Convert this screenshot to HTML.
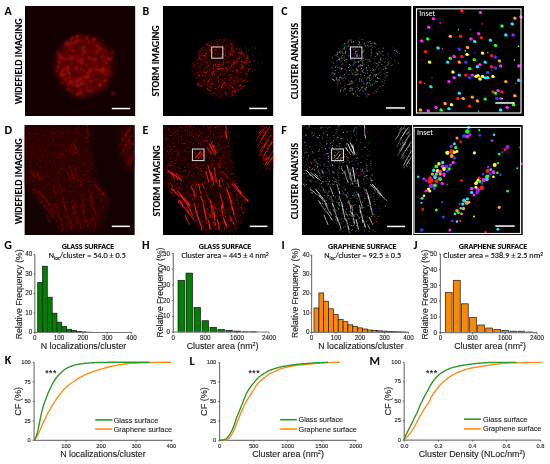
<!DOCTYPE html><html><head><meta charset="utf-8"><style>
html,body{margin:0;padding:0;background:#fff;}
svg{display:block;}
.pl{font-family:Carlito, Calibri, 'Liberation Sans', sans-serif;font-weight:bold;font-size:12px;fill:#000;}
.vl{font-family:Carlito, Calibri, 'Liberation Sans', sans-serif;font-weight:bold;font-size:9.3px;fill:#000;stroke:#000;stroke-width:0.1px;}
.ins{font-family:Carlito, Calibri, 'Liberation Sans', sans-serif;font-size:8px;fill:#f8f8f8;}
.tk{font-family:'Liberation Sans', Arial, sans-serif;font-size:6.3px;fill:#222;stroke:#222;stroke-width:0.12px;}
.tk2{font-family:'Liberation Sans', Arial, sans-serif;font-size:5.75px;fill:#222;stroke:#222;stroke-width:0.12px;}
.tt{font-family:Carlito, Calibri, 'Liberation Sans', sans-serif;font-weight:bold;font-size:8px;fill:#000;stroke:#000;stroke-width:0.1px;}
.st{font-family:Carlito, Calibri, 'Liberation Sans', sans-serif;font-size:8.2px;fill:#111;stroke:#111;stroke-width:0.15px;}
.sub{font-size:5px;}
.sup{font-size:5.2px;}
.yt{font-family:'Liberation Sans', Arial, sans-serif;font-size:8.6px;fill:#222;stroke:#222;stroke-width:0.12px;}
.yt2{font-family:'Liberation Sans', Arial, sans-serif;font-size:9.1px;fill:#222;stroke:#222;stroke-width:0.12px;}
.xt{font-family:'Liberation Sans', Arial, sans-serif;font-size:8.85px;fill:#1a1a1a;stroke:#1a1a1a;stroke-width:0.12px;}
.lg{font-family:'Liberation Sans', Arial, sans-serif;font-size:7.3px;fill:#222;stroke:#222;stroke-width:0.1px;}
.ast{font-family:'Liberation Sans', Arial, sans-serif;font-weight:bold;font-size:8.5px;fill:#333;letter-spacing:0.6px;}
</style></head><body><svg width="550" height="464" viewBox="0 0 550 464"><defs>
<filter id="blur2" x="-20%" y="-20%" width="140%" height="140%"><feGaussianBlur stdDeviation="3"/></filter>
<clipPath id="clip110"><rect width="110.4" height="110"/></clipPath>
<filter id="blur1" x="-10%" y="-10%" width="120%" height="120%"><feGaussianBlur stdDeviation="0.7"/></filter>
<filter id="blur15" x="-10%" y="-10%" width="120%" height="120%"><feGaussianBlur stdDeviation="1"/></filter>
</defs><rect width="550" height="464" fill="#fff"/><text x="4.6" y="14.6" class="pl">A</text><text transform="translate(21.9,61.4) rotate(-90)" class="vl" text-anchor="middle" textLength="85.8" lengthAdjust="spacingAndGlyphs">WIDEFIELD IMAGING</text><g transform="translate(25,6)" clip-path="url(#clip110)"><rect width="110.4" height="110" fill="#140000"/><g filter="url(#blur2)"><ellipse cx="59.5" cy="60" rx="28.5" ry="29.5" fill="#4a0505"/></g><g filter="url(#blur15)"><path d="M36.3 60.8a1.6 1.6 0 1 0 3.2 0a1.6 1.6 0 1 0 -3.2 0zM69.9 68.1a0.9 0.9 0 1 0 1.8 0a0.9 0.9 0 1 0 -1.8 0zM56.6 55.8a0.9 0.9 0 1 0 1.8 0a0.9 0.9 0 1 0 -1.8 0zM63.5 32.6a0.9 0.9 0 1 0 1.8 0a0.9 0.9 0 1 0 -1.8 0zM37.7 72.2a1.2 1.2 0 1 0 2.4 0a1.2 1.2 0 1 0 -2.4 0zM29.9 48.3a1.2 1.2 0 1 0 2.4 0a1.2 1.2 0 1 0 -2.4 0zM82.2 52a0.9 0.9 0 1 0 1.8 0a0.9 0.9 0 1 0 -1.8 0zM30.4 65.8a0.9 0.9 0 1 0 1.8 0a0.9 0.9 0 1 0 -1.8 0zM57 70.7a1.6 1.6 0 1 0 3.2 0a1.6 1.6 0 1 0 -3.2 0zM67.1 44.6a0.9 0.9 0 1 0 1.8 0a0.9 0.9 0 1 0 -1.8 0zM83.8 65.1a1.6 1.6 0 1 0 3.2 0a1.6 1.6 0 1 0 -3.2 0zM70.3 59a0.9 0.9 0 1 0 1.8 0a0.9 0.9 0 1 0 -1.8 0zM38 36.9a1.2 1.2 0 1 0 2.4 0a1.2 1.2 0 1 0 -2.4 0zM56.8 89.8a1.2 1.2 0 1 0 2.4 0a1.2 1.2 0 1 0 -2.4 0zM45.5 83.7a1.6 1.6 0 1 0 3.2 0a1.6 1.6 0 1 0 -3.2 0zM42.9 67.5a1.6 1.6 0 1 0 3.2 0a1.6 1.6 0 1 0 -3.2 0zM73.8 37.5a1.2 1.2 0 1 0 2.4 0a1.2 1.2 0 1 0 -2.4 0zM56.6 70.6a0.9 0.9 0 1 0 1.8 0a0.9 0.9 0 1 0 -1.8 0zM51.1 31.1a1.2 1.2 0 1 0 2.4 0a1.2 1.2 0 1 0 -2.4 0zM42.4 75.3a0.9 0.9 0 1 0 1.8 0a0.9 0.9 0 1 0 -1.8 0zM48.2 30.8a1.2 1.2 0 1 0 2.4 0a1.2 1.2 0 1 0 -2.4 0zM47.7 54.5a1.2 1.2 0 1 0 2.4 0a1.2 1.2 0 1 0 -2.4 0zM71.3 55.8a1.2 1.2 0 1 0 2.4 0a1.2 1.2 0 1 0 -2.4 0zM64.6 73.2a0.9 0.9 0 1 0 1.8 0a0.9 0.9 0 1 0 -1.8 0zM54.2 64.1a1.6 1.6 0 1 0 3.2 0a1.6 1.6 0 1 0 -3.2 0zM60.8 65.1a0.9 0.9 0 1 0 1.8 0a0.9 0.9 0 1 0 -1.8 0zM52.9 33a0.9 0.9 0 1 0 1.8 0a0.9 0.9 0 1 0 -1.8 0zM51.4 81.1a1.6 1.6 0 1 0 3.2 0a1.6 1.6 0 1 0 -3.2 0zM32.4 60.7a1.2 1.2 0 1 0 2.4 0a1.2 1.2 0 1 0 -2.4 0zM81.2 68.1a1.6 1.6 0 1 0 3.2 0a1.6 1.6 0 1 0 -3.2 0zM38.7 40.1a1.6 1.6 0 1 0 3.2 0a1.6 1.6 0 1 0 -3.2 0zM51 55.4a1.2 1.2 0 1 0 2.4 0a1.2 1.2 0 1 0 -2.4 0zM62.1 74.3a0.9 0.9 0 1 0 1.8 0a0.9 0.9 0 1 0 -1.8 0zM52.3 73a0.9 0.9 0 1 0 1.8 0a0.9 0.9 0 1 0 -1.8 0zM80.3 58.7a0.9 0.9 0 1 0 1.8 0a0.9 0.9 0 1 0 -1.8 0zM60.1 64.8a0.9 0.9 0 1 0 1.8 0a0.9 0.9 0 1 0 -1.8 0zM56.1 78.5a1.2 1.2 0 1 0 2.4 0a1.2 1.2 0 1 0 -2.4 0zM54.2 67.1a0.9 0.9 0 1 0 1.8 0a0.9 0.9 0 1 0 -1.8 0zM37.8 53.6a1.2 1.2 0 1 0 2.4 0a1.2 1.2 0 1 0 -2.4 0zM66.4 31.6a0.9 0.9 0 1 0 1.8 0a0.9 0.9 0 1 0 -1.8 0zM46.1 30.9a1.6 1.6 0 1 0 3.2 0a1.6 1.6 0 1 0 -3.2 0zM80.4 43.1a0.9 0.9 0 1 0 1.8 0a0.9 0.9 0 1 0 -1.8 0zM32.7 48.1a1.6 1.6 0 1 0 3.2 0a1.6 1.6 0 1 0 -3.2 0zM52.5 75.6a0.9 0.9 0 1 0 1.8 0a0.9 0.9 0 1 0 -1.8 0zM68.8 68.7a0.9 0.9 0 1 0 1.8 0a0.9 0.9 0 1 0 -1.8 0zM60.1 59.8a0.9 0.9 0 1 0 1.8 0a0.9 0.9 0 1 0 -1.8 0zM42.7 48.9a1.6 1.6 0 1 0 3.2 0a1.6 1.6 0 1 0 -3.2 0zM68.8 81.7a0.9 0.9 0 1 0 1.8 0a0.9 0.9 0 1 0 -1.8 0zM50.8 90.7a1.2 1.2 0 1 0 2.4 0a1.2 1.2 0 1 0 -2.4 0zM62.6 44.8a1.6 1.6 0 1 0 3.2 0a1.6 1.6 0 1 0 -3.2 0zM53.3 33.3a0.9 0.9 0 1 0 1.8 0a0.9 0.9 0 1 0 -1.8 0zM62.9 66.4a1.6 1.6 0 1 0 3.2 0a1.6 1.6 0 1 0 -3.2 0zM59.3 70.7a0.9 0.9 0 1 0 1.8 0a0.9 0.9 0 1 0 -1.8 0zM53.9 68.6a0.9 0.9 0 1 0 1.8 0a0.9 0.9 0 1 0 -1.8 0zM39.7 44.5a0.9 0.9 0 1 0 1.8 0a0.9 0.9 0 1 0 -1.8 0zM57.7 49.8a1.2 1.2 0 1 0 2.4 0a1.2 1.2 0 1 0 -2.4 0zM80.1 50.8a1.6 1.6 0 1 0 3.2 0a1.6 1.6 0 1 0 -3.2 0zM82.3 66.8a1.2 1.2 0 1 0 2.4 0a1.2 1.2 0 1 0 -2.4 0zM54 50.8a0.9 0.9 0 1 0 1.8 0a0.9 0.9 0 1 0 -1.8 0zM54.3 66.6a1.6 1.6 0 1 0 3.2 0a1.6 1.6 0 1 0 -3.2 0zM80 46.3a1.2 1.2 0 1 0 2.4 0a1.2 1.2 0 1 0 -2.4 0zM75.2 61.1a0.9 0.9 0 1 0 1.8 0a0.9 0.9 0 1 0 -1.8 0zM71.5 65.9a0.9 0.9 0 1 0 1.8 0a0.9 0.9 0 1 0 -1.8 0zM64.1 46.4a1.6 1.6 0 1 0 3.2 0a1.6 1.6 0 1 0 -3.2 0zM30 69.4a0.9 0.9 0 1 0 1.8 0a0.9 0.9 0 1 0 -1.8 0zM53.3 74.9a1.2 1.2 0 1 0 2.4 0a1.2 1.2 0 1 0 -2.4 0zM51.1 62a1.2 1.2 0 1 0 2.4 0a1.2 1.2 0 1 0 -2.4 0zM80.1 46.9a0.9 0.9 0 1 0 1.8 0a0.9 0.9 0 1 0 -1.8 0zM37 40.2a0.9 0.9 0 1 0 1.8 0a0.9 0.9 0 1 0 -1.8 0zM48 63.3a0.9 0.9 0 1 0 1.8 0a0.9 0.9 0 1 0 -1.8 0zM70.1 41.6a0.9 0.9 0 1 0 1.8 0a0.9 0.9 0 1 0 -1.8 0zM66.5 36a0.9 0.9 0 1 0 1.8 0a0.9 0.9 0 1 0 -1.8 0zM57 57.8a1.6 1.6 0 1 0 3.2 0a1.6 1.6 0 1 0 -3.2 0zM58.4 91.3a1.2 1.2 0 1 0 2.4 0a1.2 1.2 0 1 0 -2.4 0zM33.2 71.7a1.6 1.6 0 1 0 3.2 0a1.6 1.6 0 1 0 -3.2 0zM76.9 63.9a0.9 0.9 0 1 0 1.8 0a0.9 0.9 0 1 0 -1.8 0zM63.2 75.7a1.2 1.2 0 1 0 2.4 0a1.2 1.2 0 1 0 -2.4 0zM38.1 48.3a1.2 1.2 0 1 0 2.4 0a1.2 1.2 0 1 0 -2.4 0zM61.8 49.7a1.6 1.6 0 1 0 3.2 0a1.6 1.6 0 1 0 -3.2 0zM60 65.2a0.9 0.9 0 1 0 1.8 0a0.9 0.9 0 1 0 -1.8 0zM40.5 65.4a1.6 1.6 0 1 0 3.2 0a1.6 1.6 0 1 0 -3.2 0zM37.1 63.3a0.9 0.9 0 1 0 1.8 0a0.9 0.9 0 1 0 -1.8 0zM67.2 69.8a0.9 0.9 0 1 0 1.8 0a0.9 0.9 0 1 0 -1.8 0zM52.5 48.5a0.9 0.9 0 1 0 1.8 0a0.9 0.9 0 1 0 -1.8 0zM74.3 80.1a1.2 1.2 0 1 0 2.4 0a1.2 1.2 0 1 0 -2.4 0zM56.3 53.8a1.6 1.6 0 1 0 3.2 0a1.6 1.6 0 1 0 -3.2 0zM52 55.4a1.6 1.6 0 1 0 3.2 0a1.6 1.6 0 1 0 -3.2 0zM65.6 77.6a1.2 1.2 0 1 0 2.4 0a1.2 1.2 0 1 0 -2.4 0zM79.8 40.5a1.6 1.6 0 1 0 3.2 0a1.6 1.6 0 1 0 -3.2 0zM45 47.7a0.9 0.9 0 1 0 1.8 0a0.9 0.9 0 1 0 -1.8 0zM51.2 50a1.6 1.6 0 1 0 3.2 0a1.6 1.6 0 1 0 -3.2 0zM86.7 46.5a1.2 1.2 0 1 0 2.4 0a1.2 1.2 0 1 0 -2.4 0zM40.3 71.5a1.2 1.2 0 1 0 2.4 0a1.2 1.2 0 1 0 -2.4 0zM50.2 71.3a0.9 0.9 0 1 0 1.8 0a0.9 0.9 0 1 0 -1.8 0zM65.1 41a1.2 1.2 0 1 0 2.4 0a1.2 1.2 0 1 0 -2.4 0zM64.9 62.6a1.2 1.2 0 1 0 2.4 0a1.2 1.2 0 1 0 -2.4 0zM46.6 58.8a0.9 0.9 0 1 0 1.8 0a0.9 0.9 0 1 0 -1.8 0zM59.6 60.4a1.6 1.6 0 1 0 3.2 0a1.6 1.6 0 1 0 -3.2 0zM71.3 61.4a1.6 1.6 0 1 0 3.2 0a1.6 1.6 0 1 0 -3.2 0zM66.3 43.3a0.9 0.9 0 1 0 1.8 0a0.9 0.9 0 1 0 -1.8 0zM58.5 55.4a1.2 1.2 0 1 0 2.4 0a1.2 1.2 0 1 0 -2.4 0zM40.5 35.2a1.2 1.2 0 1 0 2.4 0a1.2 1.2 0 1 0 -2.4 0zM58.3 70.5a1.6 1.6 0 1 0 3.2 0a1.6 1.6 0 1 0 -3.2 0zM58.2 71.1a1.6 1.6 0 1 0 3.2 0a1.6 1.6 0 1 0 -3.2 0zM52.8 50.5a0.9 0.9 0 1 0 1.8 0a0.9 0.9 0 1 0 -1.8 0zM65.5 34.4a1.6 1.6 0 1 0 3.2 0a1.6 1.6 0 1 0 -3.2 0zM39.2 49.3a0.9 0.9 0 1 0 1.8 0a0.9 0.9 0 1 0 -1.8 0zM77 58.1a1.2 1.2 0 1 0 2.4 0a1.2 1.2 0 1 0 -2.4 0zM50.2 30.1a1.6 1.6 0 1 0 3.2 0a1.6 1.6 0 1 0 -3.2 0zM73.9 43.8a1.2 1.2 0 1 0 2.4 0a1.2 1.2 0 1 0 -2.4 0zM41 83.8a0.9 0.9 0 1 0 1.8 0a0.9 0.9 0 1 0 -1.8 0zM61.5 34.5a1.6 1.6 0 1 0 3.2 0a1.6 1.6 0 1 0 -3.2 0zM62.2 47a1.2 1.2 0 1 0 2.4 0a1.2 1.2 0 1 0 -2.4 0zM39.6 45.4a1.2 1.2 0 1 0 2.4 0a1.2 1.2 0 1 0 -2.4 0zM66.9 34.8a0.9 0.9 0 1 0 1.8 0a0.9 0.9 0 1 0 -1.8 0zM45 71.9a0.9 0.9 0 1 0 1.8 0a0.9 0.9 0 1 0 -1.8 0zM63.2 49.7a0.9 0.9 0 1 0 1.8 0a0.9 0.9 0 1 0 -1.8 0zM58.3 59.3a1.2 1.2 0 1 0 2.4 0a1.2 1.2 0 1 0 -2.4 0zM42.4 51.4a1.6 1.6 0 1 0 3.2 0a1.6 1.6 0 1 0 -3.2 0zM44.8 75.3a1.2 1.2 0 1 0 2.4 0a1.2 1.2 0 1 0 -2.4 0zM77.4 68.9a1.6 1.6 0 1 0 3.2 0a1.6 1.6 0 1 0 -3.2 0zM62.1 67.9a0.9 0.9 0 1 0 1.8 0a0.9 0.9 0 1 0 -1.8 0zM80.1 72.8a1.2 1.2 0 1 0 2.4 0a1.2 1.2 0 1 0 -2.4 0zM40.1 72.6a0.9 0.9 0 1 0 1.8 0a0.9 0.9 0 1 0 -1.8 0zM79.9 43.5a0.9 0.9 0 1 0 1.8 0a0.9 0.9 0 1 0 -1.8 0zM85.4 46.9a1.6 1.6 0 1 0 3.2 0a1.6 1.6 0 1 0 -3.2 0zM35 68.5a1.2 1.2 0 1 0 2.4 0a1.2 1.2 0 1 0 -2.4 0zM80.1 45.6a1.2 1.2 0 1 0 2.4 0a1.2 1.2 0 1 0 -2.4 0zM46.1 37.4a1.6 1.6 0 1 0 3.2 0a1.6 1.6 0 1 0 -3.2 0zM49.8 72.8a0.9 0.9 0 1 0 1.8 0a0.9 0.9 0 1 0 -1.8 0zM81.8 64.7a1.2 1.2 0 1 0 2.4 0a1.2 1.2 0 1 0 -2.4 0zM68.3 33.8a1.6 1.6 0 1 0 3.2 0a1.6 1.6 0 1 0 -3.2 0zM32.2 51.4a1.6 1.6 0 1 0 3.2 0a1.6 1.6 0 1 0 -3.2 0zM44.5 70.6a0.9 0.9 0 1 0 1.8 0a0.9 0.9 0 1 0 -1.8 0zM54.1 85.9a1.6 1.6 0 1 0 3.2 0a1.6 1.6 0 1 0 -3.2 0zM43.6 85.7a1.2 1.2 0 1 0 2.4 0a1.2 1.2 0 1 0 -2.4 0zM85.3 43.9a1.6 1.6 0 1 0 3.2 0a1.6 1.6 0 1 0 -3.2 0zM61.9 71a1.6 1.6 0 1 0 3.2 0a1.6 1.6 0 1 0 -3.2 0zM76.1 46.7a1.6 1.6 0 1 0 3.2 0a1.6 1.6 0 1 0 -3.2 0zM56.7 87.1a0.9 0.9 0 1 0 1.8 0a0.9 0.9 0 1 0 -1.8 0zM82 78.7a0.9 0.9 0 1 0 1.8 0a0.9 0.9 0 1 0 -1.8 0zM46.3 31.6a1.2 1.2 0 1 0 2.4 0a1.2 1.2 0 1 0 -2.4 0zM38.5 49.3a0.9 0.9 0 1 0 1.8 0a0.9 0.9 0 1 0 -1.8 0z" fill="#d01414" fill-opacity="0.2"/><path d="M55.5 64.2a1.2 1.2 0 1 0 2.4 0a1.2 1.2 0 1 0 -2.4 0zM55.7 84.9a0.9 0.9 0 1 0 1.8 0a0.9 0.9 0 1 0 -1.8 0zM66.8 38a1.2 1.2 0 1 0 2.4 0a1.2 1.2 0 1 0 -2.4 0zM80.8 73.5a0.9 0.9 0 1 0 1.8 0a0.9 0.9 0 1 0 -1.8 0zM67.7 83.2a0.9 0.9 0 1 0 1.8 0a0.9 0.9 0 1 0 -1.8 0zM69.2 53.5a1.6 1.6 0 1 0 3.2 0a1.6 1.6 0 1 0 -3.2 0zM73.6 47.1a0.9 0.9 0 1 0 1.8 0a0.9 0.9 0 1 0 -1.8 0zM83.4 52.1a0.9 0.9 0 1 0 1.8 0a0.9 0.9 0 1 0 -1.8 0zM66.2 65.4a0.9 0.9 0 1 0 1.8 0a0.9 0.9 0 1 0 -1.8 0zM40.9 38.3a1.6 1.6 0 1 0 3.2 0a1.6 1.6 0 1 0 -3.2 0zM67.4 63.8a1.6 1.6 0 1 0 3.2 0a1.6 1.6 0 1 0 -3.2 0zM40.5 74.3a1.2 1.2 0 1 0 2.4 0a1.2 1.2 0 1 0 -2.4 0zM69.4 73.4a1.6 1.6 0 1 0 3.2 0a1.6 1.6 0 1 0 -3.2 0zM49.1 46.8a0.9 0.9 0 1 0 1.8 0a0.9 0.9 0 1 0 -1.8 0zM55.8 50.7a0.9 0.9 0 1 0 1.8 0a0.9 0.9 0 1 0 -1.8 0zM73.1 80.5a1.2 1.2 0 1 0 2.4 0a1.2 1.2 0 1 0 -2.4 0zM48.7 73a0.9 0.9 0 1 0 1.8 0a0.9 0.9 0 1 0 -1.8 0zM70.5 51.5a0.9 0.9 0 1 0 1.8 0a0.9 0.9 0 1 0 -1.8 0zM68.5 81.3a0.9 0.9 0 1 0 1.8 0a0.9 0.9 0 1 0 -1.8 0zM85 51.9a1.6 1.6 0 1 0 3.2 0a1.6 1.6 0 1 0 -3.2 0zM33.5 49.6a0.9 0.9 0 1 0 1.8 0a0.9 0.9 0 1 0 -1.8 0zM55.8 30.2a0.9 0.9 0 1 0 1.8 0a0.9 0.9 0 1 0 -1.8 0zM68.9 64.5a1.6 1.6 0 1 0 3.2 0a1.6 1.6 0 1 0 -3.2 0zM33.6 56.8a0.9 0.9 0 1 0 1.8 0a0.9 0.9 0 1 0 -1.8 0zM77.9 43.6a0.9 0.9 0 1 0 1.8 0a0.9 0.9 0 1 0 -1.8 0zM73.4 77.9a1.6 1.6 0 1 0 3.2 0a1.6 1.6 0 1 0 -3.2 0zM72.8 40.7a1.2 1.2 0 1 0 2.4 0a1.2 1.2 0 1 0 -2.4 0zM61.9 70.7a1.6 1.6 0 1 0 3.2 0a1.6 1.6 0 1 0 -3.2 0zM61.4 80.4a1.2 1.2 0 1 0 2.4 0a1.2 1.2 0 1 0 -2.4 0zM82.9 64.2a1.2 1.2 0 1 0 2.4 0a1.2 1.2 0 1 0 -2.4 0zM84.7 67.7a1.2 1.2 0 1 0 2.4 0a1.2 1.2 0 1 0 -2.4 0zM42.9 58.1a0.9 0.9 0 1 0 1.8 0a0.9 0.9 0 1 0 -1.8 0zM47.6 88.1a1.2 1.2 0 1 0 2.4 0a1.2 1.2 0 1 0 -2.4 0zM39.7 73.1a1.2 1.2 0 1 0 2.4 0a1.2 1.2 0 1 0 -2.4 0zM74.5 42.1a1.2 1.2 0 1 0 2.4 0a1.2 1.2 0 1 0 -2.4 0zM37.7 69.2a1.6 1.6 0 1 0 3.2 0a1.6 1.6 0 1 0 -3.2 0zM66.9 85a0.9 0.9 0 1 0 1.8 0a0.9 0.9 0 1 0 -1.8 0zM47.7 37.7a1.6 1.6 0 1 0 3.2 0a1.6 1.6 0 1 0 -3.2 0zM31.9 60.4a1.2 1.2 0 1 0 2.4 0a1.2 1.2 0 1 0 -2.4 0zM59.3 73a0.9 0.9 0 1 0 1.8 0a0.9 0.9 0 1 0 -1.8 0zM43.2 72.1a1.6 1.6 0 1 0 3.2 0a1.6 1.6 0 1 0 -3.2 0zM75.9 53.4a0.9 0.9 0 1 0 1.8 0a0.9 0.9 0 1 0 -1.8 0zM37.2 65.9a1.2 1.2 0 1 0 2.4 0a1.2 1.2 0 1 0 -2.4 0zM75.9 79.5a1.2 1.2 0 1 0 2.4 0a1.2 1.2 0 1 0 -2.4 0zM72.7 78.7a0.9 0.9 0 1 0 1.8 0a0.9 0.9 0 1 0 -1.8 0zM79.9 46.1a0.9 0.9 0 1 0 1.8 0a0.9 0.9 0 1 0 -1.8 0zM63.7 62.3a1.2 1.2 0 1 0 2.4 0a1.2 1.2 0 1 0 -2.4 0zM58.7 78.3a1.6 1.6 0 1 0 3.2 0a1.6 1.6 0 1 0 -3.2 0zM50.1 31.9a1.2 1.2 0 1 0 2.4 0a1.2 1.2 0 1 0 -2.4 0zM60.7 66.8a1.2 1.2 0 1 0 2.4 0a1.2 1.2 0 1 0 -2.4 0zM51.2 65.7a1.6 1.6 0 1 0 3.2 0a1.6 1.6 0 1 0 -3.2 0zM40.5 61.6a1.6 1.6 0 1 0 3.2 0a1.6 1.6 0 1 0 -3.2 0zM48.8 35.8a1.2 1.2 0 1 0 2.4 0a1.2 1.2 0 1 0 -2.4 0zM65.5 69.8a1.6 1.6 0 1 0 3.2 0a1.6 1.6 0 1 0 -3.2 0zM44.1 34a1.2 1.2 0 1 0 2.4 0a1.2 1.2 0 1 0 -2.4 0zM54.9 77.3a1.2 1.2 0 1 0 2.4 0a1.2 1.2 0 1 0 -2.4 0zM62.5 77.2a0.9 0.9 0 1 0 1.8 0a0.9 0.9 0 1 0 -1.8 0zM55.7 47.7a1.6 1.6 0 1 0 3.2 0a1.6 1.6 0 1 0 -3.2 0zM29.6 64.5a1.2 1.2 0 1 0 2.4 0a1.2 1.2 0 1 0 -2.4 0zM47.1 86.7a0.9 0.9 0 1 0 1.8 0a0.9 0.9 0 1 0 -1.8 0zM48.8 75.8a1.2 1.2 0 1 0 2.4 0a1.2 1.2 0 1 0 -2.4 0zM55.9 84.8a0.9 0.9 0 1 0 1.8 0a0.9 0.9 0 1 0 -1.8 0zM35.2 45.7a0.9 0.9 0 1 0 1.8 0a0.9 0.9 0 1 0 -1.8 0zM69.7 81.3a0.9 0.9 0 1 0 1.8 0a0.9 0.9 0 1 0 -1.8 0zM51.4 48.6a1.2 1.2 0 1 0 2.4 0a1.2 1.2 0 1 0 -2.4 0zM70.5 59.6a1.6 1.6 0 1 0 3.2 0a1.6 1.6 0 1 0 -3.2 0zM50.3 31.2a1.2 1.2 0 1 0 2.4 0a1.2 1.2 0 1 0 -2.4 0zM53.6 54.4a0.9 0.9 0 1 0 1.8 0a0.9 0.9 0 1 0 -1.8 0zM40.6 36.4a1.6 1.6 0 1 0 3.2 0a1.6 1.6 0 1 0 -3.2 0zM50.4 36.7a0.9 0.9 0 1 0 1.8 0a0.9 0.9 0 1 0 -1.8 0zM65.4 58a1.6 1.6 0 1 0 3.2 0a1.6 1.6 0 1 0 -3.2 0zM62.3 84.7a1.2 1.2 0 1 0 2.4 0a1.2 1.2 0 1 0 -2.4 0zM57.9 40.5a0.9 0.9 0 1 0 1.8 0a0.9 0.9 0 1 0 -1.8 0zM55.3 42.3a1.2 1.2 0 1 0 2.4 0a1.2 1.2 0 1 0 -2.4 0zM67.5 61.1a0.9 0.9 0 1 0 1.8 0a0.9 0.9 0 1 0 -1.8 0zM38 63a1.6 1.6 0 1 0 3.2 0a1.6 1.6 0 1 0 -3.2 0zM45.5 53.4a1.6 1.6 0 1 0 3.2 0a1.6 1.6 0 1 0 -3.2 0zM44.8 57.7a1.6 1.6 0 1 0 3.2 0a1.6 1.6 0 1 0 -3.2 0zM57.4 45.5a0.9 0.9 0 1 0 1.8 0a0.9 0.9 0 1 0 -1.8 0zM41.4 39a1.6 1.6 0 1 0 3.2 0a1.6 1.6 0 1 0 -3.2 0zM55.4 51.8a0.9 0.9 0 1 0 1.8 0a0.9 0.9 0 1 0 -1.8 0zM71.5 74.6a0.9 0.9 0 1 0 1.8 0a0.9 0.9 0 1 0 -1.8 0zM56.5 74.3a0.9 0.9 0 1 0 1.8 0a0.9 0.9 0 1 0 -1.8 0zM40 36a0.9 0.9 0 1 0 1.8 0a0.9 0.9 0 1 0 -1.8 0zM59.9 70.3a0.9 0.9 0 1 0 1.8 0a0.9 0.9 0 1 0 -1.8 0zM74.7 67.9a1.2 1.2 0 1 0 2.4 0a1.2 1.2 0 1 0 -2.4 0zM70.3 67.6a0.9 0.9 0 1 0 1.8 0a0.9 0.9 0 1 0 -1.8 0zM74.2 83.5a0.9 0.9 0 1 0 1.8 0a0.9 0.9 0 1 0 -1.8 0zM70.3 79.4a0.9 0.9 0 1 0 1.8 0a0.9 0.9 0 1 0 -1.8 0zM55.8 76.1a0.9 0.9 0 1 0 1.8 0a0.9 0.9 0 1 0 -1.8 0zM63.1 64.2a1.2 1.2 0 1 0 2.4 0a1.2 1.2 0 1 0 -2.4 0zM35.6 77.2a1.2 1.2 0 1 0 2.4 0a1.2 1.2 0 1 0 -2.4 0zM66.2 33.6a0.9 0.9 0 1 0 1.8 0a0.9 0.9 0 1 0 -1.8 0zM41 65.2a0.9 0.9 0 1 0 1.8 0a0.9 0.9 0 1 0 -1.8 0zM42.3 64.8a1.2 1.2 0 1 0 2.4 0a1.2 1.2 0 1 0 -2.4 0zM52.3 44.7a1.2 1.2 0 1 0 2.4 0a1.2 1.2 0 1 0 -2.4 0zM46.9 61.4a1.2 1.2 0 1 0 2.4 0a1.2 1.2 0 1 0 -2.4 0zM49.2 63.2a1.6 1.6 0 1 0 3.2 0a1.6 1.6 0 1 0 -3.2 0zM54.3 56.5a1.6 1.6 0 1 0 3.2 0a1.6 1.6 0 1 0 -3.2 0zM40 46.4a1.2 1.2 0 1 0 2.4 0a1.2 1.2 0 1 0 -2.4 0zM45.9 85.1a1.2 1.2 0 1 0 2.4 0a1.2 1.2 0 1 0 -2.4 0zM68.4 38.4a0.9 0.9 0 1 0 1.8 0a0.9 0.9 0 1 0 -1.8 0zM69.3 46.4a1.2 1.2 0 1 0 2.4 0a1.2 1.2 0 1 0 -2.4 0zM70.8 57.4a0.9 0.9 0 1 0 1.8 0a0.9 0.9 0 1 0 -1.8 0zM54.2 62a1.6 1.6 0 1 0 3.2 0a1.6 1.6 0 1 0 -3.2 0zM35.7 67.6a0.9 0.9 0 1 0 1.8 0a0.9 0.9 0 1 0 -1.8 0zM79.2 80.4a0.9 0.9 0 1 0 1.8 0a0.9 0.9 0 1 0 -1.8 0zM74.7 85a0.9 0.9 0 1 0 1.8 0a0.9 0.9 0 1 0 -1.8 0zM63.2 63a1.6 1.6 0 1 0 3.2 0a1.6 1.6 0 1 0 -3.2 0zM75.1 79.6a1.6 1.6 0 1 0 3.2 0a1.6 1.6 0 1 0 -3.2 0zM62.4 41.9a1.2 1.2 0 1 0 2.4 0a1.2 1.2 0 1 0 -2.4 0zM39 51.5a0.9 0.9 0 1 0 1.8 0a0.9 0.9 0 1 0 -1.8 0zM79.3 81.3a1.2 1.2 0 1 0 2.4 0a1.2 1.2 0 1 0 -2.4 0zM38.1 40a1.2 1.2 0 1 0 2.4 0a1.2 1.2 0 1 0 -2.4 0zM66.9 61.3a1.6 1.6 0 1 0 3.2 0a1.6 1.6 0 1 0 -3.2 0zM41.8 52.5a1.6 1.6 0 1 0 3.2 0a1.6 1.6 0 1 0 -3.2 0zM50.7 30.8a1.2 1.2 0 1 0 2.4 0a1.2 1.2 0 1 0 -2.4 0zM46.2 78.9a1.6 1.6 0 1 0 3.2 0a1.6 1.6 0 1 0 -3.2 0zM70.7 35.3a0.9 0.9 0 1 0 1.8 0a0.9 0.9 0 1 0 -1.8 0zM77.2 49.6a1.6 1.6 0 1 0 3.2 0a1.6 1.6 0 1 0 -3.2 0zM48 54.6a0.9 0.9 0 1 0 1.8 0a0.9 0.9 0 1 0 -1.8 0zM56.9 43a1.6 1.6 0 1 0 3.2 0a1.6 1.6 0 1 0 -3.2 0zM42.4 71.8a0.9 0.9 0 1 0 1.8 0a0.9 0.9 0 1 0 -1.8 0zM68.8 51.9a1.2 1.2 0 1 0 2.4 0a1.2 1.2 0 1 0 -2.4 0zM50.8 88.7a0.9 0.9 0 1 0 1.8 0a0.9 0.9 0 1 0 -1.8 0zM60.2 89.9a1.2 1.2 0 1 0 2.4 0a1.2 1.2 0 1 0 -2.4 0zM85.8 46.7a1.2 1.2 0 1 0 2.4 0a1.2 1.2 0 1 0 -2.4 0zM46.8 78.1a1.6 1.6 0 1 0 3.2 0a1.6 1.6 0 1 0 -3.2 0zM32.5 48.1a0.9 0.9 0 1 0 1.8 0a0.9 0.9 0 1 0 -1.8 0zM43.3 52.4a1.6 1.6 0 1 0 3.2 0a1.6 1.6 0 1 0 -3.2 0zM58 33.4a1.2 1.2 0 1 0 2.4 0a1.2 1.2 0 1 0 -2.4 0zM33.9 68.8a1.2 1.2 0 1 0 2.4 0a1.2 1.2 0 1 0 -2.4 0zM37.5 63.6a1.6 1.6 0 1 0 3.2 0a1.6 1.6 0 1 0 -3.2 0zM41.5 38.2a1.2 1.2 0 1 0 2.4 0a1.2 1.2 0 1 0 -2.4 0zM54.4 83.4a1.6 1.6 0 1 0 3.2 0a1.6 1.6 0 1 0 -3.2 0zM71.3 44a0.9 0.9 0 1 0 1.8 0a0.9 0.9 0 1 0 -1.8 0zM60.3 81.7a1.6 1.6 0 1 0 3.2 0a1.6 1.6 0 1 0 -3.2 0zM39.7 52.2a1.2 1.2 0 1 0 2.4 0a1.2 1.2 0 1 0 -2.4 0zM59.2 44.4a1.2 1.2 0 1 0 2.4 0a1.2 1.2 0 1 0 -2.4 0zM67.7 56.5a1.2 1.2 0 1 0 2.4 0a1.2 1.2 0 1 0 -2.4 0z" fill="#d01414" fill-opacity="0.35"/><path d="M65.5 52.7a1.2 1.2 0 1 0 2.4 0a1.2 1.2 0 1 0 -2.4 0zM60.1 69.8a1.2 1.2 0 1 0 2.4 0a1.2 1.2 0 1 0 -2.4 0zM51.2 30.1a1.6 1.6 0 1 0 3.2 0a1.6 1.6 0 1 0 -3.2 0zM36.2 64.2a1.2 1.2 0 1 0 2.4 0a1.2 1.2 0 1 0 -2.4 0zM77.7 54.3a1.2 1.2 0 1 0 2.4 0a1.2 1.2 0 1 0 -2.4 0zM32.3 54.5a0.9 0.9 0 1 0 1.8 0a0.9 0.9 0 1 0 -1.8 0zM41.9 79.1a1.2 1.2 0 1 0 2.4 0a1.2 1.2 0 1 0 -2.4 0zM67 33.9a1.6 1.6 0 1 0 3.2 0a1.6 1.6 0 1 0 -3.2 0zM57.7 65.2a1.2 1.2 0 1 0 2.4 0a1.2 1.2 0 1 0 -2.4 0zM66.3 54.5a0.9 0.9 0 1 0 1.8 0a0.9 0.9 0 1 0 -1.8 0zM31.4 60.9a1.2 1.2 0 1 0 2.4 0a1.2 1.2 0 1 0 -2.4 0zM53.3 88.3a1.2 1.2 0 1 0 2.4 0a1.2 1.2 0 1 0 -2.4 0zM43.9 37.3a1.6 1.6 0 1 0 3.2 0a1.6 1.6 0 1 0 -3.2 0zM52.9 42.4a0.9 0.9 0 1 0 1.8 0a0.9 0.9 0 1 0 -1.8 0zM35.7 50.8a1.6 1.6 0 1 0 3.2 0a1.6 1.6 0 1 0 -3.2 0zM33.5 56.5a1.2 1.2 0 1 0 2.4 0a1.2 1.2 0 1 0 -2.4 0zM57.6 76.1a1.2 1.2 0 1 0 2.4 0a1.2 1.2 0 1 0 -2.4 0zM85.1 54.2a0.9 0.9 0 1 0 1.8 0a0.9 0.9 0 1 0 -1.8 0zM50.6 76.5a1.6 1.6 0 1 0 3.2 0a1.6 1.6 0 1 0 -3.2 0zM55.4 57.4a1.6 1.6 0 1 0 3.2 0a1.6 1.6 0 1 0 -3.2 0zM57.1 41.1a1.6 1.6 0 1 0 3.2 0a1.6 1.6 0 1 0 -3.2 0zM49.2 35a1.6 1.6 0 1 0 3.2 0a1.6 1.6 0 1 0 -3.2 0zM70.3 55.9a0.9 0.9 0 1 0 1.8 0a0.9 0.9 0 1 0 -1.8 0zM47 71.6a0.9 0.9 0 1 0 1.8 0a0.9 0.9 0 1 0 -1.8 0zM43.2 36.8a1.2 1.2 0 1 0 2.4 0a1.2 1.2 0 1 0 -2.4 0zM50.2 61.4a1.6 1.6 0 1 0 3.2 0a1.6 1.6 0 1 0 -3.2 0zM73.4 64.9a1.2 1.2 0 1 0 2.4 0a1.2 1.2 0 1 0 -2.4 0zM61.3 69.8a1.2 1.2 0 1 0 2.4 0a1.2 1.2 0 1 0 -2.4 0zM38.1 58.3a0.9 0.9 0 1 0 1.8 0a0.9 0.9 0 1 0 -1.8 0zM77.9 62.8a1.6 1.6 0 1 0 3.2 0a1.6 1.6 0 1 0 -3.2 0zM32.5 56.7a1.6 1.6 0 1 0 3.2 0a1.6 1.6 0 1 0 -3.2 0zM47.6 80.2a0.9 0.9 0 1 0 1.8 0a0.9 0.9 0 1 0 -1.8 0zM62.7 36.5a1.6 1.6 0 1 0 3.2 0a1.6 1.6 0 1 0 -3.2 0zM55.9 89.5a1.2 1.2 0 1 0 2.4 0a1.2 1.2 0 1 0 -2.4 0zM60.5 32.6a1.2 1.2 0 1 0 2.4 0a1.2 1.2 0 1 0 -2.4 0zM74 74.1a1.2 1.2 0 1 0 2.4 0a1.2 1.2 0 1 0 -2.4 0zM40.6 75.9a1.2 1.2 0 1 0 2.4 0a1.2 1.2 0 1 0 -2.4 0zM30.5 64.9a1.2 1.2 0 1 0 2.4 0a1.2 1.2 0 1 0 -2.4 0zM51.2 54.9a1.2 1.2 0 1 0 2.4 0a1.2 1.2 0 1 0 -2.4 0zM44.7 40.1a1.2 1.2 0 1 0 2.4 0a1.2 1.2 0 1 0 -2.4 0zM72.5 78.3a1.6 1.6 0 1 0 3.2 0a1.6 1.6 0 1 0 -3.2 0zM75.5 43a1.2 1.2 0 1 0 2.4 0a1.2 1.2 0 1 0 -2.4 0zM62.6 71.8a0.9 0.9 0 1 0 1.8 0a0.9 0.9 0 1 0 -1.8 0zM56.8 36.8a1.2 1.2 0 1 0 2.4 0a1.2 1.2 0 1 0 -2.4 0zM61.7 66.8a1.2 1.2 0 1 0 2.4 0a1.2 1.2 0 1 0 -2.4 0zM60.9 58.8a1.2 1.2 0 1 0 2.4 0a1.2 1.2 0 1 0 -2.4 0zM77.5 66a1.6 1.6 0 1 0 3.2 0a1.6 1.6 0 1 0 -3.2 0zM50.7 87.8a1.6 1.6 0 1 0 3.2 0a1.6 1.6 0 1 0 -3.2 0zM54.8 71.8a1.2 1.2 0 1 0 2.4 0a1.2 1.2 0 1 0 -2.4 0zM52.8 79.5a1.6 1.6 0 1 0 3.2 0a1.6 1.6 0 1 0 -3.2 0zM78.7 68.7a1.2 1.2 0 1 0 2.4 0a1.2 1.2 0 1 0 -2.4 0zM42.6 67.7a1.6 1.6 0 1 0 3.2 0a1.6 1.6 0 1 0 -3.2 0zM43.6 41.8a0.9 0.9 0 1 0 1.8 0a0.9 0.9 0 1 0 -1.8 0zM48.2 77.1a0.9 0.9 0 1 0 1.8 0a0.9 0.9 0 1 0 -1.8 0zM79.6 56.3a1.6 1.6 0 1 0 3.2 0a1.6 1.6 0 1 0 -3.2 0zM81.2 57.4a0.9 0.9 0 1 0 1.8 0a0.9 0.9 0 1 0 -1.8 0zM44.7 75.7a1.6 1.6 0 1 0 3.2 0a1.6 1.6 0 1 0 -3.2 0zM49.1 50.6a1.2 1.2 0 1 0 2.4 0a1.2 1.2 0 1 0 -2.4 0zM75.5 50.8a1.2 1.2 0 1 0 2.4 0a1.2 1.2 0 1 0 -2.4 0zM61.2 83.5a1.6 1.6 0 1 0 3.2 0a1.6 1.6 0 1 0 -3.2 0zM77.4 61.5a1.2 1.2 0 1 0 2.4 0a1.2 1.2 0 1 0 -2.4 0zM60.8 74.7a0.9 0.9 0 1 0 1.8 0a0.9 0.9 0 1 0 -1.8 0zM45 33a1.6 1.6 0 1 0 3.2 0a1.6 1.6 0 1 0 -3.2 0zM39.5 37.9a1.2 1.2 0 1 0 2.4 0a1.2 1.2 0 1 0 -2.4 0zM52 88.7a1.2 1.2 0 1 0 2.4 0a1.2 1.2 0 1 0 -2.4 0zM79.7 79.2a0.9 0.9 0 1 0 1.8 0a0.9 0.9 0 1 0 -1.8 0zM64.9 85a1.2 1.2 0 1 0 2.4 0a1.2 1.2 0 1 0 -2.4 0zM37.3 72.8a1.2 1.2 0 1 0 2.4 0a1.2 1.2 0 1 0 -2.4 0zM82.2 70.8a0.9 0.9 0 1 0 1.8 0a0.9 0.9 0 1 0 -1.8 0zM38.3 68.1a1.2 1.2 0 1 0 2.4 0a1.2 1.2 0 1 0 -2.4 0zM31.5 46.7a1.2 1.2 0 1 0 2.4 0a1.2 1.2 0 1 0 -2.4 0zM54.2 79a1.2 1.2 0 1 0 2.4 0a1.2 1.2 0 1 0 -2.4 0zM81.3 52a1.2 1.2 0 1 0 2.4 0a1.2 1.2 0 1 0 -2.4 0zM42.1 38.2a1.2 1.2 0 1 0 2.4 0a1.2 1.2 0 1 0 -2.4 0zM69.4 32.4a1.2 1.2 0 1 0 2.4 0a1.2 1.2 0 1 0 -2.4 0zM81.9 67.8a0.9 0.9 0 1 0 1.8 0a0.9 0.9 0 1 0 -1.8 0zM41.6 62.7a1.2 1.2 0 1 0 2.4 0a1.2 1.2 0 1 0 -2.4 0zM47.2 31.4a1.2 1.2 0 1 0 2.4 0a1.2 1.2 0 1 0 -2.4 0zM55.2 53.2a1.6 1.6 0 1 0 3.2 0a1.6 1.6 0 1 0 -3.2 0zM35.2 53.8a0.9 0.9 0 1 0 1.8 0a0.9 0.9 0 1 0 -1.8 0zM33.4 52a1.6 1.6 0 1 0 3.2 0a1.6 1.6 0 1 0 -3.2 0zM41.2 84.1a0.9 0.9 0 1 0 1.8 0a0.9 0.9 0 1 0 -1.8 0zM59.3 52.8a0.9 0.9 0 1 0 1.8 0a0.9 0.9 0 1 0 -1.8 0zM57.4 32.4a0.9 0.9 0 1 0 1.8 0a0.9 0.9 0 1 0 -1.8 0zM62.2 71a0.9 0.9 0 1 0 1.8 0a0.9 0.9 0 1 0 -1.8 0zM53.6 33.6a0.9 0.9 0 1 0 1.8 0a0.9 0.9 0 1 0 -1.8 0zM32.5 62.6a1.2 1.2 0 1 0 2.4 0a1.2 1.2 0 1 0 -2.4 0zM72.3 64.2a1.6 1.6 0 1 0 3.2 0a1.6 1.6 0 1 0 -3.2 0zM53.2 86.5a1.2 1.2 0 1 0 2.4 0a1.2 1.2 0 1 0 -2.4 0zM55.3 30.5a0.9 0.9 0 1 0 1.8 0a0.9 0.9 0 1 0 -1.8 0zM71.8 43.8a1.6 1.6 0 1 0 3.2 0a1.6 1.6 0 1 0 -3.2 0zM44.1 77.9a0.9 0.9 0 1 0 1.8 0a0.9 0.9 0 1 0 -1.8 0zM36.7 76.4a0.9 0.9 0 1 0 1.8 0a0.9 0.9 0 1 0 -1.8 0zM56.1 77.5a1.2 1.2 0 1 0 2.4 0a1.2 1.2 0 1 0 -2.4 0zM70.6 63.3a1.2 1.2 0 1 0 2.4 0a1.2 1.2 0 1 0 -2.4 0zM41.6 63.1a1.6 1.6 0 1 0 3.2 0a1.6 1.6 0 1 0 -3.2 0zM65.2 75a1.6 1.6 0 1 0 3.2 0a1.6 1.6 0 1 0 -3.2 0zM55.2 86.6a1.2 1.2 0 1 0 2.4 0a1.2 1.2 0 1 0 -2.4 0zM53.2 73.7a1.6 1.6 0 1 0 3.2 0a1.6 1.6 0 1 0 -3.2 0zM36.1 42.8a0.9 0.9 0 1 0 1.8 0a0.9 0.9 0 1 0 -1.8 0zM56 77.1a0.9 0.9 0 1 0 1.8 0a0.9 0.9 0 1 0 -1.8 0zM60.2 31.4a1.6 1.6 0 1 0 3.2 0a1.6 1.6 0 1 0 -3.2 0zM45 54.7a0.9 0.9 0 1 0 1.8 0a0.9 0.9 0 1 0 -1.8 0zM67 45.7a0.9 0.9 0 1 0 1.8 0a0.9 0.9 0 1 0 -1.8 0zM35.3 66a0.9 0.9 0 1 0 1.8 0a0.9 0.9 0 1 0 -1.8 0zM75 64.7a1.6 1.6 0 1 0 3.2 0a1.6 1.6 0 1 0 -3.2 0zM70.2 46.2a1.6 1.6 0 1 0 3.2 0a1.6 1.6 0 1 0 -3.2 0zM34.7 66.7a0.9 0.9 0 1 0 1.8 0a0.9 0.9 0 1 0 -1.8 0zM38.4 53.7a1.2 1.2 0 1 0 2.4 0a1.2 1.2 0 1 0 -2.4 0zM82.2 62.4a1.2 1.2 0 1 0 2.4 0a1.2 1.2 0 1 0 -2.4 0zM52.2 52.1a1.2 1.2 0 1 0 2.4 0a1.2 1.2 0 1 0 -2.4 0zM76.4 58.8a0.9 0.9 0 1 0 1.8 0a0.9 0.9 0 1 0 -1.8 0zM40.5 69.3a0.9 0.9 0 1 0 1.8 0a0.9 0.9 0 1 0 -1.8 0zM44 74.2a0.9 0.9 0 1 0 1.8 0a0.9 0.9 0 1 0 -1.8 0zM34.9 53.2a1.2 1.2 0 1 0 2.4 0a1.2 1.2 0 1 0 -2.4 0zM46.4 51.1a1.2 1.2 0 1 0 2.4 0a1.2 1.2 0 1 0 -2.4 0zM43.1 83.1a1.2 1.2 0 1 0 2.4 0a1.2 1.2 0 1 0 -2.4 0zM45.7 50.2a0.9 0.9 0 1 0 1.8 0a0.9 0.9 0 1 0 -1.8 0zM38.7 52.7a0.9 0.9 0 1 0 1.8 0a0.9 0.9 0 1 0 -1.8 0zM43.4 77.4a1.6 1.6 0 1 0 3.2 0a1.6 1.6 0 1 0 -3.2 0zM58.7 70.2a1.2 1.2 0 1 0 2.4 0a1.2 1.2 0 1 0 -2.4 0zM60 72.5a0.9 0.9 0 1 0 1.8 0a0.9 0.9 0 1 0 -1.8 0zM41.2 60.5a1.6 1.6 0 1 0 3.2 0a1.6 1.6 0 1 0 -3.2 0zM51.3 75.1a1.2 1.2 0 1 0 2.4 0a1.2 1.2 0 1 0 -2.4 0zM57.1 73.6a0.9 0.9 0 1 0 1.8 0a0.9 0.9 0 1 0 -1.8 0zM42.6 44a1.2 1.2 0 1 0 2.4 0a1.2 1.2 0 1 0 -2.4 0zM67.6 52.8a1.6 1.6 0 1 0 3.2 0a1.6 1.6 0 1 0 -3.2 0zM52 34.9a1.6 1.6 0 1 0 3.2 0a1.6 1.6 0 1 0 -3.2 0zM50.7 73.6a1.6 1.6 0 1 0 3.2 0a1.6 1.6 0 1 0 -3.2 0zM86.6 46.7a0.9 0.9 0 1 0 1.8 0a0.9 0.9 0 1 0 -1.8 0zM63.3 64a0.9 0.9 0 1 0 1.8 0a0.9 0.9 0 1 0 -1.8 0zM58 46.6a1.6 1.6 0 1 0 3.2 0a1.6 1.6 0 1 0 -3.2 0zM82.2 53.6a1.6 1.6 0 1 0 3.2 0a1.6 1.6 0 1 0 -3.2 0zM39.1 37.6a0.9 0.9 0 1 0 1.8 0a0.9 0.9 0 1 0 -1.8 0zM75.4 63.2a1.6 1.6 0 1 0 3.2 0a1.6 1.6 0 1 0 -3.2 0zM33.8 49.5a1.2 1.2 0 1 0 2.4 0a1.2 1.2 0 1 0 -2.4 0zM65 65.5a1.2 1.2 0 1 0 2.4 0a1.2 1.2 0 1 0 -2.4 0z" fill="#d01414" fill-opacity="0.55"/><circle cx="37" cy="69" r="1.4" fill="#e01818" fill-opacity="0.7"/><circle cx="52" cy="80" r="1.4" fill="#e01818" fill-opacity="0.7"/><circle cx="80" cy="75" r="1.4" fill="#e01818" fill-opacity="0.7"/><circle cx="88" cy="88" r="1.4" fill="#e01818" fill-opacity="0.7"/><circle cx="64" cy="52" r="1.4" fill="#e01818" fill-opacity="0.7"/><circle cx="48" cy="45" r="1.4" fill="#e01818" fill-opacity="0.7"/><circle cx="72" cy="40" r="1.4" fill="#e01818" fill-opacity="0.7"/></g></g><rect x="111.8" y="107.8" width="18.4" height="1.5" fill="#fff"/><text x="142.5" y="14.7" class="pl">B</text><text transform="translate(159,61) rotate(-90)" class="vl" text-anchor="middle" textLength="71.2" lengthAdjust="spacingAndGlyphs">STORM IMAGING</text><g transform="translate(163,6)" clip-path="url(#clip110)"><rect width="110.4" height="110" fill="#000"/><g filter="url(#blur2)"><ellipse cx="58" cy="62" rx="27" ry="28" fill="#1a0000"/></g><path d="M57.2 44.7h0.8v0.8h-0.8zM63.9 70.9h0.8v0.8h-0.8zM70.6 35.1h0.8v0.8h-0.8zM63.5 79.2h0.8v0.8h-0.8zM76 52h0.8v0.8h-0.8zM56 58.7h0.8v0.8h-0.8zM58.9 83.4h0.8v0.8h-0.8zM58.1 48.3h0.8v0.8h-0.8zM47.5 87.9h0.8v0.8h-0.8zM74.8 85.8h0.8v0.8h-0.8zM40.3 63.9h0.8v0.8h-0.8zM67.3 78.2h0.8v0.8h-0.8zM76.7 75.5h0.8v0.8h-0.8zM49.2 73.9h0.8v0.8h-0.8zM89.8 54.9h0.8v0.8h-0.8zM35.4 48.3h0.8v0.8h-0.8zM68.6 45.8h0.8v0.8h-0.8zM85.4 44.7h0.8v0.8h-0.8zM69.3 84.5h0.8v0.8h-0.8zM45.3 48.7h0.8v0.8h-0.8zM47.5 84.6h0.8v0.8h-0.8zM71.9 63.6h0.8v0.8h-0.8zM54 47.9h0.8v0.8h-0.8zM64.4 64.8h0.8v0.8h-0.8zM43.3 73h0.8v0.8h-0.8zM64.7 45.3h0.8v0.8h-0.8zM58.2 50.9h0.8v0.8h-0.8zM61.6 72.4h0.8v0.8h-0.8zM53.6 62.2h0.8v0.8h-0.8zM40.8 43.8h0.8v0.8h-0.8zM47.8 49.9h0.8v0.8h-0.8zM73.1 59.5h0.8v0.8h-0.8zM38 57.6h0.8v0.8h-0.8zM31.1 65.7h0.8v0.8h-0.8zM40.7 54.9h0.8v0.8h-0.8zM43.3 85.2h0.8v0.8h-0.8zM73.9 85.8h0.8v0.8h-0.8zM66.7 60.4h0.8v0.8h-0.8zM78.1 46.4h0.8v0.8h-0.8zM88.1 55.6h0.8v0.8h-0.8zM70.1 43.5h0.8v0.8h-0.8zM53.6 54h0.8v0.8h-0.8zM78.8 60.7h0.8v0.8h-0.8zM44.2 79.6h0.8v0.8h-0.8zM76.2 66.8h0.8v0.8h-0.8zM67.2 85.8h0.8v0.8h-0.8zM79.3 49.5h0.8v0.8h-0.8zM34.1 49.4h0.8v0.8h-0.8zM32.1 72.6h0.8v0.8h-0.8zM73.2 80.2h0.8v0.8h-0.8zM57.9 33.1h0.8v0.8h-0.8zM56.3 79.4h0.8v0.8h-0.8zM68.7 55h0.8v0.8h-0.8zM76.5 64.6h0.8v0.8h-0.8zM46.9 84h0.8v0.8h-0.8zM41.6 52h0.8v0.8h-0.8zM36.4 78.3h0.8v0.8h-0.8zM83.9 53.9h0.8v0.8h-0.8zM56.2 55.6h0.8v0.8h-0.8zM57.3 47.9h0.8v0.8h-0.8zM30.2 61.6h0.8v0.8h-0.8zM68.9 35.9h0.8v0.8h-0.8zM48.2 63.2h0.8v0.8h-0.8zM41.8 61h0.8v0.8h-0.8zM48.3 67.4h0.8v0.8h-0.8zM42.2 38.3h0.8v0.8h-0.8zM46.6 64.5h0.8v0.8h-0.8zM71.6 44.7h0.8v0.8h-0.8zM34.5 46.1h0.8v0.8h-0.8zM39.1 64.5h0.8v0.8h-0.8zM72.3 82.9h0.8v0.8h-0.8zM62.6 36.2h0.8v0.8h-0.8zM57.3 85.7h0.8v0.8h-0.8zM69.4 35.7h0.8v0.8h-0.8zM68.3 76.1h0.8v0.8h-0.8zM74 85.6h0.8v0.8h-0.8zM80.9 65.4h0.8v0.8h-0.8zM63.2 63.3h0.8v0.8h-0.8zM73.6 55.8h0.8v0.8h-0.8zM74.1 71.5h0.8v0.8h-0.8zM81.9 65.3h0.8v0.8h-0.8zM54.1 49.5h0.8v0.8h-0.8zM53.6 49h0.8v0.8h-0.8zM55.6 57.7h0.8v0.8h-0.8zM32.2 51.2h0.8v0.8h-0.8zM69.5 54h0.8v0.8h-0.8zM69.7 68h0.8v0.8h-0.8zM30.4 59.1h0.8v0.8h-0.8zM63.3 42.6h0.8v0.8h-0.8zM74.9 72.6h0.8v0.8h-0.8zM51.7 50.7h0.8v0.8h-0.8zM42.9 79.2h0.8v0.8h-0.8zM57.3 60.4h0.8v0.8h-0.8zM40.7 46.1h0.8v0.8h-0.8zM51.5 59.1h0.8v0.8h-0.8zM69.3 72.2h0.8v0.8h-0.8zM31 63h0.8v0.8h-0.8zM48.3 87.7h0.8v0.8h-0.8zM56.2 47.2h0.8v0.8h-0.8zM36.9 64.9h0.8v0.8h-0.8zM67.3 65.3h0.8v0.8h-0.8zM85.4 45.4h0.8v0.8h-0.8zM42.2 43.3h0.8v0.8h-0.8zM71.6 80.3h0.8v0.8h-0.8zM56.9 68.6h0.8v0.8h-0.8zM55.2 69.8h0.8v0.8h-0.8zM59.9 48.6h0.8v0.8h-0.8zM35.6 47.5h0.8v0.8h-0.8zM79.9 63.2h0.8v0.8h-0.8zM63.4 86.6h0.8v0.8h-0.8zM74.6 51.5h0.8v0.8h-0.8zM76.6 54.4h0.8v0.8h-0.8zM70.5 74.1h0.8v0.8h-0.8zM78.4 43.4h0.8v0.8h-0.8zM35.4 64.4h0.8v0.8h-0.8zM62.1 82.8h0.8v0.8h-0.8zM84.3 67.5h0.8v0.8h-0.8zM75.1 76h0.8v0.8h-0.8zM59.4 77.6h0.8v0.8h-0.8zM38.3 54.1h0.8v0.8h-0.8zM83.9 68.4h0.8v0.8h-0.8zM42.6 62.3h0.8v0.8h-0.8zM36 50.1h0.8v0.8h-0.8zM59.4 41.8h0.8v0.8h-0.8zM48.6 46.4h0.8v0.8h-0.8zM85.3 64.4h0.8v0.8h-0.8zM72.5 53.7h0.8v0.8h-0.8zM58.9 79.4h0.8v0.8h-0.8zM54.5 88.3h0.8v0.8h-0.8zM47.2 59.9h0.8v0.8h-0.8zM57.4 70h0.8v0.8h-0.8zM83.4 71h0.8v0.8h-0.8zM64.3 72.1h0.8v0.8h-0.8zM46.5 35.3h0.8v0.8h-0.8zM80.8 59.8h0.8v0.8h-0.8zM73.6 75.2h0.8v0.8h-0.8zM76.4 55.9h0.8v0.8h-0.8zM45.5 56.2h0.8v0.8h-0.8zM82.9 52.6h0.8v0.8h-0.8zM36.8 54.5h0.8v0.8h-0.8zM33.2 75.4h0.8v0.8h-0.8zM65.4 79h0.8v0.8h-0.8zM43.5 71.5h0.8v0.8h-0.8zM62.4 88.1h0.8v0.8h-0.8zM66.9 76.1h0.8v0.8h-0.8zM65.7 90.8h0.8v0.8h-0.8zM78.9 62.6h0.8v0.8h-0.8zM39.4 54.1h0.8v0.8h-0.8zM38.6 52.4h0.8v0.8h-0.8zM78.7 59.3h0.8v0.8h-0.8zM76.8 73.2h0.8v0.8h-0.8zM69.7 47.3h0.8v0.8h-0.8zM30.9 68.2h0.8v0.8h-0.8zM72.7 51.3h0.8v0.8h-0.8zM64.7 48.8h0.8v0.8h-0.8zM36.9 44.8h0.8v0.8h-0.8zM76.3 45.8h0.8v0.8h-0.8zM59.2 61.1h0.8v0.8h-0.8zM48.4 40.6h0.8v0.8h-0.8zM53.7 64.3h0.8v0.8h-0.8zM63.9 68.7h0.8v0.8h-0.8zM40.7 67.7h0.8v0.8h-0.8zM89.2 48.8h0.8v0.8h-0.8zM82.7 52.4h0.8v0.8h-0.8zM68 87.6h0.8v0.8h-0.8z" fill="#e41414" fill-opacity="0.4"/><path d="M64.1 50h0.8v0.8h-0.8zM43.5 39.2h0.8v0.8h-0.8zM41.5 61.3h0.8v0.8h-0.8zM51.3 36.7h0.8v0.8h-0.8zM59.9 52.1h0.8v0.8h-0.8zM46.3 76.5h0.8v0.8h-0.8zM52.9 74.9h0.8v0.8h-0.8zM73.5 42.5h0.8v0.8h-0.8zM68.1 44h0.8v0.8h-0.8zM51.5 47.3h0.8v0.8h-0.8zM51.9 34.2h0.8v0.8h-0.8zM72.8 54.6h0.8v0.8h-0.8zM54.9 48.4h0.8v0.8h-0.8zM41.4 73.6h0.8v0.8h-0.8zM42.1 67.7h0.8v0.8h-0.8zM37.7 61.4h0.8v0.8h-0.8zM85.1 59.2h0.8v0.8h-0.8zM66.8 81.7h0.8v0.8h-0.8zM91.7 40.7h0.8v0.8h-0.8zM44.8 37.3h0.8v0.8h-0.8zM67.7 89.9h0.8v0.8h-0.8zM34.7 76.7h0.8v0.8h-0.8zM70 58.1h0.8v0.8h-0.8zM82.6 66.4h0.8v0.8h-0.8zM48.4 83.9h0.8v0.8h-0.8zM45 74.1h0.8v0.8h-0.8zM46.4 55.9h0.8v0.8h-0.8zM66.6 84.2h0.8v0.8h-0.8zM58.3 85.8h0.8v0.8h-0.8zM41.2 79h0.8v0.8h-0.8zM63.6 63.9h0.8v0.8h-0.8zM66.4 55.1h0.8v0.8h-0.8zM89.4 42.9h0.8v0.8h-0.8zM83.7 69.6h0.8v0.8h-0.8zM62.7 38.7h0.8v0.8h-0.8zM54.1 60.3h0.8v0.8h-0.8zM88.3 58.6h0.8v0.8h-0.8zM66.9 63.6h0.8v0.8h-0.8zM94.4 56.4h0.8v0.8h-0.8zM65.6 53.6h0.8v0.8h-0.8zM70.6 57.1h0.8v0.8h-0.8zM61.1 71.9h0.8v0.8h-0.8zM31.6 56.1h0.8v0.8h-0.8zM43.1 55.6h0.8v0.8h-0.8zM57.8 81.3h0.8v0.8h-0.8zM77.4 78.6h0.8v0.8h-0.8zM63.3 88.9h0.8v0.8h-0.8zM47.7 72.5h0.8v0.8h-0.8zM64.8 82.2h0.8v0.8h-0.8zM39.1 74.8h0.8v0.8h-0.8zM69.3 39.7h0.8v0.8h-0.8zM58.6 91.8h0.8v0.8h-0.8zM33.6 55h0.8v0.8h-0.8zM48.8 34.4h0.8v0.8h-0.8zM97.7 55.6h0.8v0.8h-0.8zM54.1 72.5h0.8v0.8h-0.8zM31.6 59.3h0.8v0.8h-0.8zM48.6 87h0.8v0.8h-0.8zM38.7 68.6h0.8v0.8h-0.8zM58.3 81.5h0.8v0.8h-0.8zM69.9 88.4h0.8v0.8h-0.8zM55.4 83.9h0.8v0.8h-0.8zM62.6 56.1h0.8v0.8h-0.8zM65.9 41.6h0.8v0.8h-0.8zM70 74h0.8v0.8h-0.8zM56.9 37.4h0.8v0.8h-0.8zM59.2 80h0.8v0.8h-0.8zM65 78h0.8v0.8h-0.8zM90.2 48.5h0.8v0.8h-0.8zM38.3 53.6h0.8v0.8h-0.8zM38.5 57.7h0.8v0.8h-0.8zM39.5 69.1h0.8v0.8h-0.8zM56.9 60.5h0.8v0.8h-0.8zM60 47.7h0.8v0.8h-0.8zM82 45.5h0.8v0.8h-0.8zM67.2 45.2h0.8v0.8h-0.8zM83.8 51.9h0.8v0.8h-0.8zM97.8 47.6h0.8v0.8h-0.8zM79 74.2h0.8v0.8h-0.8zM81.2 54.8h0.8v0.8h-0.8zM68.7 85.6h0.8v0.8h-0.8zM56.2 60.1h0.8v0.8h-0.8zM84.1 74.9h0.8v0.8h-0.8zM80.6 56.1h0.8v0.8h-0.8zM79.2 60.5h0.8v0.8h-0.8zM90.6 54.3h0.8v0.8h-0.8zM69.2 85.6h0.8v0.8h-0.8zM75.7 44.5h0.8v0.8h-0.8zM56.5 32.9h0.8v0.8h-0.8zM74.1 74.2h0.8v0.8h-0.8zM30.8 60.7h0.8v0.8h-0.8zM77.4 65.8h0.8v0.8h-0.8zM43.8 75h0.8v0.8h-0.8zM98.9 57.2h0.8v0.8h-0.8zM70.1 38h0.8v0.8h-0.8zM60 46.9h0.8v0.8h-0.8zM56.2 34.6h0.8v0.8h-0.8zM58.8 92h0.8v0.8h-0.8zM82 72.4h0.8v0.8h-0.8zM43.5 75.7h0.8v0.8h-0.8zM46.2 63h0.8v0.8h-0.8zM58.2 63.8h0.8v0.8h-0.8zM70.3 74.6h0.8v0.8h-0.8zM58.8 74.2h0.8v0.8h-0.8zM57.9 51.3h0.8v0.8h-0.8zM41.4 75.3h0.8v0.8h-0.8zM58.1 34.4h0.8v0.8h-0.8zM62.1 46.5h0.8v0.8h-0.8zM64.9 49.4h0.8v0.8h-0.8zM57.8 49.6h0.8v0.8h-0.8zM62.1 78.9h0.8v0.8h-0.8zM75.7 52h0.8v0.8h-0.8zM68.4 41.7h0.8v0.8h-0.8zM46.1 38.7h0.8v0.8h-0.8zM35.3 66.3h0.8v0.8h-0.8zM57.8 82.8h0.8v0.8h-0.8zM53.5 40.6h0.8v0.8h-0.8zM52.1 47.3h0.8v0.8h-0.8zM41.8 49.2h0.8v0.8h-0.8zM68 88.2h0.8v0.8h-0.8zM76.9 51.3h0.8v0.8h-0.8zM78.1 42.5h0.8v0.8h-0.8zM67.3 76.5h0.8v0.8h-0.8zM38.9 51.4h0.8v0.8h-0.8zM74 46h0.8v0.8h-0.8zM67.4 72.9h0.8v0.8h-0.8zM59.7 58.7h0.8v0.8h-0.8zM62.4 84.9h0.8v0.8h-0.8zM66.9 34.2h0.8v0.8h-0.8zM83.7 56h0.8v0.8h-0.8zM34.4 78.5h0.8v0.8h-0.8zM69.4 65h0.8v0.8h-0.8zM51.7 46.3h0.8v0.8h-0.8zM76.2 46.3h0.8v0.8h-0.8zM78.1 55.1h0.8v0.8h-0.8zM76.6 46.9h0.8v0.8h-0.8zM34.9 68.6h0.8v0.8h-0.8zM56.8 68.3h0.8v0.8h-0.8zM52.6 54.6h0.8v0.8h-0.8zM56.4 64.6h0.8v0.8h-0.8zM68.8 49.6h0.8v0.8h-0.8zM74.8 64.1h0.8v0.8h-0.8zM70.8 35.4h0.8v0.8h-0.8zM53.1 55.4h0.8v0.8h-0.8zM54.2 88.9h0.8v0.8h-0.8zM86 43.6h0.8v0.8h-0.8zM46 65.6h0.8v0.8h-0.8zM59.7 40.8h0.8v0.8h-0.8zM36.5 75.4h0.8v0.8h-0.8zM54.8 81.4h0.8v0.8h-0.8zM53.5 62h0.8v0.8h-0.8zM44.3 62.5h0.8v0.8h-0.8zM75.4 55.1h0.8v0.8h-0.8zM85.3 56h0.8v0.8h-0.8zM37 49.4h0.8v0.8h-0.8zM34 56.8h0.8v0.8h-0.8zM69.4 49.1h0.8v0.8h-0.8zM75.3 47h0.8v0.8h-0.8zM73.1 66h0.8v0.8h-0.8zM47.4 57.6h0.8v0.8h-0.8zM89 41.1h0.8v0.8h-0.8zM81.1 48.5h0.8v0.8h-0.8zM69.9 85.1h0.8v0.8h-0.8z" fill="#e41414" fill-opacity="0.65"/><path d="M71.1 84.3h0.8v0.8h-0.8zM58.3 50.3h0.8v0.8h-0.8zM58.3 81.4h0.8v0.8h-0.8zM85.9 54.3h0.8v0.8h-0.8zM62.2 87h0.8v0.8h-0.8zM51.5 44h0.8v0.8h-0.8zM71.7 88h0.8v0.8h-0.8zM47.7 81.4h0.8v0.8h-0.8zM73.5 71.5h0.8v0.8h-0.8zM37.6 78.7h0.8v0.8h-0.8zM56.7 90.3h0.8v0.8h-0.8zM61.6 67.3h0.8v0.8h-0.8zM77.2 82.6h0.8v0.8h-0.8zM29.4 60.3h0.8v0.8h-0.8zM64.1 52.1h0.8v0.8h-0.8zM65.9 74.2h0.8v0.8h-0.8zM52.4 50.5h0.8v0.8h-0.8zM40.8 63.2h0.8v0.8h-0.8zM57.7 76.6h0.8v0.8h-0.8zM62.7 62.1h0.8v0.8h-0.8zM71.8 65.5h0.8v0.8h-0.8zM70.9 46.1h0.8v0.8h-0.8zM76.3 42.8h0.8v0.8h-0.8zM46.9 43.8h0.8v0.8h-0.8zM76.9 78.9h0.8v0.8h-0.8zM57.1 47.7h0.8v0.8h-0.8zM61.7 53h0.8v0.8h-0.8zM51.2 67.5h0.8v0.8h-0.8zM92.1 42.2h0.8v0.8h-0.8zM71.3 83.1h0.8v0.8h-0.8zM66.9 44.6h0.8v0.8h-0.8zM38.6 79.1h0.8v0.8h-0.8zM39.9 41.1h0.8v0.8h-0.8zM87 55.1h0.8v0.8h-0.8zM70 41.7h0.8v0.8h-0.8zM64 56.5h0.8v0.8h-0.8zM70.2 55.9h0.8v0.8h-0.8zM72 86.3h0.8v0.8h-0.8zM52.5 59h0.8v0.8h-0.8zM42.2 47.5h0.8v0.8h-0.8zM51.3 68.5h0.8v0.8h-0.8zM79.9 48.7h0.8v0.8h-0.8zM59.9 80.7h0.8v0.8h-0.8zM54.8 62.8h0.8v0.8h-0.8zM50.3 87.3h0.8v0.8h-0.8zM52.9 46.7h0.8v0.8h-0.8zM72.9 55h0.8v0.8h-0.8zM36.7 70.5h0.8v0.8h-0.8zM52.7 65.3h0.8v0.8h-0.8zM38.7 47.1h0.8v0.8h-0.8zM71.3 56.1h0.8v0.8h-0.8zM38.3 48.9h0.8v0.8h-0.8zM70.9 77h0.8v0.8h-0.8zM55.2 70.9h0.8v0.8h-0.8zM52.8 87.7h0.8v0.8h-0.8zM60.6 33.3h0.8v0.8h-0.8zM52.5 43.1h0.8v0.8h-0.8zM63.8 60h0.8v0.8h-0.8zM33.8 66.2h0.8v0.8h-0.8zM55.2 74.6h0.8v0.8h-0.8zM52.8 58.2h0.8v0.8h-0.8zM75.8 52.2h0.8v0.8h-0.8zM73 43.3h0.8v0.8h-0.8zM55 79.9h0.8v0.8h-0.8zM34.5 57.2h0.8v0.8h-0.8zM52.4 77.8h0.8v0.8h-0.8zM37.5 79.6h0.8v0.8h-0.8zM53.3 33.4h0.8v0.8h-0.8zM58 89.3h0.8v0.8h-0.8zM54.6 90.8h0.8v0.8h-0.8zM35.7 48.6h0.8v0.8h-0.8zM89 65.2h0.8v0.8h-0.8zM66.3 61.1h0.8v0.8h-0.8zM40.6 77.5h0.8v0.8h-0.8zM30.6 57.9h0.8v0.8h-0.8zM70.7 60h0.8v0.8h-0.8zM70.2 61.4h0.8v0.8h-0.8zM42.6 52.1h0.8v0.8h-0.8zM43.1 44.8h0.8v0.8h-0.8zM65.1 55.7h0.8v0.8h-0.8zM66.6 47.6h0.8v0.8h-0.8zM44 56.4h0.8v0.8h-0.8zM67.6 47.5h0.8v0.8h-0.8zM42.2 69.8h0.8v0.8h-0.8zM69.5 77.4h0.8v0.8h-0.8zM43.1 47.3h0.8v0.8h-0.8zM57.3 73.1h0.8v0.8h-0.8zM29.5 57h0.8v0.8h-0.8zM46.7 80.6h0.8v0.8h-0.8zM95.5 60.4h0.8v0.8h-0.8zM78.7 81.8h0.8v0.8h-0.8zM83.9 62.5h0.8v0.8h-0.8zM44.1 82.1h0.8v0.8h-0.8zM63.6 88.2h0.8v0.8h-0.8zM83 51.7h0.8v0.8h-0.8zM40 48.9h0.8v0.8h-0.8zM46.9 45h0.8v0.8h-0.8zM61.9 61.3h0.8v0.8h-0.8zM75.5 66.7h0.8v0.8h-0.8zM48 36.8h0.8v0.8h-0.8zM91.7 63.6h0.8v0.8h-0.8zM67 48.3h0.8v0.8h-0.8zM62 39.5h0.8v0.8h-0.8zM40.2 77.5h0.8v0.8h-0.8zM68.7 85.1h0.8v0.8h-0.8zM82.8 74.2h0.8v0.8h-0.8zM56.3 42.7h0.8v0.8h-0.8zM69.7 65.3h0.8v0.8h-0.8zM69.9 81.8h0.8v0.8h-0.8zM40.9 74.4h0.8v0.8h-0.8zM81.3 50.8h0.8v0.8h-0.8zM57.4 54.7h0.8v0.8h-0.8zM77.7 46.9h0.8v0.8h-0.8zM67.2 49.2h0.8v0.8h-0.8zM35.7 68.9h0.8v0.8h-0.8zM47.3 79.9h0.8v0.8h-0.8zM74.1 64.2h0.8v0.8h-0.8zM44.5 78.2h0.8v0.8h-0.8zM68.4 42.6h0.8v0.8h-0.8zM68.2 37h0.8v0.8h-0.8zM48.7 45.6h0.8v0.8h-0.8zM49.8 62.9h0.8v0.8h-0.8zM68.5 41.3h0.8v0.8h-0.8zM53.8 38.4h0.8v0.8h-0.8zM37.5 51.8h0.8v0.8h-0.8zM62 48.3h0.8v0.8h-0.8zM65.2 45.5h0.8v0.8h-0.8zM82 40.5h0.8v0.8h-0.8zM80.8 46.4h0.8v0.8h-0.8zM33.9 71.2h0.8v0.8h-0.8zM48.9 61.7h0.8v0.8h-0.8zM68.7 55.8h0.8v0.8h-0.8zM65.4 69.4h0.8v0.8h-0.8zM57.4 57.5h0.8v0.8h-0.8zM48.6 68h0.8v0.8h-0.8zM65.6 78.4h0.8v0.8h-0.8zM54.6 75.6h0.8v0.8h-0.8zM50.6 62.2h0.8v0.8h-0.8zM71.3 55.5h0.8v0.8h-0.8zM57 68.9h0.8v0.8h-0.8zM50.3 39.6h0.8v0.8h-0.8zM59.2 78.9h0.8v0.8h-0.8zM38.9 79.7h0.8v0.8h-0.8zM70.4 54.5h0.8v0.8h-0.8zM52.5 44.2h0.8v0.8h-0.8zM59.8 35.6h0.8v0.8h-0.8zM83.4 52.1h0.8v0.8h-0.8zM40.4 49.8h0.8v0.8h-0.8zM80.4 61.2h0.8v0.8h-0.8zM60.7 84.9h0.8v0.8h-0.8zM42.2 55.8h0.8v0.8h-0.8zM54.4 38.7h0.8v0.8h-0.8z" fill="#e41414" fill-opacity="0.95"/><path d="M47 69.9L47.8 71.2M29.6 64.2L28.9 65.8M55.9 86.6L57.3 87.8M67.4 79.4L69.4 81.4M83.7 54.2L81.6 54.8M62.2 33.3L61.4 35.3M62 62.3L63.4 62.4M84.3 51.4L85.8 52.8M74.1 56.6L75.1 58.7M55.1 61.7L56.1 62.6M62.5 41.9L61.1 42.3M55.8 38.3L55.1 39.9M77.4 62.3L78.8 62.8M36.3 76.2L34.7 78.9M61.7 85.7L63.9 87.7M44.2 53.5L42.8 54.2M85.7 63.3L87 63.8M37 59.4L36.9 61.6M72.5 73.8L71.2 76.1M74.6 83.3L75.8 85.1M47.2 39.8L49 40.1M52.9 35L55.1 36.3M81.2 60.9L79.6 62.8M36.9 79.5L36.4 80.7M90.7 53.7L90.1 55M78.8 54.8L78.7 57.2M49.5 77.4L46.9 78M76 74.3L74.5 74.5M35.9 46.8L37 47.6M66.5 38.7L67.8 39.1M75.1 71.8L73 73.6" stroke="#f01818" stroke-opacity="0.5" stroke-width="0.7" fill="none" stroke-linecap="round"/><path d="M78.5 46.4L79 48.5M38.3 42.1L39.1 44.5M60.2 42.6L61.9 44.4M55.1 58.6L56.9 58.6M85.6 62.9L87.7 63M72.9 54.5L73.8 56.3M78.1 72.1L78.9 73.1M76.7 52.7L73.8 53M42.8 50L43.9 51M68.1 68.5L66.1 69.5M85.3 56L86.7 56.4M76.4 46.3L77.5 46.9M50.7 57.8L50.4 60.8M84.5 49.4L84.8 52M35.7 44.4L37.3 45.7M61.5 76.3L62.1 79.1M36 52.9L34.1 53.7M49.8 66.1L51 67.1M46.8 39.9L47.8 41.4M78 79.5L76.2 79.5M60.6 55.1L60.6 57.3M81.5 56.5L83.9 57.1M44.2 37.9L45.8 39.2M67.9 37.6L69.4 38.9M55.2 71.2L54 71.6M43 48.7L41.2 50.1M48.2 67.2L49.4 69.5M60.9 58L58.8 60.2M61.9 49.6L63.1 50M43.3 66.2L40.5 66.2M84 67.9L82.4 68.2M78.9 55.5L80.5 56.7M42.6 38L44.9 39.2" stroke="#f01818" stroke-opacity="0.8" stroke-width="0.7" fill="none" stroke-linecap="round"/><path d="M36.1 51.1L37 53M80.3 47.3L79.1 48.6M52.4 64.2L49.9 66.1M45.8 42.8L47.9 44.9M46.3 59.6L44.2 61M46.9 73.1L45.6 75.9M50.8 65.8L49.1 67.1M68.8 80.3L70 82M44.7 83.8L47.2 84.3M64.7 63.3L63.9 64.2M36.9 68.9L35.2 70.2M53.1 57.7L52.1 59.5M59.5 62.4L60.7 64.2M59 62.3L56.2 62.7M69.3 58.3L68 60.8M54.3 63.3L56.7 63.4M61.4 76.4L59.7 79M78.1 79.1L77 80.1M71.3 56.6L71.7 57.8M49 77.5L49.1 78.8M34.5 78.8L36.1 78.9M78.2 44.8L78.2 46.2M58.8 39.6L60.1 40M68.8 70.7L67.4 73.2M69.2 88.6L69.4 89.8M73.9 63.5L74.1 65.8M81.9 73.8L79.8 75.3M58.1 79.7L58.7 81.6M82 79.9L79.4 80.3M52.2 82.3L53.9 83.7M74.1 84.5L71.5 85.9M44.4 65.3L43.2 67.4M79.8 60.8L77.7 63M69 43.9L70.8 45.4M78.2 58.4L80.2 59.8M85.8 64.8L84.8 65.8" stroke="#f01818" stroke-opacity="1" stroke-width="0.7" fill="none" stroke-linecap="round"/></g><rect x="211.7" y="47" width="11.1" height="11.2" fill="none" stroke="#ddd" stroke-width="1"/><rect x="249.2" y="107.7" width="17.9" height="1.5" fill="#fff"/><text x="281.3" y="14.7" class="pl">C</text><text transform="translate(297.7,61) rotate(-90)" class="vl" text-anchor="middle" textLength="76.5" lengthAdjust="spacingAndGlyphs">CLUSTER ANALYSIS</text><g transform="translate(301.1,6)" clip-path="url(#clip110)"><rect width="110.4" height="110" fill="#000"/><path d="M75.7 72.2h0.8v0.8h-0.8zM61.6 40.8h0.8v0.8h-0.8zM55.2 73.5h0.8v0.8h-0.8zM62.1 71.5h0.8v0.8h-0.8zM37.2 66.1h0.8v0.8h-0.8zM59.5 38.2h0.8v0.8h-0.8zM43.2 47h0.8v0.8h-0.8zM57 50.8h0.8v0.8h-0.8zM62 75.4h0.8v0.8h-0.8zM53.5 91.5h0.8v0.8h-0.8zM62.9 38.6h0.8v0.8h-0.8zM34.8 60.2h0.8v0.8h-0.8zM50.4 50.4h0.8v0.8h-0.8zM77.6 42.2h0.8v0.8h-0.8z" fill="#20e0ff" fill-opacity="0.4"/><path d="M52.8 56.9h0.8v0.8h-0.8zM34.2 60.5h0.8v0.8h-0.8zM57.3 67.8h0.8v0.8h-0.8zM60 73h0.8v0.8h-0.8zM67.1 59.2h0.8v0.8h-0.8zM51.5 58.6h0.8v0.8h-0.8zM81.5 79.1h0.8v0.8h-0.8zM71.1 41h0.8v0.8h-0.8zM73.3 76.8h0.8v0.8h-0.8zM71.7 86.4h0.8v0.8h-0.8zM42.3 74.4h0.8v0.8h-0.8zM52.1 43.4h0.8v0.8h-0.8zM69.2 78.4h0.8v0.8h-0.8zM30 60.7h0.8v0.8h-0.8zM71 64.2h0.8v0.8h-0.8zM70.2 65.9h0.8v0.8h-0.8zM64.9 78.3h0.8v0.8h-0.8zM38.9 46.7h0.8v0.8h-0.8z" fill="#20e0ff" fill-opacity="0.7"/><path d="M39 41.8h0.8v0.8h-0.8zM49.1 64.3h0.8v0.8h-0.8zM68.7 74.1h0.8v0.8h-0.8zM51.2 51h0.8v0.8h-0.8zM47.7 62.1h0.8v0.8h-0.8zM34.6 72.9h0.8v0.8h-0.8zM61.2 71.6h0.8v0.8h-0.8zM49.2 44.5h0.8v0.8h-0.8zM64.4 51.9h0.8v0.8h-0.8zM38.9 66.8h0.8v0.8h-0.8zM61.7 54.1h0.8v0.8h-0.8zM75 47.8h0.8v0.8h-0.8zM44.4 41.7h0.8v0.8h-0.8zM53.5 34.5h0.8v0.8h-0.8zM51 66.4h0.8v0.8h-0.8zM74.5 46.8h0.8v0.8h-0.8zM42 42.2h0.8v0.8h-0.8z" fill="#20ff20" fill-opacity="0.4"/><path d="M56.7 54.9h0.8v0.8h-0.8zM59.8 81.8h0.8v0.8h-0.8zM39.7 53.7h0.8v0.8h-0.8zM54.1 56.1h0.8v0.8h-0.8zM67.1 36.3h0.8v0.8h-0.8zM54.6 68.4h0.8v0.8h-0.8zM45.7 78.1h0.8v0.8h-0.8zM51.3 63.4h0.8v0.8h-0.8zM41.1 40.2h0.8v0.8h-0.8zM30.1 55.4h0.8v0.8h-0.8zM57.8 54.4h0.8v0.8h-0.8z" fill="#20ff20" fill-opacity="0.7"/><path d="M68.1 86.9h0.8v0.8h-0.8zM63.8 49h0.8v0.8h-0.8zM82 51.8h0.8v0.8h-0.8zM53.6 53.6h0.8v0.8h-0.8zM50 75.6h0.8v0.8h-0.8zM46.3 63.6h0.8v0.8h-0.8zM63.7 82.4h0.8v0.8h-0.8zM64 81h0.8v0.8h-0.8zM34.3 51.6h0.8v0.8h-0.8zM76.9 47.3h0.8v0.8h-0.8zM48.4 72.1h0.8v0.8h-0.8zM59.9 68.9h0.8v0.8h-0.8zM73 52.4h0.8v0.8h-0.8zM42.9 38.1h0.8v0.8h-0.8zM83.8 73h0.8v0.8h-0.8zM53.6 56h0.8v0.8h-0.8zM67.2 62.7h0.8v0.8h-0.8zM69.9 40h0.8v0.8h-0.8zM54.7 78.1h0.8v0.8h-0.8z" fill="#3040ff" fill-opacity="0.4"/><path d="M59.5 32.9h0.8v0.8h-0.8zM36.3 45.5h0.8v0.8h-0.8zM62.6 49.9h0.8v0.8h-0.8zM63 37h0.8v0.8h-0.8zM82.2 66.8h0.8v0.8h-0.8zM53.2 49.7h0.8v0.8h-0.8zM35.4 54.1h0.8v0.8h-0.8zM36.2 71h0.8v0.8h-0.8zM56.3 66.8h0.8v0.8h-0.8zM33.7 58.6h0.8v0.8h-0.8zM63.7 87.5h0.8v0.8h-0.8zM79 72.7h0.8v0.8h-0.8zM56.6 60.8h0.8v0.8h-0.8z" fill="#3040ff" fill-opacity="0.7"/><path d="M71.3 52h0.8v0.8h-0.8zM61.1 83.3h0.8v0.8h-0.8zM55.6 44h0.8v0.8h-0.8zM55 44.9h0.8v0.8h-0.8zM60.8 75.3h0.8v0.8h-0.8zM43.7 70.1h0.8v0.8h-0.8zM34.6 47.7h0.8v0.8h-0.8zM42.7 83.5h0.8v0.8h-0.8zM67.2 85.6h0.8v0.8h-0.8zM36.3 78.5h0.8v0.8h-0.8zM48.5 43.7h0.8v0.8h-0.8zM39.5 58.8h0.8v0.8h-0.8z" fill="#a020ff" fill-opacity="0.4"/><path d="M64.9 74.3h0.8v0.8h-0.8zM30.6 63.6h0.8v0.8h-0.8zM69.9 70.5h0.8v0.8h-0.8zM32.8 62.8h0.8v0.8h-0.8zM64.2 66.8h0.8v0.8h-0.8zM70 52h0.8v0.8h-0.8zM39.8 83.4h0.8v0.8h-0.8zM82.9 62.6h0.8v0.8h-0.8zM30.9 69.9h0.8v0.8h-0.8zM52.7 49.5h0.8v0.8h-0.8zM40.8 43.3h0.8v0.8h-0.8zM74.4 61.9h0.8v0.8h-0.8zM76.3 59.8h0.8v0.8h-0.8zM43.9 87.7h0.8v0.8h-0.8zM56 77.4h0.8v0.8h-0.8z" fill="#a020ff" fill-opacity="0.7"/><path d="M75.7 83.1h0.8v0.8h-0.8zM57.1 66.8h0.8v0.8h-0.8zM38.4 61.2h0.8v0.8h-0.8zM58 72h0.8v0.8h-0.8zM79.3 80.2h0.8v0.8h-0.8zM75.8 59.9h0.8v0.8h-0.8zM47 74.4h0.8v0.8h-0.8zM30.9 52.6h0.8v0.8h-0.8zM47.9 84.9h0.8v0.8h-0.8z" fill="#ff2020" fill-opacity="0.4"/><path d="M69.5 42.7h0.8v0.8h-0.8zM43.6 44.8h0.8v0.8h-0.8zM50.9 41.7h0.8v0.8h-0.8zM57.9 45.8h0.8v0.8h-0.8zM89.8 52.1h0.8v0.8h-0.8zM86 66.1h0.8v0.8h-0.8zM39.2 52.2h0.8v0.8h-0.8zM46.5 34.6h0.8v0.8h-0.8zM51.9 87h0.8v0.8h-0.8zM52.1 56h0.8v0.8h-0.8zM55.2 80.9h0.8v0.8h-0.8zM77.3 47.3h0.8v0.8h-0.8zM67.4 88.5h0.8v0.8h-0.8z" fill="#ff2020" fill-opacity="0.7"/><path d="M50 73.9h0.8v0.8h-0.8zM79.5 47.8h0.8v0.8h-0.8zM55.6 79.4h0.8v0.8h-0.8zM73.2 80.8h0.8v0.8h-0.8zM68.8 35.7h0.8v0.8h-0.8zM67.9 63.3h0.8v0.8h-0.8zM33.7 60.8h0.8v0.8h-0.8zM64.9 83.7h0.8v0.8h-0.8zM76.4 62.9h0.8v0.8h-0.8zM56.6 79.6h0.8v0.8h-0.8zM58.8 60h0.8v0.8h-0.8zM49.7 52h0.8v0.8h-0.8zM42.5 62h0.8v0.8h-0.8zM52.8 43.5h0.8v0.8h-0.8zM66.1 90.1h0.8v0.8h-0.8zM31.7 64.2h0.8v0.8h-0.8zM32.2 68.9h0.8v0.8h-0.8zM84.9 69.8h0.8v0.8h-0.8zM63.8 49.5h0.8v0.8h-0.8z" fill="#ff20ff" fill-opacity="0.4"/><path d="M78.3 61.2h0.8v0.8h-0.8zM49.5 84.7h0.8v0.8h-0.8zM36.3 73.9h0.8v0.8h-0.8zM48.2 78.4h0.8v0.8h-0.8zM82.3 52.8h0.8v0.8h-0.8zM50.7 47.8h0.8v0.8h-0.8zM54.2 56.2h0.8v0.8h-0.8zM44.9 64.6h0.8v0.8h-0.8zM47.4 39.8h0.8v0.8h-0.8zM56.3 64.6h0.8v0.8h-0.8zM71.6 74.5h0.8v0.8h-0.8zM86.6 48.1h0.8v0.8h-0.8zM80.2 44.9h0.8v0.8h-0.8zM40.9 45.5h0.8v0.8h-0.8zM57.1 37.9h0.8v0.8h-0.8zM63.4 70.7h0.8v0.8h-0.8z" fill="#ff20ff" fill-opacity="0.7"/><path d="M35.9 51.5h0.8v0.8h-0.8zM57.9 32.1h0.8v0.8h-0.8zM86.5 46.4h0.8v0.8h-0.8zM34.6 76.3h0.8v0.8h-0.8zM73.8 76h0.8v0.8h-0.8zM84.8 69.5h0.8v0.8h-0.8zM82.9 65.5h0.8v0.8h-0.8zM45.6 55.9h0.8v0.8h-0.8zM50.1 44.8h0.8v0.8h-0.8zM36.3 46.7h0.8v0.8h-0.8zM59.8 70h0.8v0.8h-0.8zM47.8 68.3h0.8v0.8h-0.8zM80 81.5h0.8v0.8h-0.8zM59.1 86.7h0.8v0.8h-0.8zM66.2 89h0.8v0.8h-0.8zM54.8 88.2h0.8v0.8h-0.8z" fill="#ffa020" fill-opacity="0.4"/><path d="M76 57.5h0.8v0.8h-0.8zM31.8 67.5h0.8v0.8h-0.8zM40.6 81.2h0.8v0.8h-0.8zM84.1 54.8h0.8v0.8h-0.8zM38.1 71.6h0.8v0.8h-0.8zM60.1 74.6h0.8v0.8h-0.8zM43.4 82.3h0.8v0.8h-0.8zM85.6 66.1h0.8v0.8h-0.8zM37.6 44.7h0.8v0.8h-0.8zM63 69.1h0.8v0.8h-0.8zM71.2 62.3h0.8v0.8h-0.8z" fill="#ffa020" fill-opacity="0.7"/><path d="M56.2 48h0.8v0.8h-0.8zM54.8 66.5h0.8v0.8h-0.8zM77 67.6h0.8v0.8h-0.8zM83 55.9h0.8v0.8h-0.8zM52.9 55.4h0.8v0.8h-0.8zM58.5 40.9h0.8v0.8h-0.8zM40.7 43.7h0.8v0.8h-0.8zM40.6 72.8h0.8v0.8h-0.8zM83.4 71h0.8v0.8h-0.8zM84 61.7h0.8v0.8h-0.8z" fill="#ffff30" fill-opacity="0.4"/><path d="M69.6 36.9h0.8v0.8h-0.8zM69.3 54.9h0.8v0.8h-0.8zM54.6 39.9h0.8v0.8h-0.8zM61.8 45.3h0.8v0.8h-0.8zM97 56.8h0.8v0.8h-0.8zM54.2 85.3h0.8v0.8h-0.8zM47.4 78.2h0.8v0.8h-0.8zM75.3 60.7h0.8v0.8h-0.8zM77.5 62.5h0.8v0.8h-0.8zM58.3 72h0.8v0.8h-0.8zM34 61h0.8v0.8h-0.8zM81.6 49h0.8v0.8h-0.8zM65.9 66.7h0.8v0.8h-0.8zM75 85h0.8v0.8h-0.8zM47.2 61.1h0.8v0.8h-0.8zM48 58.1h0.8v0.8h-0.8z" fill="#ffff30" fill-opacity="0.7"/><path d="M68.7 34.7h0.8v0.8h-0.8zM67.2 38.8h0.8v0.8h-0.8zM67.6 61.1h0.8v0.8h-0.8zM65.3 56.1h0.8v0.8h-0.8zM64 66.9h0.8v0.8h-0.8zM55.8 64.2h0.8v0.8h-0.8zM45 87.6h0.8v0.8h-0.8zM69.4 64.3h0.8v0.8h-0.8zM30.4 68.5h0.8v0.8h-0.8zM73.4 56.6h0.8v0.8h-0.8zM47.3 46.6h0.8v0.8h-0.8zM43.8 55.8h0.8v0.8h-0.8zM91.6 41.5h0.8v0.8h-0.8zM42.9 43h0.8v0.8h-0.8zM78.9 53.6h0.8v0.8h-0.8zM47.8 78h0.8v0.8h-0.8zM76.2 42.8h0.8v0.8h-0.8zM73.8 63h0.8v0.8h-0.8zM68.1 75.8h0.8v0.8h-0.8zM43.7 63.2h0.8v0.8h-0.8zM55.6 90.2h0.8v0.8h-0.8zM51.7 82.2h0.8v0.8h-0.8zM39.2 44.6h0.8v0.8h-0.8zM77.7 45.4h0.8v0.8h-0.8zM52.4 47.5h0.8v0.8h-0.8zM85.7 68.9h0.8v0.8h-0.8zM43.6 83.3h0.8v0.8h-0.8zM39.8 58h0.8v0.8h-0.8zM52.3 54h0.8v0.8h-0.8zM57.7 37.6h0.8v0.8h-0.8zM49.9 65.5h0.8v0.8h-0.8zM44.1 72.1h0.8v0.8h-0.8zM74 56.4h0.8v0.8h-0.8zM65.6 78.8h0.8v0.8h-0.8zM53.6 73.7h0.8v0.8h-0.8zM36.7 42.3h0.8v0.8h-0.8zM84.1 61.6h0.8v0.8h-0.8zM73.6 41.2h0.8v0.8h-0.8zM69.3 79h0.8v0.8h-0.8zM97.9 47h0.8v0.8h-0.8zM68.7 74.2h0.8v0.8h-0.8zM32.5 65.4h0.8v0.8h-0.8zM86 52.9h0.8v0.8h-0.8zM52.8 76.2h0.8v0.8h-0.8zM71.8 56.5h0.8v0.8h-0.8zM66.4 54.4h0.8v0.8h-0.8zM57.1 60.6h0.8v0.8h-0.8zM66 35.4h0.8v0.8h-0.8zM64.7 37.3h0.8v0.8h-0.8zM95 45h0.8v0.8h-0.8zM52.3 88.2h0.8v0.8h-0.8zM38 71.1h0.8v0.8h-0.8zM55.1 55.6h0.8v0.8h-0.8zM76 82.7h0.8v0.8h-0.8zM51.1 68.1h0.8v0.8h-0.8zM63.9 87.5h0.8v0.8h-0.8zM74.7 75.1h0.8v0.8h-0.8zM64.6 90.7h0.8v0.8h-0.8zM92.8 54.8h0.8v0.8h-0.8zM39.6 55.1h0.8v0.8h-0.8zM59.3 54.2h0.8v0.8h-0.8zM55.9 40h0.8v0.8h-0.8zM80.8 45.1h0.8v0.8h-0.8zM38.9 77.3h0.8v0.8h-0.8zM61 80.6h0.8v0.8h-0.8zM55.9 83.6h0.8v0.8h-0.8zM49.3 81h0.8v0.8h-0.8zM58.9 58.5h0.8v0.8h-0.8zM42.7 49.8h0.8v0.8h-0.8zM52.1 58.7h0.8v0.8h-0.8zM83.4 67.4h0.8v0.8h-0.8zM56.4 38.3h0.8v0.8h-0.8zM52.3 37.7h0.8v0.8h-0.8zM84.4 69.8h0.8v0.8h-0.8zM59.9 62.2h0.8v0.8h-0.8zM85 66.2h0.8v0.8h-0.8zM67 80.4h0.8v0.8h-0.8zM55.7 80.9h0.8v0.8h-0.8zM53.3 65.7h0.8v0.8h-0.8zM52.4 63.7h0.8v0.8h-0.8zM85.4 58.7h0.8v0.8h-0.8zM57.6 90h0.8v0.8h-0.8zM39.3 83.2h0.8v0.8h-0.8zM60.9 58.4h0.8v0.8h-0.8zM46.9 35.8h0.8v0.8h-0.8zM38.2 54.5h0.8v0.8h-0.8zM78.8 80.2h0.8v0.8h-0.8zM37.1 46.4h0.8v0.8h-0.8zM81.6 44.7h0.8v0.8h-0.8zM80.6 54.2h0.8v0.8h-0.8zM72.1 69.7h0.8v0.8h-0.8zM95.5 48.5h0.8v0.8h-0.8zM71.4 78.2h0.8v0.8h-0.8zM81.6 72.9h0.8v0.8h-0.8zM30.6 66.3h0.8v0.8h-0.8zM96.1 46.1h0.8v0.8h-0.8zM84.4 67.6h0.8v0.8h-0.8zM42.3 38h0.8v0.8h-0.8zM78.3 71.7h0.8v0.8h-0.8zM53.7 42h0.8v0.8h-0.8zM83.4 74.1h0.8v0.8h-0.8zM43.6 58.6h0.8v0.8h-0.8zM56.1 67.8h0.8v0.8h-0.8zM68 70.6h0.8v0.8h-0.8zM40.6 51.9h0.8v0.8h-0.8zM36.1 76.7h0.8v0.8h-0.8zM84.3 71.5h0.8v0.8h-0.8zM43.6 38.4h0.8v0.8h-0.8zM84.3 51.8h0.8v0.8h-0.8zM79.8 62.4h0.8v0.8h-0.8zM54.1 65.8h0.8v0.8h-0.8zM38.1 46.1h0.8v0.8h-0.8zM42.2 50.9h0.8v0.8h-0.8zM72.6 87.2h0.8v0.8h-0.8zM70.4 72.6h0.8v0.8h-0.8zM43.1 51.7h0.8v0.8h-0.8z" fill="#ffffff" fill-opacity="0.4"/><path d="M53.3 43.5h0.8v0.8h-0.8zM65 80.7h0.8v0.8h-0.8zM30.8 61.5h0.8v0.8h-0.8zM80.7 75h0.8v0.8h-0.8zM69.7 39.5h0.8v0.8h-0.8zM48.5 84.3h0.8v0.8h-0.8zM48.3 75.8h0.8v0.8h-0.8zM39.9 61.9h0.8v0.8h-0.8zM64.7 62.6h0.8v0.8h-0.8zM61.3 32.9h0.8v0.8h-0.8zM69.1 68.6h0.8v0.8h-0.8zM76.7 58.8h0.8v0.8h-0.8zM51.5 87.4h0.8v0.8h-0.8zM58.4 39.5h0.8v0.8h-0.8zM56.8 34.9h0.8v0.8h-0.8zM81.8 41.8h0.8v0.8h-0.8zM65.2 81.4h0.8v0.8h-0.8zM33.1 73.9h0.8v0.8h-0.8zM49.3 46.9h0.8v0.8h-0.8zM82.7 76.5h0.8v0.8h-0.8zM43.3 79.5h0.8v0.8h-0.8zM84.6 62.1h0.8v0.8h-0.8zM51.7 87.2h0.8v0.8h-0.8zM59.4 68h0.8v0.8h-0.8zM48.1 42.6h0.8v0.8h-0.8zM73.2 37.1h0.8v0.8h-0.8zM66.1 76.6h0.8v0.8h-0.8zM72.9 68.5h0.8v0.8h-0.8zM39 84.6h0.8v0.8h-0.8zM66 39.2h0.8v0.8h-0.8zM78.8 52.9h0.8v0.8h-0.8zM55.3 64.5h0.8v0.8h-0.8zM54.8 62.7h0.8v0.8h-0.8zM57.4 59h0.8v0.8h-0.8zM71.1 78.6h0.8v0.8h-0.8zM43.3 37.2h0.8v0.8h-0.8zM36.1 46.5h0.8v0.8h-0.8zM79.4 52.3h0.8v0.8h-0.8zM49.3 53.3h0.8v0.8h-0.8zM64.1 39.5h0.8v0.8h-0.8zM76 70.9h0.8v0.8h-0.8zM63.8 82.6h0.8v0.8h-0.8zM36.3 61.2h0.8v0.8h-0.8zM33.5 67h0.8v0.8h-0.8zM71.3 36.8h0.8v0.8h-0.8zM59.9 62.2h0.8v0.8h-0.8zM80.4 57.9h0.8v0.8h-0.8zM64.4 53.3h0.8v0.8h-0.8zM67.2 70.9h0.8v0.8h-0.8zM45.3 53.3h0.8v0.8h-0.8zM56.9 43.7h0.8v0.8h-0.8zM69.5 49.3h0.8v0.8h-0.8zM74.7 68.2h0.8v0.8h-0.8zM56.6 54.9h0.8v0.8h-0.8zM60.8 45.9h0.8v0.8h-0.8zM42.2 83.8h0.8v0.8h-0.8zM92.9 44.2h0.8v0.8h-0.8zM48.8 58.9h0.8v0.8h-0.8zM31.7 56.6h0.8v0.8h-0.8zM54.6 68.2h0.8v0.8h-0.8zM39.8 63.3h0.8v0.8h-0.8zM48.2 64h0.8v0.8h-0.8zM57.8 49.4h0.8v0.8h-0.8zM83.6 59.7h0.8v0.8h-0.8zM70.3 46.6h0.8v0.8h-0.8zM31 51.3h0.8v0.8h-0.8zM43.4 37.3h0.8v0.8h-0.8zM35.6 54.5h0.8v0.8h-0.8zM42.8 68.1h0.8v0.8h-0.8zM75.2 56.9h0.8v0.8h-0.8zM34.1 64.2h0.8v0.8h-0.8zM41.3 48.9h0.8v0.8h-0.8zM55.8 88.9h0.8v0.8h-0.8zM58.3 75.3h0.8v0.8h-0.8zM81.9 63.2h0.8v0.8h-0.8zM32 72.9h0.8v0.8h-0.8zM50.1 35.6h0.8v0.8h-0.8zM62.5 43.5h0.8v0.8h-0.8zM74.3 74.5h0.8v0.8h-0.8zM56.8 81.9h0.8v0.8h-0.8zM60.4 80.7h0.8v0.8h-0.8zM60.5 81.4h0.8v0.8h-0.8zM37.4 53.1h0.8v0.8h-0.8zM47 49.5h0.8v0.8h-0.8zM43.6 82h0.8v0.8h-0.8zM67.6 69.3h0.8v0.8h-0.8zM75.9 75.4h0.8v0.8h-0.8zM44.6 53.3h0.8v0.8h-0.8zM73.5 84.8h0.8v0.8h-0.8zM68.5 76.9h0.8v0.8h-0.8zM77.2 72.1h0.8v0.8h-0.8zM50.4 52.8h0.8v0.8h-0.8zM35.7 48.1h0.8v0.8h-0.8zM37.4 73.2h0.8v0.8h-0.8zM68.2 72h0.8v0.8h-0.8zM56.9 56.3h0.8v0.8h-0.8zM41.3 57.6h0.8v0.8h-0.8zM60.2 53.2h0.8v0.8h-0.8zM58.1 73.5h0.8v0.8h-0.8zM64.8 61.1h0.8v0.8h-0.8zM65.8 64h0.8v0.8h-0.8zM68.5 35.1h0.8v0.8h-0.8zM74.2 49.9h0.8v0.8h-0.8zM30.6 66.7h0.8v0.8h-0.8zM62.5 77.5h0.8v0.8h-0.8z" fill="#ffffff" fill-opacity="0.7"/><path d="M38.1 45.1L38.9 46.5M42.9 69.5L43.1 71.6M50.5 82.9L49.4 84.4M61.3 54L58.7 55.1M77.4 45.2L79.5 46.9M50.3 77L48.9 77.4M61.7 45L60.6 46.8M38.8 61.3L38.1 63.4M48.5 49.7L49.8 52.2M49.2 60L47.3 61.2M61.9 57.8L63.3 58.3M80 65.5L77.8 66.8M70.3 43L70.1 46.2M56.5 68.4L54.5 69.2M67.7 52.9L66.4 53.7M47.7 38.2L47.6 40.5M39.2 70L39.7 72M51.2 67.2L53.6 68.7M47.6 40L44.9 40.3M69.6 39.7L67 41.3M91.7 58.1L89.8 60M67.3 76.9L65.1 77.1M47.3 35.6L45.6 37.8M60.1 59.8L57.6 60.3" stroke="#d0d0d0" stroke-opacity="0.5" stroke-width="0.55" fill="none" stroke-linecap="round"/><path d="M88 57L86.6 59.3M52.1 77L49.2 78.3M87.9 55.4L86.3 57.1M47.3 34.1L50.5 34.1M51.4 82.6L51.2 85M56.6 47.7L56.4 50.5M54.6 46.1L54 47.8M39.7 62L41.7 62.7M66.9 71.1L65.6 73.1M61.4 84.7L62.8 85.5M68.9 53.3L67.9 55.4M40.4 46L42.8 47.8M39.8 71.6L42.2 72.7M66.6 88.2L68.3 89M62.7 63.7L61.1 64.5M33.8 49.1L36.8 50.4M63.2 36.8L62.9 38.2M38.7 74.3L36.7 76.1M61.5 75L62.3 76M76.8 56.1L79.6 56.7M73.8 36.7L75 38.7M40.1 50.3L40.7 52.2M61.8 54.6L61.7 57.3" stroke="#d0d0d0" stroke-opacity="0.7" stroke-width="0.55" fill="none" stroke-linecap="round"/><path d="M60.8 65.2L62.9 66.6M44.4 45.3L44.5 47.5M32.7 67.8L33.8 69M63.5 82.9L64.7 84.1M54.9 62.6L56.9 64.1M94.4 44L95.8 45.2M76 46.8L76.6 48.9M59.2 58.9L61.7 59.7M42.9 54.1L44.1 54.7M75.3 68.1L74.2 70.6M38 51.9L38.5 53.6M54.9 48.1L55.7 50.6M52.6 35.3L52.4 36.5M30.6 73L32.9 74.3M59.2 83.4L58.3 85.2M72.5 63.4L72.7 64.8M43.7 40.8L43 42.8M35.1 71.5L35.9 74.3M50.2 82.1L48.8 82.5M56 45.2L54.3 45.6M49.9 75.1L51.5 75.9M58.6 35.9L58.3 37.2M62.8 52.3L61.6 52.3" stroke="#d0d0d0" stroke-opacity="1" stroke-width="0.55" fill="none" stroke-linecap="round"/></g><rect x="350.5" y="47" width="11.4" height="11.2" fill="none" stroke="#ddd" stroke-width="1"/><rect x="386" y="107.2" width="19.1" height="1.5" fill="#fff"/><g transform="translate(413,6)"><rect width="111" height="110" fill="#000"/><circle cx="48.7" cy="4.9" r="1.6" fill="#ff1a1a"/><circle cx="49.6" cy="5.4" r="1.1" fill="#ff1a1a"/><circle cx="67.3" cy="6.4" r="1.6" fill="#ff20ff"/><circle cx="68.2" cy="6.9" r="1.1" fill="#ff20ff"/><circle cx="20.3" cy="12.6" r="1.6" fill="#ff20ff"/><circle cx="21.2" cy="13.1" r="1.1" fill="#ff20ff"/><circle cx="101.7" cy="12.1" r="1.6" fill="#ffa020"/><circle cx="102.6" cy="12.6" r="1.1" fill="#ffa020"/><circle cx="107.7" cy="10.8" r="1.6" fill="#ff20ff"/><circle cx="108.6" cy="11.3" r="1.1" fill="#ff20ff"/><circle cx="99.1" cy="17.8" r="1.6" fill="#20e0ff"/><circle cx="100" cy="18.3" r="1.1" fill="#20e0ff"/><circle cx="88.8" cy="19.9" r="1.6" fill="#20ff20"/><circle cx="89.7" cy="20.4" r="1.1" fill="#20ff20"/><circle cx="15.6" cy="21.2" r="1.6" fill="#ff20ff"/><circle cx="16.5" cy="21.7" r="1.1" fill="#ff20ff"/><circle cx="92.7" cy="28.9" r="1.6" fill="#20e0ff"/><circle cx="93.6" cy="29.4" r="1.1" fill="#20e0ff"/><circle cx="99.9" cy="28.9" r="1.6" fill="#a020ff"/><circle cx="100.8" cy="29.4" r="1.1" fill="#a020ff"/><circle cx="37.1" cy="30.2" r="1.6" fill="#ffa020"/><circle cx="38" cy="30.7" r="1.1" fill="#ffa020"/><circle cx="47.4" cy="30.2" r="1.6" fill="#ff1a1a"/><circle cx="48.3" cy="30.7" r="1.1" fill="#ff1a1a"/><circle cx="65.5" cy="27.6" r="1.6" fill="#ff20ff"/><circle cx="66.4" cy="28.1" r="1.1" fill="#ff20ff"/><circle cx="68.1" cy="31.5" r="1.6" fill="#ff1a1a"/><circle cx="69" cy="32" r="1.1" fill="#ff1a1a"/><circle cx="8.6" cy="34.9" r="1.6" fill="#ff20ff"/><circle cx="9.5" cy="35.4" r="1.1" fill="#ff20ff"/><circle cx="14.6" cy="32.8" r="1.6" fill="#20ff20"/><circle cx="15.5" cy="33.3" r="1.1" fill="#20ff20"/><circle cx="57.8" cy="32.8" r="1.6" fill="#ff20ff"/><circle cx="58.7" cy="33.3" r="1.1" fill="#ff20ff"/><circle cx="61.6" cy="35.4" r="1.6" fill="#20e0ff"/><circle cx="62.5" cy="35.9" r="1.1" fill="#20e0ff"/><circle cx="77.2" cy="34.1" r="1.6" fill="#20e0ff"/><circle cx="78.1" cy="34.6" r="1.1" fill="#20e0ff"/><circle cx="82.3" cy="39.3" r="1.6" fill="#20ff20"/><circle cx="83.2" cy="39.8" r="1.1" fill="#20ff20"/><circle cx="24.9" cy="41.8" r="1.6" fill="#20e0ff"/><circle cx="25.8" cy="42.3" r="1.1" fill="#20e0ff"/><circle cx="54.4" cy="41.3" r="1.6" fill="#ffa020"/><circle cx="55.3" cy="41.8" r="1.1" fill="#ffa020"/><circle cx="46.1" cy="43.1" r="1.6" fill="#3040ff"/><circle cx="47" cy="43.6" r="1.1" fill="#3040ff"/><circle cx="12.5" cy="45.7" r="1.6" fill="#ff1a1a"/><circle cx="13.4" cy="46.2" r="1.1" fill="#ff1a1a"/><circle cx="69.4" cy="47" r="1.6" fill="#ffff30"/><circle cx="70.3" cy="47.5" r="1.1" fill="#ffff30"/><circle cx="53.9" cy="48.3" r="1.6" fill="#ffff30"/><circle cx="54.8" cy="48.8" r="1.1" fill="#ffff30"/><circle cx="41" cy="50.4" r="1.6" fill="#ff20ff"/><circle cx="41.9" cy="50.9" r="1.1" fill="#ff20ff"/><circle cx="37.1" cy="52.2" r="1.6" fill="#20ff20"/><circle cx="38" cy="52.7" r="1.1" fill="#20ff20"/><circle cx="48.7" cy="50.4" r="1.6" fill="#ff1a1a"/><circle cx="49.6" cy="50.9" r="1.1" fill="#ff1a1a"/><circle cx="78.5" cy="49.6" r="1.6" fill="#ff1a1a"/><circle cx="79.4" cy="50.1" r="1.1" fill="#ff1a1a"/><circle cx="82.3" cy="50.9" r="1.6" fill="#3040ff"/><circle cx="83.2" cy="51.4" r="1.1" fill="#3040ff"/><circle cx="34.5" cy="56.1" r="1.6" fill="#20e0ff"/><circle cx="35.4" cy="56.6" r="1.1" fill="#20e0ff"/><circle cx="46.1" cy="56.1" r="1.6" fill="#ffa020"/><circle cx="47" cy="56.6" r="1.1" fill="#ffa020"/><circle cx="52.6" cy="56.1" r="1.6" fill="#3040ff"/><circle cx="53.5" cy="56.6" r="1.1" fill="#3040ff"/><circle cx="61.1" cy="53.5" r="1.6" fill="#20ff20"/><circle cx="62" cy="54" r="1.1" fill="#20ff20"/><circle cx="72" cy="56.1" r="1.6" fill="#20e0ff"/><circle cx="72.9" cy="56.6" r="1.1" fill="#20e0ff"/><circle cx="66.8" cy="58.6" r="1.6" fill="#ff20ff"/><circle cx="67.7" cy="59.1" r="1.1" fill="#ff20ff"/><circle cx="86.2" cy="54.8" r="1.6" fill="#ffa020"/><circle cx="87.1" cy="55.3" r="1.1" fill="#ffa020"/><circle cx="16.4" cy="56.1" r="1.6" fill="#ffff30"/><circle cx="17.3" cy="56.6" r="1.1" fill="#ffff30"/><circle cx="78.5" cy="60.7" r="1.6" fill="#ff1a1a"/><circle cx="79.4" cy="61.2" r="1.1" fill="#ff1a1a"/><circle cx="82.3" cy="61.8" r="1.6" fill="#3040ff"/><circle cx="83.2" cy="62.3" r="1.1" fill="#3040ff"/><circle cx="87.5" cy="59.9" r="1.6" fill="#ff20ff"/><circle cx="88.4" cy="60.4" r="1.1" fill="#ff20ff"/><circle cx="39.7" cy="65.9" r="1.6" fill="#ffff30"/><circle cx="40.6" cy="66.4" r="1.1" fill="#ffff30"/><circle cx="56.5" cy="62.5" r="1.6" fill="#20ff20"/><circle cx="57.4" cy="63" r="1.1" fill="#20ff20"/><circle cx="64.2" cy="60.7" r="1.6" fill="#20e0ff"/><circle cx="65.1" cy="61.2" r="1.1" fill="#20e0ff"/><circle cx="105.6" cy="59.9" r="1.6" fill="#ff20ff"/><circle cx="106.5" cy="60.4" r="1.1" fill="#ff20ff"/><circle cx="46.1" cy="69" r="1.6" fill="#20e0ff"/><circle cx="47" cy="69.5" r="1.1" fill="#20e0ff"/><circle cx="41" cy="71.6" r="1.6" fill="#ff20ff"/><circle cx="41.9" cy="72.1" r="1.1" fill="#ff20ff"/><circle cx="52.6" cy="69" r="1.6" fill="#ff1a1a"/><circle cx="53.5" cy="69.5" r="1.1" fill="#ff1a1a"/><circle cx="59.1" cy="69" r="1.6" fill="#ff20ff"/><circle cx="60" cy="69.5" r="1.1" fill="#ff20ff"/><circle cx="62.9" cy="70.3" r="1.6" fill="#ffff30"/><circle cx="63.8" cy="70.8" r="1.1" fill="#ffff30"/><circle cx="66.8" cy="72.9" r="1.6" fill="#ffff30"/><circle cx="67.7" cy="73.4" r="1.1" fill="#ffff30"/><circle cx="72" cy="71.6" r="1.6" fill="#20e0ff"/><circle cx="72.9" cy="72.1" r="1.1" fill="#20e0ff"/><circle cx="79.8" cy="70.3" r="1.6" fill="#ffff30"/><circle cx="80.7" cy="70.8" r="1.1" fill="#ffff30"/><circle cx="35.8" cy="75.5" r="1.6" fill="#ff20ff"/><circle cx="36.7" cy="76" r="1.1" fill="#ff20ff"/><circle cx="7.3" cy="76.2" r="1.6" fill="#ff1a1a"/><circle cx="8.2" cy="76.7" r="1.1" fill="#ff1a1a"/><circle cx="92.7" cy="75.5" r="1.6" fill="#ffa020"/><circle cx="93.6" cy="76" r="1.1" fill="#ffa020"/><circle cx="105.6" cy="74.2" r="1.6" fill="#20e0ff"/><circle cx="106.5" cy="74.7" r="1.1" fill="#20e0ff"/><circle cx="17.7" cy="80.6" r="1.6" fill="#20e0ff"/><circle cx="18.6" cy="81.1" r="1.1" fill="#20e0ff"/><circle cx="79.8" cy="85.8" r="1.6" fill="#ff1a1a"/><circle cx="80.7" cy="86.3" r="1.1" fill="#ff1a1a"/><circle cx="84.9" cy="84.5" r="1.6" fill="#ff20ff"/><circle cx="85.8" cy="85" r="1.1" fill="#ff20ff"/><circle cx="88.8" cy="85.8" r="1.6" fill="#ff1a1a"/><circle cx="89.7" cy="86.3" r="1.1" fill="#ff1a1a"/><circle cx="82.3" cy="87.1" r="1.6" fill="#20ff20"/><circle cx="83.2" cy="87.6" r="1.1" fill="#20ff20"/><circle cx="46.1" cy="87.1" r="1.6" fill="#20e0ff"/><circle cx="47" cy="87.6" r="1.1" fill="#20e0ff"/><circle cx="101.7" cy="89.7" r="1.6" fill="#ffa020"/><circle cx="102.6" cy="90.2" r="1.1" fill="#ffa020"/><circle cx="44.8" cy="92.3" r="1.6" fill="#ff1a1a"/><circle cx="45.7" cy="92.8" r="1.1" fill="#ff1a1a"/><circle cx="50" cy="92.3" r="1.6" fill="#ffa020"/><circle cx="50.9" cy="92.8" r="1.1" fill="#ffa020"/><circle cx="59.1" cy="91" r="1.6" fill="#ffa020"/><circle cx="60" cy="91.5" r="1.1" fill="#ffa020"/><circle cx="72" cy="93" r="1.6" fill="#20ff20"/><circle cx="72.9" cy="93.5" r="1.1" fill="#20ff20"/><circle cx="64.2" cy="94.9" r="1.6" fill="#ffa020"/><circle cx="65.1" cy="95.4" r="1.1" fill="#ffa020"/><circle cx="83.6" cy="92.3" r="1.6" fill="#3040ff"/><circle cx="84.5" cy="92.8" r="1.1" fill="#3040ff"/><circle cx="87.5" cy="92.3" r="1.6" fill="#a020ff"/><circle cx="88.4" cy="92.8" r="1.1" fill="#a020ff"/><circle cx="100.4" cy="98.7" r="1.6" fill="#20ff20"/><circle cx="101.3" cy="99.2" r="1.1" fill="#20ff20"/><circle cx="31.9" cy="97.4" r="1.6" fill="#ffa020"/><circle cx="32.8" cy="97.9" r="1.1" fill="#ffa020"/><circle cx="38.4" cy="98.7" r="1.6" fill="#ffff30"/><circle cx="39.3" cy="99.2" r="1.1" fill="#ffff30"/><circle cx="56.5" cy="100" r="1.6" fill="#ff1a1a"/><circle cx="57.4" cy="100.5" r="1.1" fill="#ff1a1a"/><circle cx="22.9" cy="101.3" r="1.6" fill="#ff20ff"/><circle cx="23.8" cy="101.8" r="1.1" fill="#ff20ff"/><circle cx="35.8" cy="102.6" r="1.6" fill="#20e0ff"/><circle cx="36.7" cy="103.1" r="1.1" fill="#20e0ff"/><circle cx="7.3" cy="103.9" r="1.6" fill="#ffa020"/><circle cx="8.2" cy="104.4" r="1.1" fill="#ffa020"/><circle cx="15.1" cy="104.7" r="1.6" fill="#ff20ff"/><circle cx="16" cy="105.2" r="1.1" fill="#ff20ff"/><circle cx="28" cy="103.9" r="1.6" fill="#20ff20"/><circle cx="28.9" cy="104.4" r="1.1" fill="#20ff20"/><circle cx="94" cy="101.3" r="1.6" fill="#ff20ff"/><circle cx="94.9" cy="101.8" r="1.1" fill="#ff20ff"/><circle cx="87.5" cy="103.9" r="1.6" fill="#20e0ff"/><circle cx="88.4" cy="104.4" r="1.1" fill="#20e0ff"/><circle cx="74.6" cy="71.6" r="1.6" fill="#20e0ff"/><circle cx="75.5" cy="72.1" r="1.1" fill="#20e0ff"/><circle cx="64.8" cy="69.5" r="1.6" fill="#ffff30"/><circle cx="65.7" cy="70" r="1.1" fill="#ffff30"/><circle cx="69.4" cy="70.3" r="1.6" fill="#ffff30"/><circle cx="70.3" cy="70.8" r="1.1" fill="#ffff30"/><circle cx="74.6" cy="66.4" r="1.6" fill="#3040ff"/><circle cx="75.5" cy="66.9" r="1.1" fill="#3040ff"/><circle cx="56.5" cy="71.6" r="1.6" fill="#3040ff"/><circle cx="57.4" cy="72.1" r="1.1" fill="#3040ff"/><circle cx="45.4" cy="23.8" r="0.8" fill="#20e0ff"/><circle cx="27.2" cy="16.9" r="0.8" fill="#ff20ff"/><circle cx="29.4" cy="42.8" r="0.8" fill="#ff20ff"/><circle cx="101.5" cy="53.9" r="0.8" fill="#ffa020"/><circle cx="78.8" cy="64.2" r="0.8" fill="#3040ff"/><circle cx="89.3" cy="92.6" r="0.8" fill="#ffff30"/><circle cx="19" cy="71.7" r="0.8" fill="#3040ff"/><circle cx="11.7" cy="77.5" r="0.8" fill="#ff20ff"/><circle cx="52.2" cy="44.9" r="0.8" fill="#20ff20"/><circle cx="61.6" cy="47.2" r="0.8" fill="#3040ff"/><circle cx="106.9" cy="58.6" r="0.8" fill="#a020ff"/><circle cx="57.5" cy="23.6" r="0.8" fill="#a020ff"/><circle cx="105.6" cy="40.2" r="0.8" fill="#ffff30"/><circle cx="103" cy="77.4" r="0.8" fill="#a020ff"/><circle cx="65.5" cy="105.2" r="0.8" fill="#20e0ff"/><circle cx="6.9" cy="5.4" r="0.8" fill="#a020ff"/><circle cx="74.8" cy="46.6" r="0.8" fill="#ffa020"/><circle cx="69.4" cy="17.9" r="0.8" fill="#ff2020"/><rect x="3.5" y="2.8" width="104.5" height="104.2" fill="none" stroke="#f6f6f6" stroke-width="1.15"/></g><text x="419.2" y="16.3" class="ins" textLength="15.97" lengthAdjust="spacingAndGlyphs">Inset</text><rect x="495.3" y="102.2" width="19.4" height="1.5" fill="#fff"/><text x="4.5" y="133.6" class="pl">D</text><text transform="translate(21.9,181.4) rotate(-90)" class="vl" text-anchor="middle" textLength="85.8" lengthAdjust="spacingAndGlyphs">WIDEFIELD IMAGING</text><g transform="translate(24.4,125)" clip-path="url(#clip110)"><rect width="110.4" height="110" fill="#140101"/><g filter="url(#blur2)"><path d="M0,0 L65,0 L68.8,35.6 L71.1,54.5 L85.3,75.9 L80,90 L75,106 L36,106 L30.8,94.8 L2.4,61.6 L0,60 Z" fill="#2a0303"/><path d="M94,0 L110,0 L110,46 L101,43 L95,25 Z" fill="#2a0303"/></g><g filter="url(#blur1)"><path d="M43.2 75.2h1.2v1.2h-1.2zM10.2 2.2h1.2v1.2h-1.2zM40.1 105.1h1.2v1.2h-1.2zM23.1 23.9h1.2v1.2h-1.2zM39.1 22.4h1.2v1.2h-1.2zM71.1 92h1.2v1.2h-1.2zM68.6 60h1.2v1.2h-1.2zM66.2 76.5h1.2v1.2h-1.2zM10.5 43.9h1.2v1.2h-1.2zM109.1 21.7h1.2v1.2h-1.2zM54.8 86.7h1.2v1.2h-1.2zM41.3 31.1h1.2v1.2h-1.2zM19.4 5h1.2v1.2h-1.2zM50.8 78.9h1.2v1.2h-1.2zM75.9 63.8h1.2v1.2h-1.2zM21.8 23.6h1.2v1.2h-1.2zM59.5 35.2h1.2v1.2h-1.2zM10.6 63.2h1.2v1.2h-1.2zM20.6 41.1h1.2v1.2h-1.2zM42.6 74.5h1.2v1.2h-1.2zM26.7 77.6h1.2v1.2h-1.2zM48.4 52.8h1.2v1.2h-1.2zM46 103.9h1.2v1.2h-1.2zM75.3 92.3h1.2v1.2h-1.2zM61.2 86.3h1.2v1.2h-1.2zM64.4 95.8h1.2v1.2h-1.2zM30 48.4h1.2v1.2h-1.2zM29.3 85.8h1.2v1.2h-1.2zM47.5 8.6h1.2v1.2h-1.2zM38.7 76h1.2v1.2h-1.2zM66.1 34.5h1.2v1.2h-1.2zM58.8 89.9h1.2v1.2h-1.2zM50.7 14.7h1.2v1.2h-1.2zM55 73h1.2v1.2h-1.2zM18.5 10.8h1.2v1.2h-1.2zM32.7 90.3h1.2v1.2h-1.2zM7.2 44.4h1.2v1.2h-1.2zM66.7 101.6h1.2v1.2h-1.2zM39.5 45.4h1.2v1.2h-1.2zM71.1 72.8h1.2v1.2h-1.2zM8.8 65.4h1.2v1.2h-1.2zM64.6 74.9h1.2v1.2h-1.2zM103.8 31h1.2v1.2h-1.2zM49.8 17.5h1.2v1.2h-1.2zM102.6 18.7h1.2v1.2h-1.2zM66.7 41h1.2v1.2h-1.2zM27.9 78h1.2v1.2h-1.2zM12.9 61.4h1.2v1.2h-1.2zM57.5 90.7h1.2v1.2h-1.2zM66.6 27.4h1.2v1.2h-1.2zM66.3 96h1.2v1.2h-1.2zM69.2 46.6h1.2v1.2h-1.2zM4.3 32.9h1.2v1.2h-1.2zM40.9 104.6h1.2v1.2h-1.2zM25 9.2h1.2v1.2h-1.2zM21.2 9.8h1.2v1.2h-1.2zM60.1 26.2h1.2v1.2h-1.2zM36 80.1h1.2v1.2h-1.2zM21.8 31.4h1.2v1.2h-1.2zM61.5 93.7h1.2v1.2h-1.2zM100.5 20h1.2v1.2h-1.2zM2.8 20.8h1.2v1.2h-1.2zM5.2 54.3h1.2v1.2h-1.2zM33.1 53.2h1.2v1.2h-1.2zM52.1 102h1.2v1.2h-1.2zM14.9 58.6h1.2v1.2h-1.2zM5.7 30h1.2v1.2h-1.2zM7.3 20.4h1.2v1.2h-1.2zM28.8 32.6h1.2v1.2h-1.2zM53.9 15.3h1.2v1.2h-1.2zM14.9 14.6h1.2v1.2h-1.2zM38.5 56.1h1.2v1.2h-1.2zM38.5 94.7h1.2v1.2h-1.2zM75.5 77.5h1.2v1.2h-1.2zM64.1 5.7h1.2v1.2h-1.2zM39.2 55.8h1.2v1.2h-1.2zM20 24.5h1.2v1.2h-1.2zM45.3 58.5h1.2v1.2h-1.2zM14.8 20.6h1.2v1.2h-1.2zM28 56.5h1.2v1.2h-1.2zM54.5 103.3h1.2v1.2h-1.2zM34.7 90h1.2v1.2h-1.2zM107.2 22.7h1.2v1.2h-1.2zM80.4 77.8h1.2v1.2h-1.2zM26.1 42.4h1.2v1.2h-1.2zM70 86.4h1.2v1.2h-1.2zM103.6 15.2h1.2v1.2h-1.2zM44.7 66.7h1.2v1.2h-1.2zM45 60.5h1.2v1.2h-1.2zM20.3 77.1h1.2v1.2h-1.2zM46.3 41.2h1.2v1.2h-1.2zM26.8 89.7h1.2v1.2h-1.2zM63.2 25.4h1.2v1.2h-1.2zM38 73.1h1.2v1.2h-1.2zM35.8 49.9h1.2v1.2h-1.2zM30.8 59.4h1.2v1.2h-1.2zM35.5 51.9h1.2v1.2h-1.2zM13.1 22.7h1.2v1.2h-1.2zM54.3 54.3h1.2v1.2h-1.2zM106.8 1.5h1.2v1.2h-1.2zM13 3.2h1.2v1.2h-1.2zM45.1 95.6h1.2v1.2h-1.2zM47.5 34.3h1.2v1.2h-1.2zM2.5 40.3h1.2v1.2h-1.2zM20.9 15.5h1.2v1.2h-1.2zM1.3 51.4h1.2v1.2h-1.2zM33.3 48.6h1.2v1.2h-1.2zM1.7 31.1h1.2v1.2h-1.2zM34 24.4h1.2v1.2h-1.2zM14.7 12.5h1.2v1.2h-1.2zM61.9 83.1h1.2v1.2h-1.2zM53.2 20.7h1.2v1.2h-1.2zM58.6 61.6h1.2v1.2h-1.2zM104.5 37.2h1.2v1.2h-1.2zM33.4 80.2h1.2v1.2h-1.2zM80.4 70.4h1.2v1.2h-1.2zM49 103.2h1.2v1.2h-1.2zM3.5 8.1h1.2v1.2h-1.2zM34.8 70.3h1.2v1.2h-1.2zM34.5 43.7h1.2v1.2h-1.2zM107.1 9.6h1.2v1.2h-1.2zM46.9 20.7h1.2v1.2h-1.2zM45.6 65.9h1.2v1.2h-1.2zM68.4 65h1.2v1.2h-1.2zM20.1 20.8h1.2v1.2h-1.2zM21.1 71.1h1.2v1.2h-1.2zM105.3 41.6h1.2v1.2h-1.2zM36.6 42.2h1.2v1.2h-1.2zM43.4 31.5h1.2v1.2h-1.2zM41.5 90.7h1.2v1.2h-1.2zM27.1 33.2h1.2v1.2h-1.2zM24.3 51h1.2v1.2h-1.2zM61.3 4.7h1.2v1.2h-1.2zM46.8 16.8h1.2v1.2h-1.2zM47.4 99h1.2v1.2h-1.2zM103.7 17h1.2v1.2h-1.2zM32.6 90.5h1.2v1.2h-1.2zM42.1 98.7h1.2v1.2h-1.2zM102.2 34h1.2v1.2h-1.2zM46.8 99.9h1.2v1.2h-1.2zM36.6 38.3h1.2v1.2h-1.2zM71.7 103.1h1.2v1.2h-1.2zM64.5 15.3h1.2v1.2h-1.2zM11.4 23.2h1.2v1.2h-1.2zM66.7 89.8h1.2v1.2h-1.2zM66.8 38.2h1.2v1.2h-1.2zM37 92.4h1.2v1.2h-1.2zM80.3 68.8h1.2v1.2h-1.2zM38.8 85.1h1.2v1.2h-1.2zM18.2 45.3h1.2v1.2h-1.2zM63.4 29.9h1.2v1.2h-1.2zM21 15.5h1.2v1.2h-1.2zM69.3 55.9h1.2v1.2h-1.2zM14.5 58.8h1.2v1.2h-1.2zM38.5 101.5h1.2v1.2h-1.2zM37.6 7h1.2v1.2h-1.2zM58.9 52h1.2v1.2h-1.2zM33.8 1.6h1.2v1.2h-1.2zM46.6 61.5h1.2v1.2h-1.2zM102.2 33.4h1.2v1.2h-1.2zM0.7 4.5h1.2v1.2h-1.2zM19.6 63.2h1.2v1.2h-1.2zM36.9 83.9h1.2v1.2h-1.2zM60.2 45.6h1.2v1.2h-1.2zM38.7 26.9h1.2v1.2h-1.2zM105.4 2.9h1.2v1.2h-1.2zM38.4 74.3h1.2v1.2h-1.2zM65.5 76.8h1.2v1.2h-1.2zM99 17.6h1.2v1.2h-1.2zM96.8 14.2h1.2v1.2h-1.2zM24.7 34.6h1.2v1.2h-1.2zM65.5 8h1.2v1.2h-1.2zM13.5 51.4h1.2v1.2h-1.2zM102.9 42.9h1.2v1.2h-1.2zM35.5 63.3h1.2v1.2h-1.2zM38.3 36.6h1.2v1.2h-1.2zM1.5 26.1h1.2v1.2h-1.2zM66.1 67.4h1.2v1.2h-1.2zM43.5 48.2h1.2v1.2h-1.2zM44.2 65.5h1.2v1.2h-1.2zM65.6 84.2h1.2v1.2h-1.2zM36.8 40h1.2v1.2h-1.2zM27.5 6.8h1.2v1.2h-1.2zM29.6 36.8h1.2v1.2h-1.2zM73.5 87.8h1.2v1.2h-1.2zM39.6 31.7h1.2v1.2h-1.2zM68.3 39.7h1.2v1.2h-1.2zM79.1 85.4h1.2v1.2h-1.2zM69.5 56.2h1.2v1.2h-1.2zM56.8 66.2h1.2v1.2h-1.2zM33.9 29.2h1.2v1.2h-1.2zM48.9 18.7h1.2v1.2h-1.2zM66.6 18.6h1.2v1.2h-1.2zM1.2 36.8h1.2v1.2h-1.2zM60.4 48.3h1.2v1.2h-1.2zM44.7 22.6h1.2v1.2h-1.2zM55 82.5h1.2v1.2h-1.2zM35.4 27.3h1.2v1.2h-1.2zM36.6 99.3h1.2v1.2h-1.2zM69.1 82.7h1.2v1.2h-1.2zM36.1 42h1.2v1.2h-1.2zM14.4 52.2h1.2v1.2h-1.2zM55.9 92.6h1.2v1.2h-1.2zM39.5 100.9h1.2v1.2h-1.2zM52.1 55.9h1.2v1.2h-1.2zM22.1 59h1.2v1.2h-1.2zM44.4 85.3h1.2v1.2h-1.2zM29.3 35.2h1.2v1.2h-1.2zM48.4 81.3h1.2v1.2h-1.2zM27.2 16.1h1.2v1.2h-1.2zM72.6 71.8h1.2v1.2h-1.2zM69.9 103.3h1.2v1.2h-1.2zM61.8 65.6h1.2v1.2h-1.2zM64.2 78.7h1.2v1.2h-1.2zM51.4 67.2h1.2v1.2h-1.2zM109.3 42.2h1.2v1.2h-1.2zM38.2 95.4h1.2v1.2h-1.2zM66.9 35.8h1.2v1.2h-1.2zM4.8 57.7h1.2v1.2h-1.2zM35.6 39.8h1.2v1.2h-1.2zM99.6 10h1.2v1.2h-1.2zM104.6 5h1.2v1.2h-1.2zM55.8 64.3h1.2v1.2h-1.2zM74.8 97.4h1.2v1.2h-1.2zM19.4 25.3h1.2v1.2h-1.2zM54.9 82h1.2v1.2h-1.2zM42.3 13.7h1.2v1.2h-1.2zM54.8 45.3h1.2v1.2h-1.2zM7.8 54.8h1.2v1.2h-1.2zM53.7 99.7h1.2v1.2h-1.2zM55.3 5.7h1.2v1.2h-1.2zM42.1 71.3h1.2v1.2h-1.2zM50.1 29.3h1.2v1.2h-1.2zM65 97h1.2v1.2h-1.2zM41.4 26.9h1.2v1.2h-1.2zM72 73.3h1.2v1.2h-1.2zM1.1 12.8h1.2v1.2h-1.2z" fill="#a00c0c" fill-opacity="0.2"/><path d="M1.4 12.4h1.2v1.2h-1.2zM58.9 49.3h1.2v1.2h-1.2zM21.8 36.3h1.2v1.2h-1.2zM4.6 37h1.2v1.2h-1.2zM50 88.1h1.2v1.2h-1.2zM13.1 21.4h1.2v1.2h-1.2zM36.9 78.5h1.2v1.2h-1.2zM67.4 70h1.2v1.2h-1.2zM38.4 1.2h1.2v1.2h-1.2zM22.7 21.3h1.2v1.2h-1.2zM20.2 50h1.2v1.2h-1.2zM51.4 14.7h1.2v1.2h-1.2zM26.7 85.7h1.2v1.2h-1.2zM38 76.8h1.2v1.2h-1.2zM68.7 52.7h1.2v1.2h-1.2zM32.7 52.1h1.2v1.2h-1.2zM63.7 44.4h1.2v1.2h-1.2zM59.7 103.5h1.2v1.2h-1.2zM45.2 90.6h1.2v1.2h-1.2zM6.8 27.3h1.2v1.2h-1.2zM15.5 5.2h1.2v1.2h-1.2zM45 59.2h1.2v1.2h-1.2zM48.4 15.6h1.2v1.2h-1.2zM35.4 42.8h1.2v1.2h-1.2zM49.6 44.2h1.2v1.2h-1.2zM49.9 15.1h1.2v1.2h-1.2zM37.5 105.5h1.2v1.2h-1.2zM46.3 34.5h1.2v1.2h-1.2zM59.6 53.5h1.2v1.2h-1.2zM53.1 6.8h1.2v1.2h-1.2zM60.7 65.1h1.2v1.2h-1.2zM59.9 86.6h1.2v1.2h-1.2zM28.5 8.2h1.2v1.2h-1.2zM20.7 15h1.2v1.2h-1.2zM65.1 38h1.2v1.2h-1.2zM8.1 45.5h1.2v1.2h-1.2zM56.6 17.8h1.2v1.2h-1.2zM18.2 28.9h1.2v1.2h-1.2zM51.3 78.8h1.2v1.2h-1.2zM41.3 47.7h1.2v1.2h-1.2zM4.6 50.9h1.2v1.2h-1.2zM37 88.5h1.2v1.2h-1.2zM60.4 84.4h1.2v1.2h-1.2zM3 26.4h1.2v1.2h-1.2zM106.9 30.7h1.2v1.2h-1.2zM66.2 30.2h1.2v1.2h-1.2zM76.5 68.8h1.2v1.2h-1.2zM43.9 51.2h1.2v1.2h-1.2zM37.4 104.5h1.2v1.2h-1.2zM97 13.1h1.2v1.2h-1.2zM27.9 7.6h1.2v1.2h-1.2zM33.5 48.3h1.2v1.2h-1.2zM62.2 16.9h1.2v1.2h-1.2zM14.8 41.4h1.2v1.2h-1.2zM5.4 18.2h1.2v1.2h-1.2zM24.7 51.8h1.2v1.2h-1.2zM64.4 9h1.2v1.2h-1.2zM39.2 64.5h1.2v1.2h-1.2zM34.9 77.4h1.2v1.2h-1.2zM28 15.6h1.2v1.2h-1.2zM47.9 65h1.2v1.2h-1.2zM69.1 90.4h1.2v1.2h-1.2zM62 23.3h1.2v1.2h-1.2zM33.8 44.8h1.2v1.2h-1.2zM67.4 81.6h1.2v1.2h-1.2zM27.9 20.5h1.2v1.2h-1.2zM56.2 79.4h1.2v1.2h-1.2zM48.4 80.5h1.2v1.2h-1.2zM66 22.3h1.2v1.2h-1.2zM11.6 14.2h1.2v1.2h-1.2zM27 79h1.2v1.2h-1.2zM39.2 102h1.2v1.2h-1.2zM96.2 5.8h1.2v1.2h-1.2zM42.7 100.6h1.2v1.2h-1.2zM68.4 67.6h1.2v1.2h-1.2zM41.3 29.6h1.2v1.2h-1.2zM69.9 100.6h1.2v1.2h-1.2zM5.4 51.4h1.2v1.2h-1.2zM109.4 33.3h1.2v1.2h-1.2zM38.1 6.8h1.2v1.2h-1.2zM64.7 104.4h1.2v1.2h-1.2zM10.3 59.3h1.2v1.2h-1.2zM13.2 48.6h1.2v1.2h-1.2zM3.1 21.7h1.2v1.2h-1.2zM65 75.2h1.2v1.2h-1.2zM66.5 47.4h1.2v1.2h-1.2zM78.5 80.2h1.2v1.2h-1.2zM41.8 76.8h1.2v1.2h-1.2zM23.2 42.8h1.2v1.2h-1.2zM16.6 28.2h1.2v1.2h-1.2zM108 33.9h1.2v1.2h-1.2zM17.4 20.5h1.2v1.2h-1.2zM47.2 89.3h1.2v1.2h-1.2zM38.1 64.1h1.2v1.2h-1.2zM26.5 71.8h1.2v1.2h-1.2zM28 6.9h1.2v1.2h-1.2zM11.1 67.4h1.2v1.2h-1.2zM18.1 54.9h1.2v1.2h-1.2zM45.3 25.6h1.2v1.2h-1.2zM22 56.1h1.2v1.2h-1.2zM2 52.5h1.2v1.2h-1.2zM48.1 100.5h1.2v1.2h-1.2zM75.9 74.5h1.2v1.2h-1.2zM46.6 97.4h1.2v1.2h-1.2zM31.3 81.8h1.2v1.2h-1.2zM12.8 7.6h1.2v1.2h-1.2zM8.9 45.7h1.2v1.2h-1.2zM64.5 37.1h1.2v1.2h-1.2zM29.9 19h1.2v1.2h-1.2zM38 10.8h1.2v1.2h-1.2zM104.4 6.7h1.2v1.2h-1.2zM12.4 71.8h1.2v1.2h-1.2zM16.3 15.9h1.2v1.2h-1.2zM41.7 68.7h1.2v1.2h-1.2zM63.4 15.7h1.2v1.2h-1.2zM62.8 74.8h1.2v1.2h-1.2zM45.7 98.1h1.2v1.2h-1.2zM53.9 22.4h1.2v1.2h-1.2zM50.5 60.6h1.2v1.2h-1.2zM64.3 93.8h1.2v1.2h-1.2zM10.5 44.5h1.2v1.2h-1.2zM27.4 64.4h1.2v1.2h-1.2zM44.4 54.7h1.2v1.2h-1.2zM82.2 80.2h1.2v1.2h-1.2zM49.9 8.3h1.2v1.2h-1.2zM29.2 79.1h1.2v1.2h-1.2zM59.8 50.5h1.2v1.2h-1.2zM41.3 13.9h1.2v1.2h-1.2zM96.7 14.6h1.2v1.2h-1.2zM9.9 68.9h1.2v1.2h-1.2zM54.1 61.9h1.2v1.2h-1.2zM45.6 92.2h1.2v1.2h-1.2zM74.6 69.4h1.2v1.2h-1.2zM59.5 1.7h1.2v1.2h-1.2zM14 74.8h1.2v1.2h-1.2zM26.4 17.2h1.2v1.2h-1.2zM26.7 0h1.2v1.2h-1.2zM60.7 79h1.2v1.2h-1.2zM66.9 29.9h1.2v1.2h-1.2zM33.4 62.6h1.2v1.2h-1.2zM109.9 33.2h1.2v1.2h-1.2zM28.1 59.6h1.2v1.2h-1.2zM29.8 61.2h1.2v1.2h-1.2zM28 16.5h1.2v1.2h-1.2zM4.5 35.9h1.2v1.2h-1.2zM65.4 6.4h1.2v1.2h-1.2zM38.4 13.4h1.2v1.2h-1.2zM73 61.1h1.2v1.2h-1.2zM49.2 12.5h1.2v1.2h-1.2zM57.4 54.2h1.2v1.2h-1.2zM43.4 5.7h1.2v1.2h-1.2zM100.3 23.9h1.2v1.2h-1.2zM63 5.7h1.2v1.2h-1.2zM57.1 37h1.2v1.2h-1.2zM45.9 34.6h1.2v1.2h-1.2zM66.6 98.7h1.2v1.2h-1.2zM98.5 16.7h1.2v1.2h-1.2zM13.9 73.9h1.2v1.2h-1.2zM58.1 86.4h1.2v1.2h-1.2zM19.4 41.2h1.2v1.2h-1.2zM47.6 55.9h1.2v1.2h-1.2zM55.5 80.3h1.2v1.2h-1.2zM28.3 15h1.2v1.2h-1.2zM19.8 17.9h1.2v1.2h-1.2zM58.6 93.5h1.2v1.2h-1.2zM14.2 0.6h1.2v1.2h-1.2zM46.6 104.6h1.2v1.2h-1.2zM28.6 13.6h1.2v1.2h-1.2zM39.3 18.7h1.2v1.2h-1.2zM53.7 69.5h1.2v1.2h-1.2zM39.9 54.7h1.2v1.2h-1.2zM67 28.5h1.2v1.2h-1.2zM41.1 91h1.2v1.2h-1.2zM79.4 85h1.2v1.2h-1.2zM35.4 6.4h1.2v1.2h-1.2zM62.6 0.2h1.2v1.2h-1.2zM64 73.4h1.2v1.2h-1.2zM34.8 1.8h1.2v1.2h-1.2zM55.1 71.9h1.2v1.2h-1.2zM22.9 47.7h1.2v1.2h-1.2zM97.6 7.8h1.2v1.2h-1.2zM6.9 31.1h1.2v1.2h-1.2zM81.4 81.5h1.2v1.2h-1.2zM68.4 71.6h1.2v1.2h-1.2zM8.1 67h1.2v1.2h-1.2zM34.1 96.3h1.2v1.2h-1.2zM56.7 9.6h1.2v1.2h-1.2zM105 14.3h1.2v1.2h-1.2zM55.3 78.7h1.2v1.2h-1.2zM65.9 80.5h1.2v1.2h-1.2zM16.3 25.5h1.2v1.2h-1.2zM62.4 15.4h1.2v1.2h-1.2zM4.6 48.5h1.2v1.2h-1.2zM13.8 45.9h1.2v1.2h-1.2zM12.5 32.7h1.2v1.2h-1.2zM57 95.5h1.2v1.2h-1.2zM21.1 44.5h1.2v1.2h-1.2zM33.8 12.2h1.2v1.2h-1.2zM53.8 86h1.2v1.2h-1.2zM33.2 39h1.2v1.2h-1.2zM31.1 78.3h1.2v1.2h-1.2zM55.4 98.5h1.2v1.2h-1.2zM19.1 51.6h1.2v1.2h-1.2zM50.2 94.7h1.2v1.2h-1.2zM62.7 45.8h1.2v1.2h-1.2zM66 28.4h1.2v1.2h-1.2zM50.5 53.7h1.2v1.2h-1.2zM100 7.3h1.2v1.2h-1.2zM34.3 92.6h1.2v1.2h-1.2zM83.5 80h1.2v1.2h-1.2zM104.4 2.3h1.2v1.2h-1.2zM14 53.3h1.2v1.2h-1.2zM68.9 91.4h1.2v1.2h-1.2zM18.6 61.7h1.2v1.2h-1.2zM46.7 65.4h1.2v1.2h-1.2zM50 50h1.2v1.2h-1.2zM25.9 8h1.2v1.2h-1.2zM48.6 83.8h1.2v1.2h-1.2zM29.7 28.4h1.2v1.2h-1.2zM29.9 25.9h1.2v1.2h-1.2zM42.8 39.5h1.2v1.2h-1.2zM66.2 38.7h1.2v1.2h-1.2zM40.8 87.9h1.2v1.2h-1.2zM102.9 32.3h1.2v1.2h-1.2zM26.5 6.4h1.2v1.2h-1.2zM45.2 4.9h1.2v1.2h-1.2zM97.1 11.8h1.2v1.2h-1.2zM32.4 75.1h1.2v1.2h-1.2zM36.6 76.2h1.2v1.2h-1.2z" fill="#a00c0c" fill-opacity="0.35"/><path d="M15.3 12.4h1.2v1.2h-1.2zM25.5 83.3h1.2v1.2h-1.2zM64.3 60.2h1.2v1.2h-1.2zM36.8 43.6h1.2v1.2h-1.2zM33.7 19.4h1.2v1.2h-1.2zM48.9 86.8h1.2v1.2h-1.2zM61.8 13h1.2v1.2h-1.2zM30.6 41h1.2v1.2h-1.2zM4.2 12.3h1.2v1.2h-1.2zM57.6 78.9h1.2v1.2h-1.2zM13.1 46.7h1.2v1.2h-1.2zM15.5 41.9h1.2v1.2h-1.2zM33.8 46.8h1.2v1.2h-1.2zM98.5 28.5h1.2v1.2h-1.2zM40 44.1h1.2v1.2h-1.2zM40.5 84.8h1.2v1.2h-1.2zM7.3 27.4h1.2v1.2h-1.2zM55 102.9h1.2v1.2h-1.2zM30.5 20h1.2v1.2h-1.2zM3.7 53.1h1.2v1.2h-1.2zM0.6 0h1.2v1.2h-1.2zM41.8 83.3h1.2v1.2h-1.2zM66.6 93.1h1.2v1.2h-1.2zM61 24.4h1.2v1.2h-1.2zM34.4 4.9h1.2v1.2h-1.2zM52.6 75.4h1.2v1.2h-1.2zM18.6 9.9h1.2v1.2h-1.2zM62.6 100.1h1.2v1.2h-1.2zM41.9 25.1h1.2v1.2h-1.2zM20.5 24.9h1.2v1.2h-1.2zM77.8 67.2h1.2v1.2h-1.2zM65.4 59.7h1.2v1.2h-1.2zM49.9 19.8h1.2v1.2h-1.2zM42.8 98.7h1.2v1.2h-1.2zM77.9 81.2h1.2v1.2h-1.2zM38.3 19.8h1.2v1.2h-1.2zM32.8 5.7h1.2v1.2h-1.2zM4 8.2h1.2v1.2h-1.2zM16.3 76h1.2v1.2h-1.2zM54 37.8h1.2v1.2h-1.2zM17.7 51.5h1.2v1.2h-1.2zM40.2 25.6h1.2v1.2h-1.2zM66.3 43.1h1.2v1.2h-1.2zM14.1 72.3h1.2v1.2h-1.2zM61.2 49.1h1.2v1.2h-1.2zM74.5 85h1.2v1.2h-1.2zM9.6 8.2h1.2v1.2h-1.2zM59.4 97.2h1.2v1.2h-1.2zM24.4 6.2h1.2v1.2h-1.2zM27.9 37.8h1.2v1.2h-1.2zM66.4 43.5h1.2v1.2h-1.2zM38.7 42.3h1.2v1.2h-1.2zM5.5 39.7h1.2v1.2h-1.2zM27.4 54.9h1.2v1.2h-1.2zM31.7 95.5h1.2v1.2h-1.2zM34.9 10.2h1.2v1.2h-1.2zM39.1 80.7h1.2v1.2h-1.2zM37 84h1.2v1.2h-1.2zM48.5 61.9h1.2v1.2h-1.2zM33.8 101.3h1.2v1.2h-1.2zM9.3 64.1h1.2v1.2h-1.2zM53.5 30.4h1.2v1.2h-1.2zM70.5 85.1h1.2v1.2h-1.2zM60.5 74h1.2v1.2h-1.2zM40.4 25.4h1.2v1.2h-1.2zM39.2 63.1h1.2v1.2h-1.2zM19.5 50.4h1.2v1.2h-1.2zM73.3 88.3h1.2v1.2h-1.2zM70.7 99.3h1.2v1.2h-1.2zM51.4 97.6h1.2v1.2h-1.2zM26.1 84.1h1.2v1.2h-1.2zM68.2 93.4h1.2v1.2h-1.2zM33.6 56.9h1.2v1.2h-1.2zM42.7 8h1.2v1.2h-1.2zM42.3 77.4h1.2v1.2h-1.2zM59.1 38.5h1.2v1.2h-1.2zM65.5 75.7h1.2v1.2h-1.2zM106.3 2.4h1.2v1.2h-1.2zM36.1 35.7h1.2v1.2h-1.2zM62.8 45.8h1.2v1.2h-1.2zM105.5 0.1h1.2v1.2h-1.2zM51 3.7h1.2v1.2h-1.2zM16.6 22.7h1.2v1.2h-1.2zM60.7 69.3h1.2v1.2h-1.2zM79.2 92.1h1.2v1.2h-1.2zM77.1 88.1h1.2v1.2h-1.2zM36.9 36.3h1.2v1.2h-1.2zM33.8 85.6h1.2v1.2h-1.2zM36.4 21h1.2v1.2h-1.2zM43.1 72.6h1.2v1.2h-1.2zM37.6 3.8h1.2v1.2h-1.2zM12.5 14.3h1.2v1.2h-1.2zM76.8 74.8h1.2v1.2h-1.2zM36.7 35.9h1.2v1.2h-1.2zM46.3 83.9h1.2v1.2h-1.2zM17.6 30.7h1.2v1.2h-1.2zM13 18.7h1.2v1.2h-1.2zM53.7 1h1.2v1.2h-1.2zM8.3 55.2h1.2v1.2h-1.2zM21.7 59.9h1.2v1.2h-1.2zM2.7 2.6h1.2v1.2h-1.2zM0.4 22.3h1.2v1.2h-1.2zM58.8 40.3h1.2v1.2h-1.2zM51.1 86.9h1.2v1.2h-1.2zM29.2 71.9h1.2v1.2h-1.2zM55.9 59.2h1.2v1.2h-1.2zM5.1 31.5h1.2v1.2h-1.2zM48.4 99.1h1.2v1.2h-1.2zM54.4 8h1.2v1.2h-1.2zM37.3 7.9h1.2v1.2h-1.2zM53 6.6h1.2v1.2h-1.2zM53.2 61.4h1.2v1.2h-1.2zM29.8 8.2h1.2v1.2h-1.2zM77.5 82h1.2v1.2h-1.2zM49.5 5.1h1.2v1.2h-1.2zM5.4 57.4h1.2v1.2h-1.2zM3.9 7.6h1.2v1.2h-1.2zM36.2 105.8h1.2v1.2h-1.2zM36.3 94.8h1.2v1.2h-1.2zM64.6 55.9h1.2v1.2h-1.2zM49 27.7h1.2v1.2h-1.2zM65.7 94.7h1.2v1.2h-1.2zM33.1 80.4h1.2v1.2h-1.2zM100 18.8h1.2v1.2h-1.2zM15 35h1.2v1.2h-1.2zM62.6 52.2h1.2v1.2h-1.2zM104.5 22.5h1.2v1.2h-1.2zM108.6 27.1h1.2v1.2h-1.2zM101.3 1.1h1.2v1.2h-1.2zM12.1 38.5h1.2v1.2h-1.2zM59.2 54.3h1.2v1.2h-1.2zM26.9 27.9h1.2v1.2h-1.2zM107.3 43.7h1.2v1.2h-1.2zM107.1 17.6h1.2v1.2h-1.2zM24.6 58.5h1.2v1.2h-1.2zM65.9 55.2h1.2v1.2h-1.2zM43.1 25.9h1.2v1.2h-1.2zM67.6 37.7h1.2v1.2h-1.2zM35.5 66.4h1.2v1.2h-1.2zM71.2 90.6h1.2v1.2h-1.2zM102.4 10.1h1.2v1.2h-1.2zM14.2 25.1h1.2v1.2h-1.2zM14.9 34h1.2v1.2h-1.2zM0.2 54.5h1.2v1.2h-1.2zM25 35.3h1.2v1.2h-1.2zM45.9 33.4h1.2v1.2h-1.2zM105.7 35.5h1.2v1.2h-1.2zM11.3 30.6h1.2v1.2h-1.2zM47.1 81.4h1.2v1.2h-1.2zM6.3 36.9h1.2v1.2h-1.2zM65.9 55.3h1.2v1.2h-1.2zM62.8 56.1h1.2v1.2h-1.2zM64.6 55.7h1.2v1.2h-1.2zM43.6 92.5h1.2v1.2h-1.2zM22.2 31.4h1.2v1.2h-1.2zM45.5 103.2h1.2v1.2h-1.2zM30.7 85.9h1.2v1.2h-1.2zM61.2 32.9h1.2v1.2h-1.2zM34.5 40.8h1.2v1.2h-1.2zM72.6 68.6h1.2v1.2h-1.2zM58.5 12.8h1.2v1.2h-1.2zM31.1 80.4h1.2v1.2h-1.2zM32.2 63.5h1.2v1.2h-1.2zM109.6 34.2h1.2v1.2h-1.2zM12.9 48.5h1.2v1.2h-1.2zM60.5 12.6h1.2v1.2h-1.2zM64.1 55.9h1.2v1.2h-1.2zM49.8 74.6h1.2v1.2h-1.2zM8.6 21.4h1.2v1.2h-1.2zM58.3 85.5h1.2v1.2h-1.2zM10.3 8h1.2v1.2h-1.2zM32.2 63.7h1.2v1.2h-1.2zM34.8 8.2h1.2v1.2h-1.2zM36.3 79.9h1.2v1.2h-1.2zM68.2 91.4h1.2v1.2h-1.2zM50.9 7.2h1.2v1.2h-1.2zM52 41h1.2v1.2h-1.2zM54.8 41.7h1.2v1.2h-1.2zM3.8 2.9h1.2v1.2h-1.2zM38.5 103.7h1.2v1.2h-1.2zM31.3 10.7h1.2v1.2h-1.2zM51.2 79.1h1.2v1.2h-1.2zM51.9 81h1.2v1.2h-1.2zM58.6 38.2h1.2v1.2h-1.2z" fill="#a00c0c" fill-opacity="0.5"/><line x1="63.3" y1="-0" x2="64" y2="13" stroke="#b81010" stroke-opacity="0.4" stroke-width="1.2" stroke-dasharray="1.4 0.5 0.7 0.8 2 0.4"/><line x1="62.4" y1="0" x2="63.1" y2="13.1" stroke="#b81010" stroke-opacity="0.3" stroke-width="1.2" stroke-dasharray="2.2 0.6 0.8 0.9 1.1 0.4"/><line x1="46.6" y1="18.8" x2="51.4" y2="28.2" stroke="#b81010" stroke-opacity="0.4" stroke-width="1.2" stroke-dasharray="1.4 0.5 0.7 0.8 2 0.4"/><line x1="45.8" y1="19.2" x2="50.6" y2="28.7" stroke="#b81010" stroke-opacity="0.4" stroke-width="1.2" stroke-dasharray="0.9 0.7 1.8 0.5 0.6 0.6"/><line x1="49" y1="17.6" x2="53.8" y2="28.3" stroke="#b81010" stroke-opacity="0.3" stroke-width="1.2" stroke-dasharray="0.9 0.7 1.8 0.5 0.6 0.6"/><line x1="48.2" y1="18" x2="52.9" y2="28.6" stroke="#b81010" stroke-opacity="0.3" stroke-width="1.2" stroke-dasharray="0.9 0.7 1.8 0.5 0.6 0.6"/><line x1="51.4" y1="20.1" x2="53.1" y2="29.6" stroke="#b81010" stroke-opacity="0.3" stroke-width="1.2" stroke-dasharray="2.2 0.6 0.8 0.9 1.1 0.4"/><line x1="50.5" y1="20.2" x2="52.2" y2="29.7" stroke="#b81010" stroke-opacity="0.3" stroke-width="1.2" stroke-dasharray="0.9 0.7 1.8 0.5 0.6 0.6"/><line x1="45" y1="22.3" x2="49" y2="29.4" stroke="#b81010" stroke-opacity="0.3" stroke-width="1.2" stroke-dasharray="0.9 0.7 1.8 0.5 0.6 0.6"/><line x1="44.2" y1="22.7" x2="48.2" y2="29.9" stroke="#b81010" stroke-opacity="0.3" stroke-width="1.2" stroke-dasharray="0.9 0.7 1.8 0.5 0.6 0.6"/><line x1="32.4" y1="32.9" x2="37.1" y2="26.3" stroke="#b81010" stroke-opacity="0.4" stroke-width="1.2" stroke-dasharray="1.4 0.5 0.7 0.8 2 0.4"/><line x1="33.1" y1="33.5" x2="37.8" y2="26.8" stroke="#b81010" stroke-opacity="0.3" stroke-width="1.2" stroke-dasharray="1.4 0.5 0.7 0.8 2 0.4"/><line x1="35.2" y1="33.4" x2="39" y2="27.7" stroke="#b81010" stroke-opacity="0.3" stroke-width="1.2" stroke-dasharray="1.4 0.5 0.7 0.8 2 0.4"/><line x1="35.9" y1="33.9" x2="39.7" y2="28.2" stroke="#b81010" stroke-opacity="0.3" stroke-width="1.2" stroke-dasharray="1.4 0.5 0.7 0.8 2 0.4"/><line x1="5.1" y1="44.7" x2="11" y2="50.7" stroke="#b81010" stroke-opacity="0.3" stroke-width="1.2" stroke-dasharray="0.9 0.7 1.8 0.5 0.6 0.6"/><line x1="4.4" y1="45.4" x2="10.4" y2="51.3" stroke="#b81010" stroke-opacity="0.3" stroke-width="1.2" stroke-dasharray="2.2 0.6 0.8 0.9 1.1 0.4"/><line x1="9.8" y1="47.1" x2="16.9" y2="54.2" stroke="#b81010" stroke-opacity="0.3" stroke-width="1.2" stroke-dasharray="1.4 0.5 0.7 0.8 2 0.4"/><line x1="9.2" y1="47.7" x2="16.3" y2="54.8" stroke="#b81010" stroke-opacity="0.3" stroke-width="1.2" stroke-dasharray="1.4 0.5 0.7 0.8 2 0.4"/><line x1="13.4" y1="48.3" x2="19.3" y2="55.4" stroke="#b81010" stroke-opacity="0.4" stroke-width="1.2" stroke-dasharray="1.4 0.5 0.7 0.8 2 0.4"/><line x1="12.7" y1="48.9" x2="18.6" y2="56" stroke="#b81010" stroke-opacity="0.4" stroke-width="1.2" stroke-dasharray="2.2 0.6 0.8 0.9 1.1 0.4"/><line x1="7.5" y1="47.1" x2="12.2" y2="53.1" stroke="#b81010" stroke-opacity="0.3" stroke-width="1.2" stroke-dasharray="2.2 0.6 0.8 0.9 1.1 0.4"/><line x1="6.8" y1="47.7" x2="11.5" y2="53.6" stroke="#b81010" stroke-opacity="0.4" stroke-width="1.2" stroke-dasharray="2.2 0.6 0.8 0.9 1.1 0.4"/><line x1="45.5" y1="40.2" x2="49" y2="54.4" stroke="#b81010" stroke-opacity="0.4" stroke-width="1.2" stroke-dasharray="0.9 0.7 1.8 0.5 0.6 0.6"/><line x1="44.6" y1="40.4" x2="48.2" y2="54.6" stroke="#b81010" stroke-opacity="0.3" stroke-width="1.2" stroke-dasharray="2.2 0.6 0.8 0.9 1.1 0.4"/><line x1="43.1" y1="46.1" x2="46.7" y2="56.8" stroke="#b81010" stroke-opacity="0.4" stroke-width="1.2" stroke-dasharray="0.9 0.7 1.8 0.5 0.6 0.6"/><line x1="42.2" y1="46.4" x2="45.8" y2="57" stroke="#b81010" stroke-opacity="0.3" stroke-width="1.2" stroke-dasharray="0.9 0.7 1.8 0.5 0.6 0.6"/><line x1="51.4" y1="42.6" x2="53.8" y2="56.8" stroke="#b81010" stroke-opacity="0.4" stroke-width="1.2" stroke-dasharray="2.2 0.6 0.8 0.9 1.1 0.4"/><line x1="50.5" y1="42.7" x2="52.9" y2="57" stroke="#b81010" stroke-opacity="0.3" stroke-width="1.2" stroke-dasharray="2.2 0.6 0.8 0.9 1.1 0.4"/><line x1="56.2" y1="54.5" x2="57.3" y2="61.6" stroke="#b81010" stroke-opacity="0.3" stroke-width="1.2" stroke-dasharray="0.9 0.7 1.8 0.5 0.6 0.6"/><line x1="55.3" y1="54.6" x2="56.5" y2="61.7" stroke="#b81010" stroke-opacity="0.4" stroke-width="1.2" stroke-dasharray="2.2 0.6 0.8 0.9 1.1 0.4"/><line x1="49" y1="47.3" x2="51.4" y2="59.2" stroke="#b81010" stroke-opacity="0.3" stroke-width="1.2" stroke-dasharray="2.2 0.6 0.8 0.9 1.1 0.4"/><line x1="48.2" y1="47.5" x2="50.5" y2="59.4" stroke="#b81010" stroke-opacity="0.4" stroke-width="1.2" stroke-dasharray="0.9 0.7 1.8 0.5 0.6 0.6"/><line x1="8.6" y1="63.7" x2="18.1" y2="70.8" stroke="#b81010" stroke-opacity="0.4" stroke-width="1.2" stroke-dasharray="1.4 0.5 0.7 0.8 2 0.4"/><line x1="8" y1="64.4" x2="17.5" y2="71.5" stroke="#b81010" stroke-opacity="0.3" stroke-width="1.2" stroke-dasharray="2.2 0.6 0.8 0.9 1.1 0.4"/><line x1="14.6" y1="64.9" x2="24" y2="75.6" stroke="#b81010" stroke-opacity="0.3" stroke-width="1.2" stroke-dasharray="2.2 0.6 0.8 0.9 1.1 0.4"/><line x1="13.9" y1="65.5" x2="23.4" y2="76.2" stroke="#b81010" stroke-opacity="0.4" stroke-width="1.2" stroke-dasharray="0.9 0.7 1.8 0.5 0.6 0.6"/><line x1="18.1" y1="70.8" x2="26.4" y2="80.3" stroke="#b81010" stroke-opacity="0.4" stroke-width="1.2" stroke-dasharray="0.9 0.7 1.8 0.5 0.6 0.6"/><line x1="17.4" y1="71.4" x2="25.7" y2="80.9" stroke="#b81010" stroke-opacity="0.3" stroke-width="1.2" stroke-dasharray="1.4 0.5 0.7 0.8 2 0.4"/><line x1="17" y1="75.6" x2="31.2" y2="94.6" stroke="#b81010" stroke-opacity="0.3" stroke-width="1.2" stroke-dasharray="2.2 0.6 0.8 0.9 1.1 0.4"/><line x1="16.2" y1="76.1" x2="30.5" y2="95.1" stroke="#b81010" stroke-opacity="0.4" stroke-width="1.2" stroke-dasharray="2.2 0.6 0.8 0.9 1.1 0.4"/><line x1="24.1" y1="78" x2="30" y2="89.9" stroke="#b81010" stroke-opacity="0.3" stroke-width="1.2" stroke-dasharray="0.9 0.7 1.8 0.5 0.6 0.6"/><line x1="23.3" y1="78.4" x2="29.2" y2="90.3" stroke="#b81010" stroke-opacity="0.3" stroke-width="1.2" stroke-dasharray="0.9 0.7 1.8 0.5 0.6 0.6"/><line x1="31.3" y1="78.1" x2="36" y2="94.7" stroke="#b81010" stroke-opacity="0.3" stroke-width="1.2" stroke-dasharray="2.2 0.6 0.8 0.9 1.1 0.4"/><line x1="30.4" y1="78.4" x2="35.1" y2="95" stroke="#b81010" stroke-opacity="0.3" stroke-width="1.2" stroke-dasharray="0.9 0.7 1.8 0.5 0.6 0.6"/><line x1="38.4" y1="71" x2="41.9" y2="85.2" stroke="#b81010" stroke-opacity="0.3" stroke-width="1.2" stroke-dasharray="2.2 0.6 0.8 0.9 1.1 0.4"/><line x1="37.5" y1="71.2" x2="41.1" y2="85.5" stroke="#b81010" stroke-opacity="0.3" stroke-width="1.2" stroke-dasharray="0.9 0.7 1.8 0.5 0.6 0.6"/><line x1="40.7" y1="80.5" x2="44.3" y2="94.7" stroke="#b81010" stroke-opacity="0.3" stroke-width="1.2" stroke-dasharray="2.2 0.6 0.8 0.9 1.1 0.4"/><line x1="39.9" y1="80.7" x2="43.4" y2="94.9" stroke="#b81010" stroke-opacity="0.3" stroke-width="1.2" stroke-dasharray="1.4 0.5 0.7 0.8 2 0.4"/><line x1="47.9" y1="75.8" x2="50.2" y2="90" stroke="#b81010" stroke-opacity="0.3" stroke-width="1.2" stroke-dasharray="2.2 0.6 0.8 0.9 1.1 0.4"/><line x1="47" y1="75.9" x2="49.3" y2="90.2" stroke="#b81010" stroke-opacity="0.4" stroke-width="1.2" stroke-dasharray="0.9 0.7 1.8 0.5 0.6 0.6"/><line x1="50.2" y1="80.5" x2="53.1" y2="99.5" stroke="#b81010" stroke-opacity="0.3" stroke-width="1.2" stroke-dasharray="2.2 0.6 0.8 0.9 1.1 0.4"/><line x1="49.3" y1="80.7" x2="52.2" y2="99.6" stroke="#b81010" stroke-opacity="0.4" stroke-width="1.2" stroke-dasharray="0.9 0.7 1.8 0.5 0.6 0.6"/><line x1="57.3" y1="68.6" x2="60.9" y2="82.9" stroke="#b81010" stroke-opacity="0.3" stroke-width="1.2" stroke-dasharray="1.4 0.5 0.7 0.8 2 0.4"/><line x1="56.5" y1="68.9" x2="60" y2="83.1" stroke="#b81010" stroke-opacity="0.4" stroke-width="1.2" stroke-dasharray="0.9 0.7 1.8 0.5 0.6 0.6"/><line x1="58.5" y1="80.5" x2="61.6" y2="97.1" stroke="#b81010" stroke-opacity="0.3" stroke-width="1.2" stroke-dasharray="2.2 0.6 0.8 0.9 1.1 0.4"/><line x1="57.6" y1="80.7" x2="60.7" y2="97.3" stroke="#b81010" stroke-opacity="0.3" stroke-width="1.2" stroke-dasharray="2.2 0.6 0.8 0.9 1.1 0.4"/><line x1="64.4" y1="63.9" x2="69.2" y2="78.1" stroke="#b81010" stroke-opacity="0.3" stroke-width="1.2" stroke-dasharray="0.9 0.7 1.8 0.5 0.6 0.6"/><line x1="63.6" y1="64.2" x2="68.3" y2="78.4" stroke="#b81010" stroke-opacity="0.3" stroke-width="1.2" stroke-dasharray="2.2 0.6 0.8 0.9 1.1 0.4"/><line x1="66.8" y1="71" x2="71.6" y2="90" stroke="#b81010" stroke-opacity="0.3" stroke-width="1.2" stroke-dasharray="0.9 0.7 1.8 0.5 0.6 0.6"/><line x1="65.9" y1="71.2" x2="70.7" y2="90.2" stroke="#b81010" stroke-opacity="0.3" stroke-width="1.2" stroke-dasharray="2.2 0.6 0.8 0.9 1.1 0.4"/><line x1="69.1" y1="59" x2="85.7" y2="75.5" stroke="#b81010" stroke-opacity="0.3" stroke-width="1.2" stroke-dasharray="2.2 0.6 0.8 0.9 1.1 0.4"/><line x1="68.4" y1="59.6" x2="85" y2="76.2" stroke="#b81010" stroke-opacity="0.3" stroke-width="1.2" stroke-dasharray="0.9 0.7 1.8 0.5 0.6 0.6"/><line x1="71.5" y1="59" x2="81" y2="70.8" stroke="#b81010" stroke-opacity="0.3" stroke-width="1.2" stroke-dasharray="2.2 0.6 0.8 0.9 1.1 0.4"/><line x1="70.8" y1="59.6" x2="80.3" y2="71.4" stroke="#b81010" stroke-opacity="0.4" stroke-width="1.2" stroke-dasharray="2.2 0.6 0.8 0.9 1.1 0.4"/><line x1="36" y1="92.3" x2="39.5" y2="104.2" stroke="#b81010" stroke-opacity="0.3" stroke-width="1.2" stroke-dasharray="0.9 0.7 1.8 0.5 0.6 0.6"/><line x1="35.1" y1="92.6" x2="38.7" y2="104.4" stroke="#b81010" stroke-opacity="0.3" stroke-width="1.2" stroke-dasharray="2.2 0.6 0.8 0.9 1.1 0.4"/><line x1="45.5" y1="94.7" x2="47.9" y2="104.2" stroke="#b81010" stroke-opacity="0.3" stroke-width="1.2" stroke-dasharray="0.9 0.7 1.8 0.5 0.6 0.6"/><line x1="44.6" y1="94.9" x2="47" y2="104.4" stroke="#b81010" stroke-opacity="0.4" stroke-width="1.2" stroke-dasharray="2.2 0.6 0.8 0.9 1.1 0.4"/><line x1="55" y1="94.7" x2="57.3" y2="104.2" stroke="#b81010" stroke-opacity="0.3" stroke-width="1.2" stroke-dasharray="0.9 0.7 1.8 0.5 0.6 0.6"/><line x1="54.1" y1="94.9" x2="56.5" y2="104.4" stroke="#b81010" stroke-opacity="0.3" stroke-width="1.2" stroke-dasharray="0.9 0.7 1.8 0.5 0.6 0.6"/><line x1="62.1" y1="94.7" x2="64.4" y2="101.8" stroke="#b81010" stroke-opacity="0.3" stroke-width="1.2" stroke-dasharray="2.2 0.6 0.8 0.9 1.1 0.4"/><line x1="61.2" y1="95" x2="63.6" y2="102.1" stroke="#b81010" stroke-opacity="0.3" stroke-width="1.2" stroke-dasharray="2.2 0.6 0.8 0.9 1.1 0.4"/><line x1="28.9" y1="61.5" x2="32.4" y2="71" stroke="#b81010" stroke-opacity="0.3" stroke-width="1.2" stroke-dasharray="1.4 0.5 0.7 0.8 2 0.4"/><line x1="28" y1="61.8" x2="31.6" y2="71.3" stroke="#b81010" stroke-opacity="0.4" stroke-width="1.2" stroke-dasharray="1.4 0.5 0.7 0.8 2 0.4"/><line x1="36" y1="59.2" x2="38.4" y2="68.6" stroke="#b81010" stroke-opacity="0.3" stroke-width="1.2" stroke-dasharray="0.9 0.7 1.8 0.5 0.6 0.6"/><line x1="35.1" y1="59.4" x2="37.5" y2="68.9" stroke="#b81010" stroke-opacity="0.3" stroke-width="1.2" stroke-dasharray="2.2 0.6 0.8 0.9 1.1 0.4"/><line x1="22.9" y1="89.9" x2="26.5" y2="99.4" stroke="#b81010" stroke-opacity="0.3" stroke-width="1.2" stroke-dasharray="1.4 0.5 0.7 0.8 2 0.4"/><line x1="22.1" y1="90.2" x2="25.7" y2="99.7" stroke="#b81010" stroke-opacity="0.4" stroke-width="1.2" stroke-dasharray="1.4 0.5 0.7 0.8 2 0.4"/><line x1="68" y1="92.3" x2="71.5" y2="99.4" stroke="#b81010" stroke-opacity="0.3" stroke-width="1.2" stroke-dasharray="1.4 0.5 0.7 0.8 2 0.4"/><line x1="67.2" y1="92.7" x2="70.7" y2="99.8" stroke="#b81010" stroke-opacity="0.3" stroke-width="1.2" stroke-dasharray="0.9 0.7 1.8 0.5 0.6 0.6"/><line x1="94.4" y1="21.1" x2="103.9" y2="4.5" stroke="#b81010" stroke-opacity="0.4" stroke-width="1.2" stroke-dasharray="2.2 0.6 0.8 0.9 1.1 0.4"/><line x1="95.2" y1="21.6" x2="104.7" y2="5" stroke="#b81010" stroke-opacity="0.3" stroke-width="1.2" stroke-dasharray="2.2 0.6 0.8 0.9 1.1 0.4"/><line x1="96.8" y1="25.8" x2="107.5" y2="9.2" stroke="#b81010" stroke-opacity="0.3" stroke-width="1.2" stroke-dasharray="0.9 0.7 1.8 0.5 0.6 0.6"/><line x1="97.6" y1="26.3" x2="108.2" y2="9.7" stroke="#b81010" stroke-opacity="0.4" stroke-width="1.2" stroke-dasharray="0.9 0.7 1.8 0.5 0.6 0.6"/><line x1="99.2" y1="33" x2="108.7" y2="16.4" stroke="#b81010" stroke-opacity="0.3" stroke-width="1.2" stroke-dasharray="1.4 0.5 0.7 0.8 2 0.4"/><line x1="100" y1="33.4" x2="109.4" y2="16.8" stroke="#b81010" stroke-opacity="0.3" stroke-width="1.2" stroke-dasharray="0.9 0.7 1.8 0.5 0.6 0.6"/><line x1="101.5" y1="40.1" x2="109.1" y2="25.9" stroke="#b81010" stroke-opacity="0.4" stroke-width="1.2" stroke-dasharray="1.4 0.5 0.7 0.8 2 0.4"/><line x1="102.3" y1="40.5" x2="109.9" y2="26.3" stroke="#b81010" stroke-opacity="0.3" stroke-width="1.2" stroke-dasharray="2.2 0.6 0.8 0.9 1.1 0.4"/><line x1="98" y1="14" x2="106.3" y2="2.1" stroke="#b81010" stroke-opacity="0.4" stroke-width="1.2" stroke-dasharray="2.2 0.6 0.8 0.9 1.1 0.4"/><line x1="98.8" y1="14.5" x2="107.1" y2="2.6" stroke="#b81010" stroke-opacity="0.4" stroke-width="1.2" stroke-dasharray="1.4 0.5 0.7 0.8 2 0.4"/><line x1="103.9" y1="40.1" x2="109.6" y2="30.6" stroke="#b81010" stroke-opacity="0.3" stroke-width="1.2" stroke-dasharray="0.9 0.7 1.8 0.5 0.6 0.6"/><line x1="104.7" y1="40.5" x2="110.4" y2="31.1" stroke="#b81010" stroke-opacity="0.4" stroke-width="1.2" stroke-dasharray="1.4 0.5 0.7 0.8 2 0.4"/><line x1="95.6" y1="30.6" x2="105.1" y2="14" stroke="#b81010" stroke-opacity="0.3" stroke-width="1.2" stroke-dasharray="0.9 0.7 1.8 0.5 0.6 0.6"/><line x1="96.4" y1="31" x2="105.9" y2="14.4" stroke="#b81010" stroke-opacity="0.4" stroke-width="1.2" stroke-dasharray="1.4 0.5 0.7 0.8 2 0.4"/></g></g><rect x="111.8" y="225.6" width="18.1" height="1.5" fill="#fff"/><text x="142.5" y="133.6" class="pl">E</text><text transform="translate(159.6,181) rotate(-90)" class="vl" text-anchor="middle" textLength="71.2" lengthAdjust="spacingAndGlyphs">STORM IMAGING</text><g transform="translate(163,125)" clip-path="url(#clip110)"><rect width="110.4" height="110" fill="#000"/><g filter="url(#blur2)"><path d="M0,0 L65,0 L68.8,35.6 L71.1,54.5 L85.3,75.9 L80,90 L75,106 L36,106 L30.8,94.8 L2.4,61.6 L0,60 Z" fill="#1c0000"/><path d="M94,0 L110,0 L110,46 L101,43 L95,25 Z" fill="#1c0000"/></g><path d="M8.5 23.5h0.8v0.8h-0.8zM33.3 99h0.8v0.8h-0.8zM54.6 79.2h0.8v0.8h-0.8zM104.9 22.2h0.8v0.8h-0.8zM9 13.3h0.8v0.8h-0.8zM107.6 12.3h0.8v0.8h-0.8zM38.8 18h0.8v0.8h-0.8zM64.6 25.2h0.8v0.8h-0.8zM52.4 89.4h0.8v0.8h-0.8zM10 6.9h0.8v0.8h-0.8zM33.2 42.3h0.8v0.8h-0.8zM54.1 105h0.8v0.8h-0.8zM40.2 9.1h0.8v0.8h-0.8zM64.3 53.1h0.8v0.8h-0.8zM12.6 35h0.8v0.8h-0.8zM107.5 27.2h0.8v0.8h-0.8zM56.1 82.7h0.8v0.8h-0.8zM19.6 9.6h0.8v0.8h-0.8zM70 57.2h0.8v0.8h-0.8zM22.7 21.7h0.8v0.8h-0.8zM17 62.9h0.8v0.8h-0.8zM52.1 58.9h0.8v0.8h-0.8zM57.6 53.9h0.8v0.8h-0.8zM52 2h0.8v0.8h-0.8zM43.3 94.7h0.8v0.8h-0.8zM67.9 38.3h0.8v0.8h-0.8zM108.9 20.5h0.8v0.8h-0.8zM69.9 48.5h0.8v0.8h-0.8zM45.2 11.3h0.8v0.8h-0.8zM21.8 51.1h0.8v0.8h-0.8zM61.8 9.3h0.8v0.8h-0.8zM56.9 76.8h0.8v0.8h-0.8zM49.2 20.9h0.8v0.8h-0.8zM46.9 55.9h0.8v0.8h-0.8zM29.6 39.6h0.8v0.8h-0.8zM9 4.5h0.8v0.8h-0.8zM6.8 20.9h0.8v0.8h-0.8zM9.7 18.1h0.8v0.8h-0.8zM21.3 25.7h0.8v0.8h-0.8zM22.8 1.3h0.8v0.8h-0.8zM21.4 48.4h0.8v0.8h-0.8zM22 76.9h0.8v0.8h-0.8zM16.2 57h0.8v0.8h-0.8zM65.6 64.3h0.8v0.8h-0.8zM61.8 84.9h0.8v0.8h-0.8zM46.4 23.9h0.8v0.8h-0.8zM49.9 11.7h0.8v0.8h-0.8zM32.4 50.2h0.8v0.8h-0.8zM7.6 61.4h0.8v0.8h-0.8zM41.8 19.5h0.8v0.8h-0.8zM67.4 26.9h0.8v0.8h-0.8zM30.1 84.6h0.8v0.8h-0.8zM23.9 80.7h0.8v0.8h-0.8zM71.5 98.8h0.8v0.8h-0.8zM41.8 53.7h0.8v0.8h-0.8zM31.7 56.4h0.8v0.8h-0.8zM35.8 10h0.8v0.8h-0.8zM39.4 100.2h0.8v0.8h-0.8zM51.6 92h0.8v0.8h-0.8zM48.1 67.9h0.8v0.8h-0.8zM82.3 74h0.8v0.8h-0.8zM57.5 39.4h0.8v0.8h-0.8zM67.3 34.5h0.8v0.8h-0.8zM57.1 1.3h0.8v0.8h-0.8zM65.5 8.5h0.8v0.8h-0.8zM56.6 40.3h0.8v0.8h-0.8zM22.9 67.3h0.8v0.8h-0.8zM44.4 23.7h0.8v0.8h-0.8zM17.8 39.7h0.8v0.8h-0.8zM41.3 91.3h0.8v0.8h-0.8zM68.8 87.9h0.8v0.8h-0.8zM19.7 13.7h0.8v0.8h-0.8zM96.9 8.5h0.8v0.8h-0.8zM29.3 75.3h0.8v0.8h-0.8zM58.3 18h0.8v0.8h-0.8zM32.4 78.8h0.8v0.8h-0.8zM44.5 67.2h0.8v0.8h-0.8zM53.5 95.6h0.8v0.8h-0.8zM37.3 27.1h0.8v0.8h-0.8zM38.7 50h0.8v0.8h-0.8zM38.8 8.8h0.8v0.8h-0.8zM43.8 61.3h0.8v0.8h-0.8zM56.8 46.9h0.8v0.8h-0.8zM51.6 49.1h0.8v0.8h-0.8zM43.5 51.5h0.8v0.8h-0.8zM37.5 85.5h0.8v0.8h-0.8zM72.9 84.3h0.8v0.8h-0.8zM27.6 52.2h0.8v0.8h-0.8zM0.5 9.1h0.8v0.8h-0.8zM36.1 65.4h0.8v0.8h-0.8zM9.9 14.8h0.8v0.8h-0.8zM13.5 28h0.8v0.8h-0.8zM38.7 45.4h0.8v0.8h-0.8zM38.8 13h0.8v0.8h-0.8zM46.5 13.6h0.8v0.8h-0.8zM43.6 23.5h0.8v0.8h-0.8zM34.9 55.7h0.8v0.8h-0.8zM32.8 37.2h0.8v0.8h-0.8zM65.6 20.9h0.8v0.8h-0.8zM57.3 89.6h0.8v0.8h-0.8zM13.4 69h0.8v0.8h-0.8zM62.4 38h0.8v0.8h-0.8zM106.1 17.8h0.8v0.8h-0.8zM60.4 10.7h0.8v0.8h-0.8zM29.5 10h0.8v0.8h-0.8zM50.1 35.4h0.8v0.8h-0.8zM9.4 67h0.8v0.8h-0.8zM28.3 30.1h0.8v0.8h-0.8zM29.3 5.2h0.8v0.8h-0.8zM25.1 83.7h0.8v0.8h-0.8zM11.4 34.4h0.8v0.8h-0.8zM19.7 18.2h0.8v0.8h-0.8zM74.5 75.6h0.8v0.8h-0.8zM35.4 78.2h0.8v0.8h-0.8zM53 92.9h0.8v0.8h-0.8zM107.7 16.2h0.8v0.8h-0.8zM21.1 36.7h0.8v0.8h-0.8zM28.4 46h0.8v0.8h-0.8zM1 11.5h0.8v0.8h-0.8zM69.2 78h0.8v0.8h-0.8zM5.3 18.9h0.8v0.8h-0.8zM49.6 72.9h0.8v0.8h-0.8zM29.6 63.2h0.8v0.8h-0.8zM62.5 99.4h0.8v0.8h-0.8zM55.5 38h0.8v0.8h-0.8zM14.4 9.1h0.8v0.8h-0.8zM99.8 12.3h0.8v0.8h-0.8zM46.7 46.2h0.8v0.8h-0.8zM18.4 16.6h0.8v0.8h-0.8zM48.3 35.4h0.8v0.8h-0.8zM11.6 46.8h0.8v0.8h-0.8zM15.1 1.2h0.8v0.8h-0.8zM98 20.1h0.8v0.8h-0.8zM70.9 78.6h0.8v0.8h-0.8zM109.7 18.8h0.8v0.8h-0.8zM55.9 43.2h0.8v0.8h-0.8zM47.4 80.6h0.8v0.8h-0.8zM30.9 70.2h0.8v0.8h-0.8zM33.4 37.7h0.8v0.8h-0.8zM75 90.8h0.8v0.8h-0.8zM10.9 34.7h0.8v0.8h-0.8zM66.1 71.8h0.8v0.8h-0.8zM59.8 56.5h0.8v0.8h-0.8zM55.4 85.5h0.8v0.8h-0.8zM66.9 43.4h0.8v0.8h-0.8zM50.6 87.6h0.8v0.8h-0.8zM18.3 28.3h0.8v0.8h-0.8zM55 1.6h0.8v0.8h-0.8zM8 8h0.8v0.8h-0.8zM46.3 32.9h0.8v0.8h-0.8zM53.5 84.3h0.8v0.8h-0.8zM80.1 74.5h0.8v0.8h-0.8zM27.5 39.7h0.8v0.8h-0.8zM45.1 54.6h0.8v0.8h-0.8zM19.6 13.4h0.8v0.8h-0.8zM57.9 5.1h0.8v0.8h-0.8zM46.2 14.5h0.8v0.8h-0.8zM77.6 79.7h0.8v0.8h-0.8zM34.3 15.9h0.8v0.8h-0.8zM29.1 9.3h0.8v0.8h-0.8zM11.1 26.2h0.8v0.8h-0.8zM24.8 33.4h0.8v0.8h-0.8zM41.4 103h0.8v0.8h-0.8zM12.5 46.7h0.8v0.8h-0.8zM43 56.9h0.8v0.8h-0.8zM55.8 80.2h0.8v0.8h-0.8zM30.2 40.2h0.8v0.8h-0.8zM55.8 32.2h0.8v0.8h-0.8zM65.9 26.5h0.8v0.8h-0.8zM53.8 41.4h0.8v0.8h-0.8zM27.9 63.7h0.8v0.8h-0.8zM38 7.3h0.8v0.8h-0.8zM51.6 9.8h0.8v0.8h-0.8zM4.8 58.9h0.8v0.8h-0.8zM28.3 1.3h0.8v0.8h-0.8zM61.9 11.9h0.8v0.8h-0.8zM66 77.7h0.8v0.8h-0.8zM108.1 4.9h0.8v0.8h-0.8zM21.9 77.8h0.8v0.8h-0.8zM58.8 54.6h0.8v0.8h-0.8zM25.1 53.3h0.8v0.8h-0.8zM16.4 24.3h0.8v0.8h-0.8zM20.9 36.6h0.8v0.8h-0.8zM54.5 69.8h0.8v0.8h-0.8zM62.3 102.3h0.8v0.8h-0.8zM36.4 97.9h0.8v0.8h-0.8zM61.6 100.3h0.8v0.8h-0.8zM56.8 11.1h0.8v0.8h-0.8zM71.7 96.7h0.8v0.8h-0.8zM101.6 35.5h0.8v0.8h-0.8zM45.1 20.3h0.8v0.8h-0.8zM46.7 54.3h0.8v0.8h-0.8zM60.2 67.8h0.8v0.8h-0.8zM19.8 32.5h0.8v0.8h-0.8zM101.9 25h0.8v0.8h-0.8zM9.1 36h0.8v0.8h-0.8zM49.8 39h0.8v0.8h-0.8zM33.5 13.5h0.8v0.8h-0.8zM104.3 43.8h0.8v0.8h-0.8zM54.8 49.2h0.8v0.8h-0.8zM38.7 46.3h0.8v0.8h-0.8zM44.5 47.2h0.8v0.8h-0.8zM53.1 101.9h0.8v0.8h-0.8zM43.1 39.8h0.8v0.8h-0.8zM23.4 67.5h0.8v0.8h-0.8zM23.7 5.9h0.8v0.8h-0.8zM56.8 2.2h0.8v0.8h-0.8zM45.7 74.5h0.8v0.8h-0.8zM106 20.8h0.8v0.8h-0.8zM41.7 78.9h0.8v0.8h-0.8zM50.1 43.3h0.8v0.8h-0.8zM16.2 48.9h0.8v0.8h-0.8zM32.3 72.4h0.8v0.8h-0.8zM82 74.7h0.8v0.8h-0.8zM60.7 8.4h0.8v0.8h-0.8zM71.2 77.4h0.8v0.8h-0.8zM47 91.1h0.8v0.8h-0.8zM6.1 63.4h0.8v0.8h-0.8zM56.7 46.1h0.8v0.8h-0.8zM98.7 25h0.8v0.8h-0.8zM31 90.5h0.8v0.8h-0.8zM18.2 35.3h0.8v0.8h-0.8zM109.9 29.6h0.8v0.8h-0.8zM55.7 3.5h0.8v0.8h-0.8zM33.9 85.4h0.8v0.8h-0.8zM45.9 99.3h0.8v0.8h-0.8zM108.9 34.9h0.8v0.8h-0.8zM57.9 78.4h0.8v0.8h-0.8zM51.3 21.8h0.8v0.8h-0.8zM7.5 32.4h0.8v0.8h-0.8zM23 15.5h0.8v0.8h-0.8zM75.7 85.4h0.8v0.8h-0.8zM11.8 46h0.8v0.8h-0.8zM8 28.5h0.8v0.8h-0.8zM69.5 74.3h0.8v0.8h-0.8zM48.1 84.1h0.8v0.8h-0.8zM38.2 35.6h0.8v0.8h-0.8zM102.3 14h0.8v0.8h-0.8zM36 58.8h0.8v0.8h-0.8zM18.6 78.4h0.8v0.8h-0.8zM36.7 60.8h0.8v0.8h-0.8zM37.6 38.5h0.8v0.8h-0.8zM18.9 73h0.8v0.8h-0.8zM43 8.5h0.8v0.8h-0.8zM60.8 37.5h0.8v0.8h-0.8zM34.4 47.4h0.8v0.8h-0.8zM41 29.1h0.8v0.8h-0.8zM54.7 31.6h0.8v0.8h-0.8zM36.8 36.7h0.8v0.8h-0.8zM50.4 11.3h0.8v0.8h-0.8zM28.3 6h0.8v0.8h-0.8zM2.9 13.5h0.8v0.8h-0.8zM12.7 21.6h0.8v0.8h-0.8zM62 77.7h0.8v0.8h-0.8zM59.9 63.5h0.8v0.8h-0.8zM63.8 57h0.8v0.8h-0.8zM67.4 58h0.8v0.8h-0.8zM9.4 56.8h0.8v0.8h-0.8zM65.9 33.9h0.8v0.8h-0.8zM75.9 79.2h0.8v0.8h-0.8zM61 93.4h0.8v0.8h-0.8zM23.8 61.9h0.8v0.8h-0.8zM97.9 10.3h0.8v0.8h-0.8zM29.1 44.2h0.8v0.8h-0.8zM33.4 38.9h0.8v0.8h-0.8zM28.4 10.6h0.8v0.8h-0.8zM6.4 58.7h0.8v0.8h-0.8zM4.3 21h0.8v0.8h-0.8zM60.3 60.3h0.8v0.8h-0.8zM78.7 66.9h0.8v0.8h-0.8zM34.9 11.1h0.8v0.8h-0.8zM52 57.3h0.8v0.8h-0.8zM45.8 73.7h0.8v0.8h-0.8zM1.3 9.6h0.8v0.8h-0.8zM44.4 26.4h0.8v0.8h-0.8zM43.8 71.4h0.8v0.8h-0.8zM57.5 56.4h0.8v0.8h-0.8zM34.9 98.2h0.8v0.8h-0.8zM60.7 102.9h0.8v0.8h-0.8zM28 80.3h0.8v0.8h-0.8zM22.9 4.5h0.8v0.8h-0.8zM51.9 49.1h0.8v0.8h-0.8zM57.3 70.7h0.8v0.8h-0.8zM27.7 58.7h0.8v0.8h-0.8zM43.1 98h0.8v0.8h-0.8zM23.2 1.1h0.8v0.8h-0.8zM52.8 39.8h0.8v0.8h-0.8zM65.4 7.9h0.8v0.8h-0.8zM108.4 17.8h0.8v0.8h-0.8zM24.8 13.9h0.8v0.8h-0.8z" fill="#e81212" fill-opacity="0.35"/><path d="M46.9 7.7h0.8v0.8h-0.8zM49 77.3h0.8v0.8h-0.8zM21.3 4h0.8v0.8h-0.8zM24.8 41.4h0.8v0.8h-0.8zM23.2 85.8h0.8v0.8h-0.8zM106.2 20.1h0.8v0.8h-0.8zM79.4 74.2h0.8v0.8h-0.8zM25.3 48.6h0.8v0.8h-0.8zM35 78.6h0.8v0.8h-0.8zM41.5 52h0.8v0.8h-0.8zM9.7 43h0.8v0.8h-0.8zM108.1 33.2h0.8v0.8h-0.8zM80.8 69.3h0.8v0.8h-0.8zM45.8 74.2h0.8v0.8h-0.8zM19.1 69h0.8v0.8h-0.8zM15.2 61.1h0.8v0.8h-0.8zM15.5 24.5h0.8v0.8h-0.8zM44.9 11.1h0.8v0.8h-0.8zM35.7 14.8h0.8v0.8h-0.8zM53.6 77.3h0.8v0.8h-0.8zM6.6 16.5h0.8v0.8h-0.8zM47.6 36.1h0.8v0.8h-0.8zM80.4 72.4h0.8v0.8h-0.8zM9.5 65.9h0.8v0.8h-0.8zM11.2 69.5h0.8v0.8h-0.8zM42.5 58.3h0.8v0.8h-0.8zM56 19.2h0.8v0.8h-0.8zM77.3 97h0.8v0.8h-0.8zM15.9 27.5h0.8v0.8h-0.8zM21.6 45.3h0.8v0.8h-0.8zM56.7 33.1h0.8v0.8h-0.8zM66.6 30.1h0.8v0.8h-0.8zM36 9.6h0.8v0.8h-0.8zM24 19.8h0.8v0.8h-0.8zM33.3 15.6h0.8v0.8h-0.8zM52.4 30.9h0.8v0.8h-0.8zM65 102.1h0.8v0.8h-0.8zM43 67.5h0.8v0.8h-0.8zM44.9 2.6h0.8v0.8h-0.8zM59.5 65.8h0.8v0.8h-0.8zM22.1 71.8h0.8v0.8h-0.8zM34.6 55.9h0.8v0.8h-0.8zM76 83.4h0.8v0.8h-0.8zM7.6 67h0.8v0.8h-0.8zM46.9 12h0.8v0.8h-0.8zM15.2 16.6h0.8v0.8h-0.8zM31.3 27.8h0.8v0.8h-0.8zM57.4 99.7h0.8v0.8h-0.8zM17.5 12h0.8v0.8h-0.8zM47.1 98.4h0.8v0.8h-0.8zM34.2 99.9h0.8v0.8h-0.8zM42.7 95.1h0.8v0.8h-0.8zM2.8 1h0.8v0.8h-0.8zM1.4 50.2h0.8v0.8h-0.8zM73.8 73.9h0.8v0.8h-0.8zM2.5 22.5h0.8v0.8h-0.8zM25.7 26.5h0.8v0.8h-0.8zM68 67.5h0.8v0.8h-0.8zM66 94.4h0.8v0.8h-0.8zM67.1 25.9h0.8v0.8h-0.8zM54.7 35.1h0.8v0.8h-0.8zM100.9 22h0.8v0.8h-0.8zM50.2 9.7h0.8v0.8h-0.8zM41.9 57.7h0.8v0.8h-0.8zM24.3 28.7h0.8v0.8h-0.8zM41.6 32.1h0.8v0.8h-0.8zM13.6 5.1h0.8v0.8h-0.8zM65.6 20.6h0.8v0.8h-0.8zM44.7 1.6h0.8v0.8h-0.8zM36.5 60.9h0.8v0.8h-0.8zM34 65.1h0.8v0.8h-0.8zM27.6 25.6h0.8v0.8h-0.8zM79 76.1h0.8v0.8h-0.8zM101.3 33.1h0.8v0.8h-0.8zM60.3 41.1h0.8v0.8h-0.8zM58.8 30.9h0.8v0.8h-0.8zM63.6 51.8h0.8v0.8h-0.8zM64.5 20.9h0.8v0.8h-0.8zM50.6 0.2h0.8v0.8h-0.8zM43 93.4h0.8v0.8h-0.8zM22.1 81.8h0.8v0.8h-0.8zM44.5 5.1h0.8v0.8h-0.8zM54.1 20.7h0.8v0.8h-0.8zM5 59.4h0.8v0.8h-0.8zM13.8 6.4h0.8v0.8h-0.8zM34.8 79.8h0.8v0.8h-0.8zM25.6 82.4h0.8v0.8h-0.8zM66.3 91.4h0.8v0.8h-0.8zM2.7 48.2h0.8v0.8h-0.8zM64.1 21.8h0.8v0.8h-0.8zM18.8 25.9h0.8v0.8h-0.8zM56.6 93.3h0.8v0.8h-0.8zM69.2 52.4h0.8v0.8h-0.8zM33.4 68.9h0.8v0.8h-0.8zM73.9 92.2h0.8v0.8h-0.8zM54.8 11.9h0.8v0.8h-0.8zM108.6 14.6h0.8v0.8h-0.8zM41.3 57.4h0.8v0.8h-0.8zM109.1 8.5h0.8v0.8h-0.8zM100.4 33.6h0.8v0.8h-0.8zM46.9 87.9h0.8v0.8h-0.8zM17.9 11h0.8v0.8h-0.8zM25 6h0.8v0.8h-0.8zM30.4 17.9h0.8v0.8h-0.8zM78.8 92.1h0.8v0.8h-0.8zM5.7 60h0.8v0.8h-0.8zM75.1 82.8h0.8v0.8h-0.8zM0.3 13.8h0.8v0.8h-0.8zM44.8 89.5h0.8v0.8h-0.8zM24 0.7h0.8v0.8h-0.8zM55.4 103.3h0.8v0.8h-0.8zM19.2 76.2h0.8v0.8h-0.8zM36.2 36.5h0.8v0.8h-0.8zM2.6 32.3h0.8v0.8h-0.8zM45.1 88.4h0.8v0.8h-0.8zM33.6 68.9h0.8v0.8h-0.8zM21.1 74.8h0.8v0.8h-0.8zM40.5 17h0.8v0.8h-0.8zM47.1 55.5h0.8v0.8h-0.8zM76.4 72.5h0.8v0.8h-0.8zM34.2 20.7h0.8v0.8h-0.8zM54.3 57.9h0.8v0.8h-0.8zM38.4 29.9h0.8v0.8h-0.8zM82.4 74.7h0.8v0.8h-0.8zM69.4 105.8h0.8v0.8h-0.8zM49.2 97.6h0.8v0.8h-0.8zM47 90.8h0.8v0.8h-0.8zM23.3 22h0.8v0.8h-0.8zM60.7 62h0.8v0.8h-0.8zM64.8 17.7h0.8v0.8h-0.8zM62.5 43.2h0.8v0.8h-0.8zM61.3 85.5h0.8v0.8h-0.8zM9.5 61.7h0.8v0.8h-0.8zM21.3 18.4h0.8v0.8h-0.8zM58.8 21.8h0.8v0.8h-0.8zM56.6 11.1h0.8v0.8h-0.8zM33.7 14h0.8v0.8h-0.8zM77.5 70.5h0.8v0.8h-0.8zM0.4 41h0.8v0.8h-0.8zM64 73.8h0.8v0.8h-0.8zM51.7 93.9h0.8v0.8h-0.8zM36.8 27.5h0.8v0.8h-0.8zM30.8 64.4h0.8v0.8h-0.8zM25.2 71.4h0.8v0.8h-0.8zM107.9 3.5h0.8v0.8h-0.8zM38.6 104.4h0.8v0.8h-0.8zM18.2 59.3h0.8v0.8h-0.8zM72 74.8h0.8v0.8h-0.8zM35.3 6.1h0.8v0.8h-0.8zM39.2 56.7h0.8v0.8h-0.8zM46.1 44.9h0.8v0.8h-0.8zM22 33.6h0.8v0.8h-0.8zM16 43h0.8v0.8h-0.8zM54.8 17.7h0.8v0.8h-0.8zM68.7 54.2h0.8v0.8h-0.8zM59.4 97.4h0.8v0.8h-0.8zM101.5 5.6h0.8v0.8h-0.8zM62.2 97.7h0.8v0.8h-0.8zM77.3 71.8h0.8v0.8h-0.8zM6.1 23.4h0.8v0.8h-0.8zM55.5 63.6h0.8v0.8h-0.8zM50.1 35.4h0.8v0.8h-0.8zM60.3 16.4h0.8v0.8h-0.8zM31.3 37.5h0.8v0.8h-0.8zM55 104.4h0.8v0.8h-0.8zM81.5 83.3h0.8v0.8h-0.8zM55 100.9h0.8v0.8h-0.8zM15.2 4.4h0.8v0.8h-0.8zM13.3 25.2h0.8v0.8h-0.8zM107.9 16.2h0.8v0.8h-0.8zM46.3 21.4h0.8v0.8h-0.8zM34.7 47.7h0.8v0.8h-0.8zM50.7 100.9h0.8v0.8h-0.8zM80.9 87h0.8v0.8h-0.8zM56.1 57.5h0.8v0.8h-0.8zM68 80.4h0.8v0.8h-0.8zM62.4 9.8h0.8v0.8h-0.8zM24.4 65.2h0.8v0.8h-0.8zM65 17h0.8v0.8h-0.8zM13.1 33.7h0.8v0.8h-0.8zM46.9 52h0.8v0.8h-0.8zM15.1 25.9h0.8v0.8h-0.8zM32.4 7.2h0.8v0.8h-0.8zM58 47.1h0.8v0.8h-0.8zM97.4 13.1h0.8v0.8h-0.8zM54.3 54h0.8v0.8h-0.8zM14.7 32.7h0.8v0.8h-0.8zM39.3 31.5h0.8v0.8h-0.8zM12.6 26.1h0.8v0.8h-0.8zM66.7 93.7h0.8v0.8h-0.8zM77.7 95h0.8v0.8h-0.8zM31.7 9.5h0.8v0.8h-0.8zM31.1 27.2h0.8v0.8h-0.8zM13.6 31.6h0.8v0.8h-0.8zM47.4 16.2h0.8v0.8h-0.8zM42.6 29h0.8v0.8h-0.8zM26 7h0.8v0.8h-0.8zM40.7 80.4h0.8v0.8h-0.8zM28.6 7.3h0.8v0.8h-0.8zM13.8 58.6h0.8v0.8h-0.8zM35.4 8.9h0.8v0.8h-0.8zM30.2 72.1h0.8v0.8h-0.8zM60.9 101.9h0.8v0.8h-0.8zM64.7 47.2h0.8v0.8h-0.8zM76.9 90.1h0.8v0.8h-0.8zM47 76.5h0.8v0.8h-0.8zM84.1 76.1h0.8v0.8h-0.8zM50.1 97h0.8v0.8h-0.8zM98.4 18h0.8v0.8h-0.8zM37.8 36.3h0.8v0.8h-0.8zM97.3 4.6h0.8v0.8h-0.8zM68.1 39.9h0.8v0.8h-0.8zM69 42.1h0.8v0.8h-0.8zM36.7 103.5h0.8v0.8h-0.8zM59.4 30.4h0.8v0.8h-0.8zM14.9 69.5h0.8v0.8h-0.8zM53.7 56h0.8v0.8h-0.8zM26.5 56.9h0.8v0.8h-0.8zM18.5 75.2h0.8v0.8h-0.8zM66 27.9h0.8v0.8h-0.8zM25.4 68.8h0.8v0.8h-0.8zM53.3 91.4h0.8v0.8h-0.8zM37.1 104.4h0.8v0.8h-0.8zM57.1 57.5h0.8v0.8h-0.8zM60 58.6h0.8v0.8h-0.8zM36.6 94.7h0.8v0.8h-0.8zM36.8 35h0.8v0.8h-0.8zM49.6 33.7h0.8v0.8h-0.8zM44 98.2h0.8v0.8h-0.8zM58.1 11.2h0.8v0.8h-0.8zM57.5 54.3h0.8v0.8h-0.8zM63.3 41.6h0.8v0.8h-0.8zM45.9 69.3h0.8v0.8h-0.8zM38.5 96.4h0.8v0.8h-0.8zM25 50.1h0.8v0.8h-0.8zM23.5 72.2h0.8v0.8h-0.8zM70.8 65.6h0.8v0.8h-0.8zM42.9 43.5h0.8v0.8h-0.8zM5 57.7h0.8v0.8h-0.8zM29 29.3h0.8v0.8h-0.8zM12.8 60.1h0.8v0.8h-0.8zM5.1 27.5h0.8v0.8h-0.8zM61.2 74.3h0.8v0.8h-0.8zM49 25.3h0.8v0.8h-0.8zM17.8 46.4h0.8v0.8h-0.8zM21 26.3h0.8v0.8h-0.8zM27.9 7.2h0.8v0.8h-0.8zM45.8 89.4h0.8v0.8h-0.8zM0.6 23.4h0.8v0.8h-0.8zM40.8 82.5h0.8v0.8h-0.8zM70.2 90.2h0.8v0.8h-0.8zM66.6 60.9h0.8v0.8h-0.8zM3.3 59.9h0.8v0.8h-0.8zM51.3 83.4h0.8v0.8h-0.8zM73.2 63.6h0.8v0.8h-0.8zM6.9 10.2h0.8v0.8h-0.8zM63.2 71.1h0.8v0.8h-0.8zM50.6 45.3h0.8v0.8h-0.8zM32.4 94.5h0.8v0.8h-0.8zM70.1 84h0.8v0.8h-0.8zM46.2 1.7h0.8v0.8h-0.8zM33.7 10.1h0.8v0.8h-0.8zM67.6 67.6h0.8v0.8h-0.8zM65.7 24.8h0.8v0.8h-0.8zM34.7 81.6h0.8v0.8h-0.8zM16.3 6.7h0.8v0.8h-0.8zM33.2 71h0.8v0.8h-0.8zM102.3 14.8h0.8v0.8h-0.8zM52.7 1.8h0.8v0.8h-0.8zM39.2 29.5h0.8v0.8h-0.8zM27 1.1h0.8v0.8h-0.8zM44.6 96.8h0.8v0.8h-0.8zM31.8 61.6h0.8v0.8h-0.8zM42.6 42.4h0.8v0.8h-0.8zM33.1 56.9h0.8v0.8h-0.8zM37.3 59.7h0.8v0.8h-0.8zM59.2 79.4h0.8v0.8h-0.8zM33.2 59.6h0.8v0.8h-0.8zM41 24.5h0.8v0.8h-0.8zM41.8 13h0.8v0.8h-0.8zM51.9 78.1h0.8v0.8h-0.8zM53.9 25.4h0.8v0.8h-0.8zM50.1 59.5h0.8v0.8h-0.8zM47.1 39.3h0.8v0.8h-0.8zM17.4 50.3h0.8v0.8h-0.8zM73.5 70.3h0.8v0.8h-0.8zM73.3 68h0.8v0.8h-0.8zM60.6 9.9h0.8v0.8h-0.8zM54.5 37.6h0.8v0.8h-0.8zM55 52.8h0.8v0.8h-0.8zM1.4 56.4h0.8v0.8h-0.8zM65.7 10.2h0.8v0.8h-0.8zM28.5 35.3h0.8v0.8h-0.8zM70.8 87h0.8v0.8h-0.8zM34.6 79.4h0.8v0.8h-0.8zM23.8 10.3h0.8v0.8h-0.8zM66.3 82.4h0.8v0.8h-0.8zM15.3 29h0.8v0.8h-0.8zM14 28.3h0.8v0.8h-0.8zM42.1 65.1h0.8v0.8h-0.8zM6.5 28.6h0.8v0.8h-0.8zM44.5 15.2h0.8v0.8h-0.8z" fill="#e81212" fill-opacity="0.6"/><path d="M11 56h0.8v0.8h-0.8zM40.8 0.1h0.8v0.8h-0.8zM17.5 2.2h0.8v0.8h-0.8zM5.4 4.2h0.8v0.8h-0.8zM63.3 84.7h0.8v0.8h-0.8zM36.2 26.8h0.8v0.8h-0.8zM57.8 56h0.8v0.8h-0.8zM66.5 90.4h0.8v0.8h-0.8zM27.3 0.1h0.8v0.8h-0.8zM50.2 9.2h0.8v0.8h-0.8zM35 18.3h0.8v0.8h-0.8zM49.6 99.5h0.8v0.8h-0.8zM27.9 60.4h0.8v0.8h-0.8zM14.2 9.2h0.8v0.8h-0.8zM55.3 7.2h0.8v0.8h-0.8zM55.8 20.4h0.8v0.8h-0.8zM40.2 2.4h0.8v0.8h-0.8zM14.1 30.2h0.8v0.8h-0.8zM13.6 58.4h0.8v0.8h-0.8zM49.2 16.4h0.8v0.8h-0.8zM62.4 8.2h0.8v0.8h-0.8zM99.8 38.5h0.8v0.8h-0.8zM11.5 38.3h0.8v0.8h-0.8zM66.2 86.6h0.8v0.8h-0.8zM66.1 73.3h0.8v0.8h-0.8zM63.2 1.7h0.8v0.8h-0.8zM60.1 30.3h0.8v0.8h-0.8zM8 67.4h0.8v0.8h-0.8zM73.7 68.8h0.8v0.8h-0.8zM75 95.9h0.8v0.8h-0.8zM103.2 8.4h0.8v0.8h-0.8zM44.5 84.2h0.8v0.8h-0.8zM8.7 17.7h0.8v0.8h-0.8zM18.4 14.2h0.8v0.8h-0.8zM49.2 60.1h0.8v0.8h-0.8zM61.3 103.6h0.8v0.8h-0.8zM23.1 26.4h0.8v0.8h-0.8zM3.3 30.3h0.8v0.8h-0.8zM49.5 91.6h0.8v0.8h-0.8zM23.9 4.8h0.8v0.8h-0.8zM5.4 37.9h0.8v0.8h-0.8zM8.4 29.7h0.8v0.8h-0.8zM46 103.1h0.8v0.8h-0.8zM66.4 105.9h0.8v0.8h-0.8zM51.5 87.3h0.8v0.8h-0.8zM59 46.4h0.8v0.8h-0.8zM52.9 60.4h0.8v0.8h-0.8zM33.9 43.8h0.8v0.8h-0.8zM61.3 88.6h0.8v0.8h-0.8zM55.2 61h0.8v0.8h-0.8zM36.8 6.7h0.8v0.8h-0.8zM28 70.5h0.8v0.8h-0.8zM48.2 59.6h0.8v0.8h-0.8zM24.8 77.6h0.8v0.8h-0.8zM39.5 80.8h0.8v0.8h-0.8zM46.1 75.8h0.8v0.8h-0.8zM21.6 45.5h0.8v0.8h-0.8zM4.1 47h0.8v0.8h-0.8zM68 48.8h0.8v0.8h-0.8zM74.4 78.1h0.8v0.8h-0.8zM25.5 85.9h0.8v0.8h-0.8zM47.4 6.4h0.8v0.8h-0.8zM57.7 89.9h0.8v0.8h-0.8zM65.3 31.8h0.8v0.8h-0.8zM15.6 62.6h0.8v0.8h-0.8zM37.3 16.3h0.8v0.8h-0.8zM68.4 91.7h0.8v0.8h-0.8zM24.3 84h0.8v0.8h-0.8zM26.1 9h0.8v0.8h-0.8zM54.2 87.8h0.8v0.8h-0.8zM5.7 45.7h0.8v0.8h-0.8zM66.7 35.5h0.8v0.8h-0.8zM28.9 58.9h0.8v0.8h-0.8zM8.9 36.4h0.8v0.8h-0.8zM104.1 26.1h0.8v0.8h-0.8zM26.4 17.3h0.8v0.8h-0.8zM71.3 104.3h0.8v0.8h-0.8zM62.9 36.8h0.8v0.8h-0.8zM41.7 25.9h0.8v0.8h-0.8zM22 5.8h0.8v0.8h-0.8zM66.4 14.1h0.8v0.8h-0.8zM40.2 29.9h0.8v0.8h-0.8zM55.1 38.9h0.8v0.8h-0.8zM51.7 2.1h0.8v0.8h-0.8zM55.7 24.1h0.8v0.8h-0.8zM43.1 12.1h0.8v0.8h-0.8zM9 40h0.8v0.8h-0.8zM34.4 27.9h0.8v0.8h-0.8zM48.7 17.3h0.8v0.8h-0.8zM74.2 74.7h0.8v0.8h-0.8zM54.6 25.5h0.8v0.8h-0.8zM64.3 73.5h0.8v0.8h-0.8zM79.7 87.1h0.8v0.8h-0.8zM60.7 26.9h0.8v0.8h-0.8zM109.2 13h0.8v0.8h-0.8zM23.2 52.1h0.8v0.8h-0.8zM100.2 31.7h0.8v0.8h-0.8zM56.6 45.5h0.8v0.8h-0.8zM32 38.5h0.8v0.8h-0.8zM26.8 83.7h0.8v0.8h-0.8zM52.3 28.8h0.8v0.8h-0.8zM68.6 56.2h0.8v0.8h-0.8zM1 2.6h0.8v0.8h-0.8zM4.1 25.7h0.8v0.8h-0.8zM15.3 27.9h0.8v0.8h-0.8zM25.2 38.5h0.8v0.8h-0.8zM40.9 75h0.8v0.8h-0.8zM20.8 24.1h0.8v0.8h-0.8zM13 62.8h0.8v0.8h-0.8zM48.5 41.6h0.8v0.8h-0.8zM30.5 51.7h0.8v0.8h-0.8zM60.2 47.1h0.8v0.8h-0.8zM7.6 36.8h0.8v0.8h-0.8zM33.2 59.3h0.8v0.8h-0.8zM68.8 36.4h0.8v0.8h-0.8zM58.5 12h0.8v0.8h-0.8zM102.4 32.4h0.8v0.8h-0.8zM58.1 22.6h0.8v0.8h-0.8zM33.2 64h0.8v0.8h-0.8zM64.5 45.2h0.8v0.8h-0.8zM11.3 2.4h0.8v0.8h-0.8zM29.6 60.1h0.8v0.8h-0.8zM16.3 76.3h0.8v0.8h-0.8zM108.4 10.4h0.8v0.8h-0.8zM56.7 72.4h0.8v0.8h-0.8zM55.1 102.2h0.8v0.8h-0.8zM42.3 54.1h0.8v0.8h-0.8zM108.8 5.7h0.8v0.8h-0.8zM103.2 2h0.8v0.8h-0.8zM20 80.9h0.8v0.8h-0.8zM70.5 77.8h0.8v0.8h-0.8zM43.6 16.1h0.8v0.8h-0.8zM30.9 72.7h0.8v0.8h-0.8zM54.2 17.5h0.8v0.8h-0.8zM29.1 73.4h0.8v0.8h-0.8zM68.4 68.9h0.8v0.8h-0.8zM34 42.5h0.8v0.8h-0.8zM36.7 26.9h0.8v0.8h-0.8zM41.1 15.7h0.8v0.8h-0.8zM11.7 7.1h0.8v0.8h-0.8zM40.8 40h0.8v0.8h-0.8zM39.1 0.3h0.8v0.8h-0.8zM27.2 78h0.8v0.8h-0.8zM14.9 12.4h0.8v0.8h-0.8zM38.3 32.5h0.8v0.8h-0.8zM56.6 85.9h0.8v0.8h-0.8zM58.1 46.9h0.8v0.8h-0.8zM106.6 43.6h0.8v0.8h-0.8zM52.5 104.3h0.8v0.8h-0.8zM32 24.5h0.8v0.8h-0.8zM58.4 105.2h0.8v0.8h-0.8zM54.2 27.3h0.8v0.8h-0.8zM32.9 12.4h0.8v0.8h-0.8zM72.6 58.2h0.8v0.8h-0.8zM27.3 69h0.8v0.8h-0.8zM31.6 95.9h0.8v0.8h-0.8zM37.6 49.1h0.8v0.8h-0.8zM32.5 42.3h0.8v0.8h-0.8zM31.4 70.9h0.8v0.8h-0.8zM34.5 62h0.8v0.8h-0.8zM104.2 22.5h0.8v0.8h-0.8zM12.3 66.9h0.8v0.8h-0.8zM10.4 21.3h0.8v0.8h-0.8zM8.3 46.5h0.8v0.8h-0.8zM54.1 87.2h0.8v0.8h-0.8zM52.2 104.3h0.8v0.8h-0.8zM5.6 3.6h0.8v0.8h-0.8zM17.6 62.7h0.8v0.8h-0.8zM7.2 41.3h0.8v0.8h-0.8zM46.3 81h0.8v0.8h-0.8zM23.7 60.3h0.8v0.8h-0.8zM47.6 62.4h0.8v0.8h-0.8zM7.7 24.4h0.8v0.8h-0.8zM57.6 39h0.8v0.8h-0.8zM61.3 31.4h0.8v0.8h-0.8zM27.9 9.9h0.8v0.8h-0.8zM69.1 48.4h0.8v0.8h-0.8zM53.5 0.9h0.8v0.8h-0.8zM17.1 2h0.8v0.8h-0.8zM39 96.1h0.8v0.8h-0.8zM51.1 25.3h0.8v0.8h-0.8zM66.4 105.5h0.8v0.8h-0.8zM72.5 102.8h0.8v0.8h-0.8zM65.3 83.6h0.8v0.8h-0.8zM55.8 90.6h0.8v0.8h-0.8zM21 18.2h0.8v0.8h-0.8zM19.6 18.2h0.8v0.8h-0.8zM62.4 65.5h0.8v0.8h-0.8zM47.6 50.3h0.8v0.8h-0.8zM60.3 54.7h0.8v0.8h-0.8zM67.5 77.8h0.8v0.8h-0.8zM17.9 77h0.8v0.8h-0.8zM28.7 18.5h0.8v0.8h-0.8zM20.4 66.9h0.8v0.8h-0.8zM23.4 82.3h0.8v0.8h-0.8zM40.4 30.1h0.8v0.8h-0.8zM64.7 88.2h0.8v0.8h-0.8zM104.5 20h0.8v0.8h-0.8zM46.8 0.4h0.8v0.8h-0.8zM44.2 0.4h0.8v0.8h-0.8zM15.2 42.2h0.8v0.8h-0.8zM30.1 11.2h0.8v0.8h-0.8zM40.7 43.9h0.8v0.8h-0.8zM30.1 38.7h0.8v0.8h-0.8zM79.8 87.9h0.8v0.8h-0.8zM26.3 46.6h0.8v0.8h-0.8zM12.5 36h0.8v0.8h-0.8zM43.1 15.2h0.8v0.8h-0.8zM62.1 99.6h0.8v0.8h-0.8zM58.8 97.8h0.8v0.8h-0.8zM40.4 51h0.8v0.8h-0.8zM24.7 22.2h0.8v0.8h-0.8zM5.9 21h0.8v0.8h-0.8zM33.5 40.9h0.8v0.8h-0.8zM32.4 90.9h0.8v0.8h-0.8zM42.9 105.3h0.8v0.8h-0.8zM47.3 100.1h0.8v0.8h-0.8zM31.6 95.1h0.8v0.8h-0.8zM69.3 98h0.8v0.8h-0.8zM21.9 1h0.8v0.8h-0.8zM10.6 67.7h0.8v0.8h-0.8zM56.2 42.1h0.8v0.8h-0.8zM54.6 98.7h0.8v0.8h-0.8zM28.4 50.4h0.8v0.8h-0.8zM7.5 10.1h0.8v0.8h-0.8zM52.6 86.5h0.8v0.8h-0.8zM57 34.9h0.8v0.8h-0.8zM4.8 14h0.8v0.8h-0.8zM16.8 69.3h0.8v0.8h-0.8zM5.9 40.2h0.8v0.8h-0.8zM3.9 40.4h0.8v0.8h-0.8zM19.3 51h0.8v0.8h-0.8zM49 39.5h0.8v0.8h-0.8zM79.1 69.9h0.8v0.8h-0.8zM42.6 30.7h0.8v0.8h-0.8zM29.9 54.8h0.8v0.8h-0.8zM6.8 35.9h0.8v0.8h-0.8zM30.4 1.6h0.8v0.8h-0.8zM55.5 41h0.8v0.8h-0.8zM73.2 61.8h0.8v0.8h-0.8zM110 42.5h0.8v0.8h-0.8zM59.2 49h0.8v0.8h-0.8zM53.1 52.9h0.8v0.8h-0.8zM48.7 21.3h0.8v0.8h-0.8zM48.1 103.4h0.8v0.8h-0.8zM16.7 50h0.8v0.8h-0.8zM58.9 82.3h0.8v0.8h-0.8zM50.8 37.4h0.8v0.8h-0.8zM66.7 70.8h0.8v0.8h-0.8zM62 7.1h0.8v0.8h-0.8zM37.2 18.6h0.8v0.8h-0.8zM52.5 2h0.8v0.8h-0.8zM57.7 39.2h0.8v0.8h-0.8zM46.1 92.2h0.8v0.8h-0.8zM7.6 6.3h0.8v0.8h-0.8zM7 26.4h0.8v0.8h-0.8zM10.6 69.7h0.8v0.8h-0.8zM98.6 28.9h0.8v0.8h-0.8zM74 72h0.8v0.8h-0.8zM67.5 36.3h0.8v0.8h-0.8zM60.7 7.1h0.8v0.8h-0.8zM47.1 92.1h0.8v0.8h-0.8zM101.2 29.1h0.8v0.8h-0.8zM38.6 39.6h0.8v0.8h-0.8zM7.1 33.3h0.8v0.8h-0.8zM28 62.4h0.8v0.8h-0.8zM66.7 81.8h0.8v0.8h-0.8zM26.3 9.5h0.8v0.8h-0.8zM55.4 1.3h0.8v0.8h-0.8zM19.9 46.3h0.8v0.8h-0.8zM99.2 1.1h0.8v0.8h-0.8zM42.4 14.8h0.8v0.8h-0.8zM31.6 32h0.8v0.8h-0.8zM2.3 13.5h0.8v0.8h-0.8zM57.1 41.8h0.8v0.8h-0.8zM7.3 39.4h0.8v0.8h-0.8zM82.1 73.2h0.8v0.8h-0.8zM28.5 40.2h0.8v0.8h-0.8zM47.4 1.8h0.8v0.8h-0.8zM108 18.7h0.8v0.8h-0.8zM42.2 47.7h0.8v0.8h-0.8zM31.3 84.7h0.8v0.8h-0.8zM46.9 60.9h0.8v0.8h-0.8zM1.8 1.2h0.8v0.8h-0.8zM40.3 15.3h0.8v0.8h-0.8zM67.2 95h0.8v0.8h-0.8zM32 86.5h0.8v0.8h-0.8zM52.4 12h0.8v0.8h-0.8zM32 78.4h0.8v0.8h-0.8zM108.4 9.3h0.8v0.8h-0.8zM31.9 57.6h0.8v0.8h-0.8zM61.7 21.8h0.8v0.8h-0.8zM34.9 74.3h0.8v0.8h-0.8zM40.8 69.6h0.8v0.8h-0.8zM106.3 4.2h0.8v0.8h-0.8zM55 11.7h0.8v0.8h-0.8zM20.9 42.3h0.8v0.8h-0.8zM30.4 48.3h0.8v0.8h-0.8zM49.1 82.5h0.8v0.8h-0.8zM71.9 80.8h0.8v0.8h-0.8zM44.2 83h0.8v0.8h-0.8zM18.4 62.9h0.8v0.8h-0.8zM71.4 55.5h0.8v0.8h-0.8zM31.9 28.7h0.8v0.8h-0.8zM16.6 68.3h0.8v0.8h-0.8zM40.2 101.9h0.8v0.8h-0.8zM47.5 54.7h0.8v0.8h-0.8zM70.6 86.7h0.8v0.8h-0.8z" fill="#e81212" fill-opacity="0.95"/><path d="M101 20.1L103.1 18M56 83.4L58.1 87.2M57.4 52.6L59.4 55.9M81.3 74.3L81.9 76.4M99.6 35.9L101.9 33.5M59.1 53.6L59.8 56.5M65.5 66.7L67.5 69.7M102.8 44.8L105 42.4M32.1 60.1L33.2 64.8M7.4 64.7L9.1 68.9M102.1 20.1L105.3 16.3M51.6 52.4L52.9 57.9M42.6 95.6L44.5 98.1" stroke="#ff1a1a" stroke-opacity="0.5" stroke-width="0.75" fill="none" stroke-linecap="round"/><path d="M7.8 58L9.5 62.1M61.3 97.1L63.1 100.2M43.4 69.7L46.6 74.8M64.2 58.5L66 62.5M17.9 70.3L19.3 72.9M77.5 66.3L78.1 68.5M37.3 43.5L38.8 46.7M17 74.7L18 78M71.6 92.6L73.6 96.9M23.7 83L25.7 88.5M42.4 86.9L44.2 89.4M12.4 49.7L14.6 54.5M61.6 48.5L64.3 52.6M95.8 9L98.6 4.9M57.6 60.1L58.8 62M99.1 9.4L101.6 6.6" stroke="#ff1a1a" stroke-opacity="0.8" stroke-width="0.75" fill="none" stroke-linecap="round"/><path d="M50.1 97L52.1 100.5M107.4 20.5L109.4 17.2M101.8 35.3L104 32.1M103 35.3L105.1 32.3M18.2 78.5L19.9 82.5M62.3 91.1L63.3 93.1M24.3 76.3L27.3 80.6M30.5 65.3L31.5 67.2M102.2 39.2L103.9 37.1M77.6 82L79.2 83.9M15.2 75.1L15.9 78.4M107.6 35.8L110.5 32M39.6 58.9L41.1 63.3M69.8 57.8L73.3 62.2M51.1 80.9L53.1 83.6M46.6 89.1L49.2 92.2" stroke="#ff1a1a" stroke-opacity="1" stroke-width="0.75" fill="none" stroke-linecap="round"/><path d="M62.9 5.2L63.1 9M51.5 24.1L53 27.5M50.7 20.2L51.3 23.5M51.6 24L52.3 28M44.3 22.7L46.2 25.9M35.4 33.5L37 31.2M37.4 30.8L39.3 27.9M12.8 51.1L15.1 53.5M15.7 54L16.4 54.7M13.2 48.5L15.8 51.5M15.7 52.1L18.8 55.8M7.2 47.4L10.3 51.2M45.1 40.3L46.2 44.5M51.9 47.4L52.8 52.7M53 53.7L53.5 56.9M48.4 47.5L49 50.6M14.1 65.3L17.2 68.8M18 69.7L20.2 72.2M19.9 80.6L23.2 85M27.5 90.2L30.9 94.8M26.7 84.2L28.7 88.2M39 74.6L39.7 77.6M40 78.2L40.8 81.4M41 82.1L41.8 85.3M40.3 80.6L41 83.6M49.5 89.6L49.6 90.1M49.5 80.6L50.3 85.8M51.3 92.4L51.8 95.7M52.2 97L52.6 99.6M57 68.7L58.4 74.4M58.8 75.2L59.7 78.6M59 85.9L60.1 91.4M61.1 95.8L61.3 97.2M68.9 77.5L69.1 78.1M67.1 74.9L68.4 80M68.8 59.2L70.7 61.1M71.3 62.2L74.4 65.3M78.3 69L82.2 72.9M77.9 68.3L80.3 71.3M35.5 92.5L36.4 95.4M55.6 99.1L56.3 101.8M56.1 102.7L56.6 104.4M28.4 61.7L30 66M30.5 66.8L31.4 69.2M36.3 62.5L37.4 66.9M24.6 95.4L26.2 99.4M70.2 97L71.4 99.4" stroke="#ff1c1c" stroke-opacity="0.7" stroke-width="1.15" fill="none" stroke-linecap="round"/><path d="M62.9 -0L63.1 4.3M49.3 24.6L50.9 27.8M51 28.2L51.1 28.4M48.3 17.9L50.7 23.3M52.3 29.3L52.4 29.7M47.1 26.4L48.8 29.5M32.6 33.1L34.9 29.9M7 47.2L10.7 50.9M9.3 47.6L12.5 50.8M10.4 51.9L11.7 53.5M48.2 52.5L48.7 54.5M42.6 46.2L44.2 50.9M44.2 51.9L45.9 57M51.2 42.6L51.9 46.9M56.5 58.8L57 61.6M50.2 56.7L50.7 59.3M11.7 67L16.4 70.5M21.1 72.5L23.4 75.2M23.6 85.4L27 89.9M23.5 78.3L26.2 83.5M30.9 78.2L31.8 81.2M35 93.2L35.5 94.9M48.2 79.9L48.9 84.6M48.8 85.7L49.4 89.1M60.4 92.5L60.9 95M67.5 73.4L68.6 76.8M71.4 59.1L74.4 62.9M45 94.8L46.1 98.9M37.9 67.4L38.3 68.7M22.3 90.2L24.1 95.1M67.3 92.6L69.3 96.5" stroke="#ff1c1c" stroke-opacity="0.8" stroke-width="1.15" fill="none" stroke-linecap="round"/><path d="M63.2 9.6L63.4 13M46.4 18.9L48.9 24M35.7 29.6L37.7 26.7M4.7 45.1L6.5 46.9M46.5 45.5L47.9 51.2M56 54.5L56.5 57.5M49.2 51.2L50.2 56.2M8.5 63.8L11.7 66.2M17.4 70.5L17.9 70.9M18 71L20 73.3M20.4 74L23 77M23.6 77.3L26.3 80.4M16.6 75.8L19.7 80M29 89L29.5 90.1M32 81.9L32.8 84.5M32.9 85.2L33.7 88.1M33.9 88.5L35 92.5M37.8 71.2L38.5 74M41.1 84.3L42.3 89.1M42.4 90.1L43.4 94.2M47.5 75.9L48 78.8M50.9 86.8L51.6 91.5M59.3 79.3L60.3 83M58.4 80.5L59.2 85.1M63.8 64.1L65.5 69.1M65.9 69.7L66.8 72.4M66.2 71.2L66.8 73.7M68.8 81L70.1 86.1M70.4 87L71 89.6M75 65.9L77.6 68.6M83 73.8L85.2 76M74.7 63.5L77.9 67.5M36.6 96.4L37.6 99.5M38 99.8L38.9 102.7M38.6 103.5L38.8 104.4M46.1 99.5L47.2 104.1M54.3 94.9L55.3 98.7M61.6 94.9L62.8 98.7M63 99.4L63.8 102M31.5 69.6L32.1 71.1M35.7 59.2L36.3 61.7" stroke="#ff1c1c" stroke-opacity="1" stroke-width="1.15" fill="none" stroke-linecap="round"/><path d="M95 21.5L97.2 17.8M102.5 17.6L105.3 13.3M102 40.4L104.6 35.6M107.9 29.9L109.8 26.3M93.5 14.2L95.5 11.4M102 8.8L104.6 5.1M103 19.1L104.5 16.4M104.8 16L105.7 14.4" stroke="#ff1c1c" stroke-opacity="0.6" stroke-width="0.8" fill="none" stroke-linecap="round"/><path d="M96.9 17.1L98.8 13.8M101.5 9.2L102.8 6.9M103.3 6.4L104.3 4.7M97 26L100.1 21.2M100.9 20.8L102.5 18.2M106.1 12.8L107.8 10.1M99.8 33.3L101.9 29.8M107.2 19.4L108.8 16.5M96 11L98.6 7.2M101.1 3.5L101.9 2.3M104.1 40.2L106.7 35.8M109.5 31.3L109.9 30.7M96.3 31L98.4 27.2M98.4 26.7L100.7 22.7" stroke="#ff1c1c" stroke-opacity="0.8" stroke-width="0.8" fill="none" stroke-linecap="round"/><path d="M99.4 13L101 10.3M101.9 28.7L103.7 25.6M104.5 24.7L107 20.3M104.9 34.7L107.2 30.5M99.1 7L101 4.2M98.5 14.3L101.8 9.4M105.3 4.2L106.6 2.3M107.2 35.6L109.3 32.1M101 21.9L102.4 19.5" stroke="#ff1c1c" stroke-opacity="1" stroke-width="0.8" fill="none" stroke-linecap="round"/></g><rect x="192.4" y="149" width="11.6" height="11.6" fill="none" stroke="#ddd" stroke-width="1"/><rect x="249.8" y="225.6" width="17.6" height="1.5" fill="#fff"/><text x="281.3" y="133.6" class="pl">F</text><text transform="translate(297.7,181) rotate(-90)" class="vl" text-anchor="middle" textLength="76.5" lengthAdjust="spacingAndGlyphs">CLUSTER ANALYSIS</text><g transform="translate(301.7,125)" clip-path="url(#clip110)"><rect width="110.4" height="110" fill="#000"/><path d="M20.4 12.1h0.8v0.8h-0.8zM22.3 21.2h0.8v0.8h-0.8zM54.4 67.3h0.8v0.8h-0.8zM43.7 88.3h0.8v0.8h-0.8zM45.5 100.8h0.8v0.8h-0.8zM4.4 2.3h0.8v0.8h-0.8zM60.2 30.8h0.8v0.8h-0.8zM9.2 24.3h0.8v0.8h-0.8zM50.9 63.8h0.8v0.8h-0.8zM104.5 24.1h0.8v0.8h-0.8zM67.2 26.1h0.8v0.8h-0.8zM23.8 24.7h0.8v0.8h-0.8zM105.7 36.2h0.8v0.8h-0.8zM8.9 66.8h0.8v0.8h-0.8zM65.7 46.2h0.8v0.8h-0.8zM30 75.3h0.8v0.8h-0.8zM49.7 81.2h0.8v0.8h-0.8zM61.8 89h0.8v0.8h-0.8zM62 70.8h0.8v0.8h-0.8zM32.6 44.4h0.8v0.8h-0.8zM65 91h0.8v0.8h-0.8zM49.8 93.1h0.8v0.8h-0.8zM99 13.4h0.8v0.8h-0.8zM109.4 10.7h0.8v0.8h-0.8zM67.6 45.6h0.8v0.8h-0.8zM59.6 76.8h0.8v0.8h-0.8zM37.7 19.2h0.8v0.8h-0.8z" fill="#20e0ff" fill-opacity="0.4"/><path d="M96 1.6h0.8v0.8h-0.8zM14.9 57.5h0.8v0.8h-0.8zM42.1 64.6h0.8v0.8h-0.8zM56.2 39.2h0.8v0.8h-0.8zM22.1 38.6h0.8v0.8h-0.8zM109 17.7h0.8v0.8h-0.8zM52.7 3.2h0.8v0.8h-0.8zM100.1 15.4h0.8v0.8h-0.8zM28.6 59.5h0.8v0.8h-0.8zM11.9 70.8h0.8v0.8h-0.8zM54.6 29.2h0.8v0.8h-0.8zM27.4 73.4h0.8v0.8h-0.8zM38 37.8h0.8v0.8h-0.8zM22.3 41h0.8v0.8h-0.8zM101 16.8h0.8v0.8h-0.8zM49.6 12.5h0.8v0.8h-0.8zM19.7 61.5h0.8v0.8h-0.8zM52.7 9.4h0.8v0.8h-0.8zM71 84.8h0.8v0.8h-0.8zM72.7 90.9h0.8v0.8h-0.8zM1.8 55.4h0.8v0.8h-0.8zM35.2 49.5h0.8v0.8h-0.8zM51.8 26.4h0.8v0.8h-0.8zM48.3 58.7h0.8v0.8h-0.8z" fill="#20e0ff" fill-opacity="0.7"/><path d="M31.3 23.5h0.8v0.8h-0.8zM71 105.2h0.8v0.8h-0.8zM3.6 18h0.8v0.8h-0.8zM60.5 81.2h0.8v0.8h-0.8zM37.1 79.6h0.8v0.8h-0.8zM68.3 96.4h0.8v0.8h-0.8zM36.6 78.4h0.8v0.8h-0.8zM59.9 0.6h0.8v0.8h-0.8zM7.3 44.4h0.8v0.8h-0.8zM55.7 38.1h0.8v0.8h-0.8zM66.7 102h0.8v0.8h-0.8zM97.7 24.8h0.8v0.8h-0.8zM15.9 29.5h0.8v0.8h-0.8zM24 6h0.8v0.8h-0.8zM25.6 3.6h0.8v0.8h-0.8zM65.7 46.3h0.8v0.8h-0.8zM21.4 28.7h0.8v0.8h-0.8zM39 15.3h0.8v0.8h-0.8zM46.8 94.2h0.8v0.8h-0.8zM31.7 38.3h0.8v0.8h-0.8z" fill="#20ff20" fill-opacity="0.4"/><path d="M71.7 98h0.8v0.8h-0.8zM26.7 30h0.8v0.8h-0.8zM21.1 51h0.8v0.8h-0.8zM64.9 50.1h0.8v0.8h-0.8zM32.1 92.5h0.8v0.8h-0.8zM56.5 71.1h0.8v0.8h-0.8zM2.3 41.7h0.8v0.8h-0.8zM66.4 17.2h0.8v0.8h-0.8zM53.2 61.1h0.8v0.8h-0.8zM25.5 52.1h0.8v0.8h-0.8zM34.5 77.3h0.8v0.8h-0.8zM101.8 42.4h0.8v0.8h-0.8zM104.4 27.8h0.8v0.8h-0.8z" fill="#20ff20" fill-opacity="0.7"/><path d="M52.9 41.7h0.8v0.8h-0.8zM49.5 22.2h0.8v0.8h-0.8zM103.5 19.1h0.8v0.8h-0.8zM14.6 47.3h0.8v0.8h-0.8zM69.3 103.6h0.8v0.8h-0.8zM40.7 27h0.8v0.8h-0.8zM53.6 94.2h0.8v0.8h-0.8zM50.1 6.6h0.8v0.8h-0.8zM67 62.3h0.8v0.8h-0.8zM33.5 73.6h0.8v0.8h-0.8zM50.4 67.5h0.8v0.8h-0.8zM60.2 83.8h0.8v0.8h-0.8zM28.2 78.9h0.8v0.8h-0.8zM69.8 93.4h0.8v0.8h-0.8zM103.7 42.9h0.8v0.8h-0.8zM9 61.7h0.8v0.8h-0.8zM1.2 24.2h0.8v0.8h-0.8zM25.5 60h0.8v0.8h-0.8zM26 81.5h0.8v0.8h-0.8zM35.5 56.5h0.8v0.8h-0.8z" fill="#3040ff" fill-opacity="0.4"/><path d="M13.6 35.4h0.8v0.8h-0.8zM33.5 43.4h0.8v0.8h-0.8zM25.8 73.5h0.8v0.8h-0.8zM58.9 64.2h0.8v0.8h-0.8zM22 70.3h0.8v0.8h-0.8zM28.2 40.1h0.8v0.8h-0.8zM72.6 83.1h0.8v0.8h-0.8zM105.1 37.1h0.8v0.8h-0.8zM38.7 94.5h0.8v0.8h-0.8zM2.6 16.7h0.8v0.8h-0.8zM57.7 103.2h0.8v0.8h-0.8zM11.2 10.2h0.8v0.8h-0.8zM106.2 6.6h0.8v0.8h-0.8zM63.4 28.7h0.8v0.8h-0.8zM47.3 99.2h0.8v0.8h-0.8zM45.7 93.3h0.8v0.8h-0.8zM22.8 33.8h0.8v0.8h-0.8zM68.9 44h0.8v0.8h-0.8zM50.4 39h0.8v0.8h-0.8zM73.5 79.1h0.8v0.8h-0.8zM74.1 85.7h0.8v0.8h-0.8zM19.5 22h0.8v0.8h-0.8zM64.8 86.8h0.8v0.8h-0.8zM32.3 40.4h0.8v0.8h-0.8z" fill="#3040ff" fill-opacity="0.7"/><path d="M4.7 17.5h0.8v0.8h-0.8zM4.6 26.1h0.8v0.8h-0.8zM42.2 52.4h0.8v0.8h-0.8zM19.3 46.7h0.8v0.8h-0.8zM41.6 68.1h0.8v0.8h-0.8zM40.8 22.6h0.8v0.8h-0.8zM57.7 33.4h0.8v0.8h-0.8zM60 49h0.8v0.8h-0.8zM17.5 28.4h0.8v0.8h-0.8zM63.2 105.3h0.8v0.8h-0.8zM107.3 8.3h0.8v0.8h-0.8zM72.6 92.6h0.8v0.8h-0.8zM66.2 19.2h0.8v0.8h-0.8zM54 45.5h0.8v0.8h-0.8zM70.8 88.4h0.8v0.8h-0.8zM104.3 0.6h0.8v0.8h-0.8zM44.4 32.7h0.8v0.8h-0.8zM33.8 73.7h0.8v0.8h-0.8zM39.1 48.5h0.8v0.8h-0.8z" fill="#a020ff" fill-opacity="0.4"/><path d="M65.1 7h0.8v0.8h-0.8zM45.3 18.2h0.8v0.8h-0.8zM102.8 18.6h0.8v0.8h-0.8zM40.7 69.2h0.8v0.8h-0.8zM62 59.4h0.8v0.8h-0.8zM21.1 30.3h0.8v0.8h-0.8zM35.1 44h0.8v0.8h-0.8zM43 84.8h0.8v0.8h-0.8zM18.3 44.1h0.8v0.8h-0.8zM63.8 102.2h0.8v0.8h-0.8zM71.7 71.1h0.8v0.8h-0.8zM62.4 58.5h0.8v0.8h-0.8zM58 47.5h0.8v0.8h-0.8zM20.9 42.9h0.8v0.8h-0.8zM37.8 9.7h0.8v0.8h-0.8zM107.7 31.6h0.8v0.8h-0.8zM51.4 87.4h0.8v0.8h-0.8zM65.8 41.9h0.8v0.8h-0.8zM62.2 4.9h0.8v0.8h-0.8zM10.7 67.4h0.8v0.8h-0.8zM21.5 61.8h0.8v0.8h-0.8zM35.9 92.7h0.8v0.8h-0.8z" fill="#a020ff" fill-opacity="0.7"/><path d="M47.7 89.1h0.8v0.8h-0.8zM0.9 49.4h0.8v0.8h-0.8zM36.5 89.1h0.8v0.8h-0.8zM59.8 31.1h0.8v0.8h-0.8zM3.4 34.8h0.8v0.8h-0.8zM12.5 36.8h0.8v0.8h-0.8zM77.3 90h0.8v0.8h-0.8zM7.6 22.7h0.8v0.8h-0.8zM51.2 85.5h0.8v0.8h-0.8zM75.4 99.2h0.8v0.8h-0.8zM35.5 34.1h0.8v0.8h-0.8zM74.6 102.4h0.8v0.8h-0.8zM16.5 30.4h0.8v0.8h-0.8zM37.8 14.4h0.8v0.8h-0.8zM24.2 15.8h0.8v0.8h-0.8zM26.2 35.9h0.8v0.8h-0.8zM27.5 66.1h0.8v0.8h-0.8zM38.8 13.1h0.8v0.8h-0.8zM67.1 56.8h0.8v0.8h-0.8zM8.8 16.7h0.8v0.8h-0.8zM37.9 102.9h0.8v0.8h-0.8zM40.2 30.6h0.8v0.8h-0.8zM36 55.8h0.8v0.8h-0.8zM29.2 6.1h0.8v0.8h-0.8zM62.2 85.6h0.8v0.8h-0.8zM51.5 60.7h0.8v0.8h-0.8zM61.9 56.1h0.8v0.8h-0.8zM17.3 26h0.8v0.8h-0.8zM35.5 95.2h0.8v0.8h-0.8z" fill="#ff2020" fill-opacity="0.4"/><path d="M58.1 49h0.8v0.8h-0.8zM68.8 79.3h0.8v0.8h-0.8zM60.1 83.4h0.8v0.8h-0.8zM43.7 86.1h0.8v0.8h-0.8zM36.3 50h0.8v0.8h-0.8zM105.1 38.8h0.8v0.8h-0.8zM58.9 14.2h0.8v0.8h-0.8zM63.5 21.9h0.8v0.8h-0.8zM63.8 56.2h0.8v0.8h-0.8zM56.9 68.7h0.8v0.8h-0.8zM10.5 52.5h0.8v0.8h-0.8zM18.7 20.2h0.8v0.8h-0.8zM27.5 48.6h0.8v0.8h-0.8zM41.7 7.1h0.8v0.8h-0.8zM62.7 52.5h0.8v0.8h-0.8zM59 48.8h0.8v0.8h-0.8zM72.1 97.1h0.8v0.8h-0.8zM0.9 52h0.8v0.8h-0.8zM1 5.1h0.8v0.8h-0.8zM11.1 44.1h0.8v0.8h-0.8zM63.1 3.1h0.8v0.8h-0.8zM62.2 76h0.8v0.8h-0.8zM69.3 53.5h0.8v0.8h-0.8zM72.2 89.5h0.8v0.8h-0.8z" fill="#ff2020" fill-opacity="0.7"/><path d="M66.8 80.9h0.8v0.8h-0.8zM13.6 16.4h0.8v0.8h-0.8zM13.2 34.8h0.8v0.8h-0.8zM52.1 39.4h0.8v0.8h-0.8zM68.6 83.7h0.8v0.8h-0.8zM37.3 54.5h0.8v0.8h-0.8zM9 22.3h0.8v0.8h-0.8zM2.9 58.4h0.8v0.8h-0.8zM61.8 39.8h0.8v0.8h-0.8zM65.4 95.3h0.8v0.8h-0.8zM66.2 85.8h0.8v0.8h-0.8zM65.3 91.7h0.8v0.8h-0.8zM106.5 31.5h0.8v0.8h-0.8zM75 93.7h0.8v0.8h-0.8zM52.4 69.4h0.8v0.8h-0.8zM11.2 48.4h0.8v0.8h-0.8zM40.5 28.6h0.8v0.8h-0.8zM47.7 21.4h0.8v0.8h-0.8zM53.6 17.9h0.8v0.8h-0.8zM44.7 22.4h0.8v0.8h-0.8zM3.8 23.7h0.8v0.8h-0.8zM58.7 67.1h0.8v0.8h-0.8zM63.2 10.9h0.8v0.8h-0.8zM44.1 10.6h0.8v0.8h-0.8zM35.6 29.9h0.8v0.8h-0.8zM68 30.2h0.8v0.8h-0.8zM41.4 73.1h0.8v0.8h-0.8zM43.1 41.3h0.8v0.8h-0.8zM69.2 86.3h0.8v0.8h-0.8zM60.9 44.6h0.8v0.8h-0.8zM7.4 41.6h0.8v0.8h-0.8zM62 63.7h0.8v0.8h-0.8zM54 35.7h0.8v0.8h-0.8zM25.2 6.2h0.8v0.8h-0.8zM14.9 14.5h0.8v0.8h-0.8z" fill="#ff20ff" fill-opacity="0.4"/><path d="M62.7 69.5h0.8v0.8h-0.8zM59.6 48.8h0.8v0.8h-0.8zM50.9 46.4h0.8v0.8h-0.8zM8.7 37.1h0.8v0.8h-0.8zM60.7 91.5h0.8v0.8h-0.8zM23.9 2.2h0.8v0.8h-0.8zM62.3 103.3h0.8v0.8h-0.8zM63.2 73.1h0.8v0.8h-0.8zM55.4 94.5h0.8v0.8h-0.8zM41.1 12.6h0.8v0.8h-0.8zM16.1 25.7h0.8v0.8h-0.8zM15.7 63h0.8v0.8h-0.8zM14.6 19.8h0.8v0.8h-0.8zM37.6 69h0.8v0.8h-0.8zM44.2 72.3h0.8v0.8h-0.8zM59.1 71.3h0.8v0.8h-0.8zM39.2 13.1h0.8v0.8h-0.8zM100.3 26.9h0.8v0.8h-0.8zM51.7 68.2h0.8v0.8h-0.8zM62.1 74.7h0.8v0.8h-0.8z" fill="#ff20ff" fill-opacity="0.7"/><path d="M38.6 13.1h0.8v0.8h-0.8zM68.3 91h0.8v0.8h-0.8zM106.2 34.5h0.8v0.8h-0.8zM13.2 33.9h0.8v0.8h-0.8zM1.3 9.5h0.8v0.8h-0.8zM37.7 35.9h0.8v0.8h-0.8zM50.6 42.2h0.8v0.8h-0.8zM69 69.3h0.8v0.8h-0.8zM20.8 76.3h0.8v0.8h-0.8zM39.4 13.1h0.8v0.8h-0.8zM20.1 13.1h0.8v0.8h-0.8zM3.5 23.2h0.8v0.8h-0.8zM62.8 81.9h0.8v0.8h-0.8zM27.7 21.9h0.8v0.8h-0.8zM34.8 70.4h0.8v0.8h-0.8zM48.5 74.9h0.8v0.8h-0.8zM49.9 35.2h0.8v0.8h-0.8zM34.3 56h0.8v0.8h-0.8zM53.8 24.9h0.8v0.8h-0.8zM17.8 33.1h0.8v0.8h-0.8zM45.7 81.4h0.8v0.8h-0.8zM41.4 6h0.8v0.8h-0.8zM29.9 32.1h0.8v0.8h-0.8z" fill="#ffa020" fill-opacity="0.4"/><path d="M50.6 70.3h0.8v0.8h-0.8zM57.3 0.2h0.8v0.8h-0.8zM54.2 8.8h0.8v0.8h-0.8zM0.7 0.8h0.8v0.8h-0.8zM36.5 51.7h0.8v0.8h-0.8zM45 12.3h0.8v0.8h-0.8zM70 54.6h0.8v0.8h-0.8zM48.9 72.8h0.8v0.8h-0.8zM10 10.5h0.8v0.8h-0.8zM21.7 38.8h0.8v0.8h-0.8zM25.7 40.9h0.8v0.8h-0.8zM32.3 29.3h0.8v0.8h-0.8zM47.7 44.4h0.8v0.8h-0.8zM17.7 61.2h0.8v0.8h-0.8zM41.3 102.2h0.8v0.8h-0.8zM5.1 3.3h0.8v0.8h-0.8zM102.2 42.3h0.8v0.8h-0.8zM52.7 79h0.8v0.8h-0.8zM39.8 41.1h0.8v0.8h-0.8z" fill="#ffa020" fill-opacity="0.7"/><path d="M56.3 93.5h0.8v0.8h-0.8zM33.7 91.7h0.8v0.8h-0.8zM31.2 80.3h0.8v0.8h-0.8zM100 22.7h0.8v0.8h-0.8zM34.1 6.3h0.8v0.8h-0.8zM52.8 88.9h0.8v0.8h-0.8zM43.5 63.4h0.8v0.8h-0.8zM64.6 39.7h0.8v0.8h-0.8zM103 4.4h0.8v0.8h-0.8zM47.6 47.3h0.8v0.8h-0.8zM36.5 1.7h0.8v0.8h-0.8zM45.4 45.2h0.8v0.8h-0.8zM57 49.8h0.8v0.8h-0.8zM35.2 0.6h0.8v0.8h-0.8zM5.9 36.6h0.8v0.8h-0.8zM58.8 1h0.8v0.8h-0.8zM49.7 105.2h0.8v0.8h-0.8zM26.8 21.8h0.8v0.8h-0.8zM68.6 71.8h0.8v0.8h-0.8zM35.9 20.8h0.8v0.8h-0.8zM2.5 58.6h0.8v0.8h-0.8zM20.2 75.4h0.8v0.8h-0.8zM79.1 76.1h0.8v0.8h-0.8zM36.5 47h0.8v0.8h-0.8zM3 40h0.8v0.8h-0.8zM46.8 53.4h0.8v0.8h-0.8z" fill="#ffff30" fill-opacity="0.4"/><path d="M46.9 93.1h0.8v0.8h-0.8zM25.1 10.1h0.8v0.8h-0.8zM48.8 43.9h0.8v0.8h-0.8zM41 33.2h0.8v0.8h-0.8zM44 89.1h0.8v0.8h-0.8zM54.6 43.8h0.8v0.8h-0.8zM40.8 105.8h0.8v0.8h-0.8zM44.6 31.2h0.8v0.8h-0.8zM26.9 65.5h0.8v0.8h-0.8zM51.2 100.1h0.8v0.8h-0.8zM52.4 97.4h0.8v0.8h-0.8zM29.2 16.8h0.8v0.8h-0.8zM76 91.3h0.8v0.8h-0.8zM31.8 75.8h0.8v0.8h-0.8zM58.1 17h0.8v0.8h-0.8zM72.8 106h0.8v0.8h-0.8zM54.4 2.5h0.8v0.8h-0.8zM5.4 43.5h0.8v0.8h-0.8zM43.5 29.4h0.8v0.8h-0.8zM9.7 67.1h0.8v0.8h-0.8zM20.4 55.9h0.8v0.8h-0.8zM62.7 73h0.8v0.8h-0.8zM44.3 6.8h0.8v0.8h-0.8zM34.1 85.4h0.8v0.8h-0.8z" fill="#ffff30" fill-opacity="0.7"/><path d="M100 20.5h0.8v0.8h-0.8zM54.6 5.8h0.8v0.8h-0.8zM34.7 97.8h0.8v0.8h-0.8zM55.8 28.7h0.8v0.8h-0.8zM53 2.3h0.8v0.8h-0.8zM35.7 11.6h0.8v0.8h-0.8zM25.1 12.4h0.8v0.8h-0.8zM14.1 11h0.8v0.8h-0.8zM45.6 14.3h0.8v0.8h-0.8zM25.8 2.6h0.8v0.8h-0.8zM39.7 27.8h0.8v0.8h-0.8zM96.4 8.5h0.8v0.8h-0.8zM54.3 55.7h0.8v0.8h-0.8zM34.2 59.4h0.8v0.8h-0.8zM50.4 100.7h0.8v0.8h-0.8zM27 66.2h0.8v0.8h-0.8zM36.1 71.5h0.8v0.8h-0.8zM38.6 31.8h0.8v0.8h-0.8zM64.8 34.3h0.8v0.8h-0.8zM18.1 58.6h0.8v0.8h-0.8zM60.5 44h0.8v0.8h-0.8zM69.3 71.3h0.8v0.8h-0.8zM5.1 23h0.8v0.8h-0.8zM54.3 75.7h0.8v0.8h-0.8zM39.6 41.5h0.8v0.8h-0.8zM47.1 43.2h0.8v0.8h-0.8zM19.2 53.2h0.8v0.8h-0.8zM108.7 41.8h0.8v0.8h-0.8zM20.4 71.8h0.8v0.8h-0.8zM24.6 75.3h0.8v0.8h-0.8zM61.5 90.4h0.8v0.8h-0.8zM2 53.5h0.8v0.8h-0.8zM37.3 28.9h0.8v0.8h-0.8zM12.6 7.6h0.8v0.8h-0.8zM11.5 10.2h0.8v0.8h-0.8zM24.4 28.9h0.8v0.8h-0.8zM22.1 69.6h0.8v0.8h-0.8zM64.1 57.8h0.8v0.8h-0.8zM25.7 71.9h0.8v0.8h-0.8zM74.8 93.8h0.8v0.8h-0.8zM47.9 16.4h0.8v0.8h-0.8zM29.2 36.3h0.8v0.8h-0.8zM59 91.6h0.8v0.8h-0.8zM45 98.7h0.8v0.8h-0.8zM11.9 26.9h0.8v0.8h-0.8zM63.1 67.6h0.8v0.8h-0.8zM45.8 71.4h0.8v0.8h-0.8zM32.6 56.7h0.8v0.8h-0.8zM37.5 41.1h0.8v0.8h-0.8zM73.8 89.3h0.8v0.8h-0.8zM30.8 79.4h0.8v0.8h-0.8zM24.8 47.3h0.8v0.8h-0.8zM69 76.2h0.8v0.8h-0.8zM24.6 14.8h0.8v0.8h-0.8zM3.8 20.1h0.8v0.8h-0.8zM3.1 59.6h0.8v0.8h-0.8zM19.8 57h0.8v0.8h-0.8zM40.3 36.8h0.8v0.8h-0.8zM76.8 66.4h0.8v0.8h-0.8zM78 82.9h0.8v0.8h-0.8zM76.5 72.3h0.8v0.8h-0.8zM54.3 104.8h0.8v0.8h-0.8zM9.8 5.6h0.8v0.8h-0.8zM49.5 87.6h0.8v0.8h-0.8zM49.9 36.3h0.8v0.8h-0.8zM1.7 0.4h0.8v0.8h-0.8zM59.1 88.2h0.8v0.8h-0.8zM45.4 89.3h0.8v0.8h-0.8zM64.2 37.7h0.8v0.8h-0.8zM14.3 42.8h0.8v0.8h-0.8zM105.1 33.7h0.8v0.8h-0.8zM41.5 86.3h0.8v0.8h-0.8zM38.5 34.2h0.8v0.8h-0.8zM25.4 54h0.8v0.8h-0.8zM78.1 80.8h0.8v0.8h-0.8zM18.1 65.1h0.8v0.8h-0.8zM38.7 23.4h0.8v0.8h-0.8zM15.8 45.6h0.8v0.8h-0.8zM51.8 42.7h0.8v0.8h-0.8zM24.1 80.7h0.8v0.8h-0.8zM57.9 91.8h0.8v0.8h-0.8zM42 52.9h0.8v0.8h-0.8zM68.5 61h0.8v0.8h-0.8zM55 27.3h0.8v0.8h-0.8zM12 8.8h0.8v0.8h-0.8zM66.2 100.8h0.8v0.8h-0.8zM35.5 4.8h0.8v0.8h-0.8zM58.5 44.1h0.8v0.8h-0.8zM4.1 39.5h0.8v0.8h-0.8zM39.6 97.9h0.8v0.8h-0.8zM18.2 18.2h0.8v0.8h-0.8zM41.1 24.8h0.8v0.8h-0.8zM67.3 99.8h0.8v0.8h-0.8zM73.2 78.7h0.8v0.8h-0.8zM52.4 51.6h0.8v0.8h-0.8zM23.2 54.8h0.8v0.8h-0.8zM30.4 42.5h0.8v0.8h-0.8zM8.2 50.4h0.8v0.8h-0.8zM71.3 89h0.8v0.8h-0.8zM44.1 48.9h0.8v0.8h-0.8zM6.1 41h0.8v0.8h-0.8zM57.2 84.4h0.8v0.8h-0.8zM47.8 76.7h0.8v0.8h-0.8zM40.9 37.2h0.8v0.8h-0.8zM42.2 36.2h0.8v0.8h-0.8zM50.6 50h0.8v0.8h-0.8zM36.4 54.9h0.8v0.8h-0.8zM22.6 29.5h0.8v0.8h-0.8zM48.5 15h0.8v0.8h-0.8zM21.8 9.5h0.8v0.8h-0.8zM48.4 89.7h0.8v0.8h-0.8zM7.2 21.2h0.8v0.8h-0.8zM23.2 79h0.8v0.8h-0.8zM52.9 29.6h0.8v0.8h-0.8zM3 25.5h0.8v0.8h-0.8zM62.8 46.5h0.8v0.8h-0.8zM5.7 27.2h0.8v0.8h-0.8zM49 58h0.8v0.8h-0.8zM39.5 94.3h0.8v0.8h-0.8zM32.5 13h0.8v0.8h-0.8zM25.2 57.8h0.8v0.8h-0.8zM45.3 37.4h0.8v0.8h-0.8zM17 32.5h0.8v0.8h-0.8zM27.5 23.3h0.8v0.8h-0.8zM28 73.9h0.8v0.8h-0.8zM48 73.2h0.8v0.8h-0.8zM41.4 37.1h0.8v0.8h-0.8zM50.9 94.1h0.8v0.8h-0.8zM29.5 34.6h0.8v0.8h-0.8zM65.4 79.9h0.8v0.8h-0.8zM19 36.8h0.8v0.8h-0.8zM12.5 44.4h0.8v0.8h-0.8zM23.9 74.5h0.8v0.8h-0.8zM30.6 55.2h0.8v0.8h-0.8zM39.6 93.3h0.8v0.8h-0.8zM11.2 36.7h0.8v0.8h-0.8zM37.1 22.4h0.8v0.8h-0.8zM103 3.1h0.8v0.8h-0.8zM73.9 63.8h0.8v0.8h-0.8zM57 82.3h0.8v0.8h-0.8zM52.9 89h0.8v0.8h-0.8zM4 27h0.8v0.8h-0.8zM47.9 86.3h0.8v0.8h-0.8zM6.7 53.9h0.8v0.8h-0.8zM45.5 50.7h0.8v0.8h-0.8zM1.7 31.7h0.8v0.8h-0.8zM3.9 10.4h0.8v0.8h-0.8zM51.9 55.7h0.8v0.8h-0.8zM54.3 47h0.8v0.8h-0.8zM59.5 23.9h0.8v0.8h-0.8zM73.4 58.6h0.8v0.8h-0.8zM17 57.9h0.8v0.8h-0.8zM24.4 19.2h0.8v0.8h-0.8zM61.4 101.8h0.8v0.8h-0.8zM58.9 61.9h0.8v0.8h-0.8zM1.5 31.9h0.8v0.8h-0.8zM102.6 41h0.8v0.8h-0.8zM26.3 66.9h0.8v0.8h-0.8zM74.9 73.9h0.8v0.8h-0.8zM35.3 82.2h0.8v0.8h-0.8zM34.1 14.3h0.8v0.8h-0.8zM26.6 77.8h0.8v0.8h-0.8zM9 29.4h0.8v0.8h-0.8zM8.2 20.7h0.8v0.8h-0.8zM54 88.5h0.8v0.8h-0.8zM31.2 15.8h0.8v0.8h-0.8zM56.3 56.8h0.8v0.8h-0.8zM65.5 99.3h0.8v0.8h-0.8zM108.4 42.6h0.8v0.8h-0.8zM102.9 34.9h0.8v0.8h-0.8zM9.3 44.5h0.8v0.8h-0.8zM34.2 95.8h0.8v0.8h-0.8zM28 71.6h0.8v0.8h-0.8zM83 80.8h0.8v0.8h-0.8zM30.8 57.9h0.8v0.8h-0.8zM69.2 42.7h0.8v0.8h-0.8zM18.1 39.6h0.8v0.8h-0.8zM8.8 62.5h0.8v0.8h-0.8zM105.8 34.6h0.8v0.8h-0.8zM49.7 104.9h0.8v0.8h-0.8zM13.4 63.8h0.8v0.8h-0.8zM4.7 9.7h0.8v0.8h-0.8zM0 39.9h0.8v0.8h-0.8zM53.5 35.4h0.8v0.8h-0.8zM4 55h0.8v0.8h-0.8zM30.9 59.2h0.8v0.8h-0.8zM56.1 21.3h0.8v0.8h-0.8zM65.6 24h0.8v0.8h-0.8zM17.9 78.6h0.8v0.8h-0.8zM71 60h0.8v0.8h-0.8zM68.1 105.2h0.8v0.8h-0.8zM9 54h0.8v0.8h-0.8zM35.2 25.1h0.8v0.8h-0.8zM48.7 6.3h0.8v0.8h-0.8zM38.1 18.3h0.8v0.8h-0.8zM36.2 47.5h0.8v0.8h-0.8zM98.1 18.7h0.8v0.8h-0.8z" fill="#ffffff" fill-opacity="0.4"/><path d="M71.7 67.9h0.8v0.8h-0.8zM33.1 34h0.8v0.8h-0.8zM0.7 57.7h0.8v0.8h-0.8zM6.3 30.3h0.8v0.8h-0.8zM59.3 86.4h0.8v0.8h-0.8zM33.9 7.7h0.8v0.8h-0.8zM3.7 9.6h0.8v0.8h-0.8zM66.2 80.2h0.8v0.8h-0.8zM20.4 78.3h0.8v0.8h-0.8zM29.7 64.2h0.8v0.8h-0.8zM63 21.8h0.8v0.8h-0.8zM40.3 87.9h0.8v0.8h-0.8zM68.1 35.9h0.8v0.8h-0.8zM14.1 36.6h0.8v0.8h-0.8zM42.1 31h0.8v0.8h-0.8zM107.6 38h0.8v0.8h-0.8zM47.3 89.4h0.8v0.8h-0.8zM17.4 24h0.8v0.8h-0.8zM62.6 10.1h0.8v0.8h-0.8zM26 27.9h0.8v0.8h-0.8zM33.5 94.4h0.8v0.8h-0.8zM33.4 91h0.8v0.8h-0.8zM49.5 90.6h0.8v0.8h-0.8zM99 3.4h0.8v0.8h-0.8zM45.9 34.8h0.8v0.8h-0.8zM28 26.8h0.8v0.8h-0.8zM6.9 1.6h0.8v0.8h-0.8zM108.7 8.7h0.8v0.8h-0.8zM47.5 36.7h0.8v0.8h-0.8zM32.6 35.8h0.8v0.8h-0.8zM35.2 95.4h0.8v0.8h-0.8zM61.6 81.7h0.8v0.8h-0.8zM67.2 78.5h0.8v0.8h-0.8zM31.7 70.3h0.8v0.8h-0.8zM23.1 83.3h0.8v0.8h-0.8zM15.3 12.3h0.8v0.8h-0.8zM27.2 87h0.8v0.8h-0.8zM18.6 2.6h0.8v0.8h-0.8zM18.1 70.6h0.8v0.8h-0.8zM24.8 17.9h0.8v0.8h-0.8zM71 104.7h0.8v0.8h-0.8zM20.5 46.9h0.8v0.8h-0.8zM49.1 100.1h0.8v0.8h-0.8zM102.7 0.2h0.8v0.8h-0.8zM48.7 45.6h0.8v0.8h-0.8zM100.8 30.6h0.8v0.8h-0.8zM37.9 104.6h0.8v0.8h-0.8zM69 83.6h0.8v0.8h-0.8zM83.2 80.9h0.8v0.8h-0.8zM47.5 36.9h0.8v0.8h-0.8zM45.4 76.8h0.8v0.8h-0.8zM105 41.1h0.8v0.8h-0.8zM30.5 40.1h0.8v0.8h-0.8zM42.9 45.5h0.8v0.8h-0.8zM30.3 20h0.8v0.8h-0.8zM34.2 33.2h0.8v0.8h-0.8zM7.1 0.3h0.8v0.8h-0.8zM1.9 48.3h0.8v0.8h-0.8zM51.2 49.5h0.8v0.8h-0.8zM100.2 17.6h0.8v0.8h-0.8zM108.6 24.7h0.8v0.8h-0.8zM34 4.2h0.8v0.8h-0.8zM63 64.9h0.8v0.8h-0.8zM68.8 39.7h0.8v0.8h-0.8zM44.3 18.6h0.8v0.8h-0.8zM33.4 71.7h0.8v0.8h-0.8zM55 72.9h0.8v0.8h-0.8zM98.7 18.8h0.8v0.8h-0.8zM2.8 0.2h0.8v0.8h-0.8zM56.3 69.7h0.8v0.8h-0.8zM25.1 9.2h0.8v0.8h-0.8zM36.8 33.4h0.8v0.8h-0.8zM56.9 70h0.8v0.8h-0.8zM51.7 6.5h0.8v0.8h-0.8zM28.6 84.4h0.8v0.8h-0.8zM15.6 38.7h0.8v0.8h-0.8zM55 69.1h0.8v0.8h-0.8zM24.1 55.9h0.8v0.8h-0.8zM37.8 43.3h0.8v0.8h-0.8zM21.6 7.6h0.8v0.8h-0.8zM2.7 27.4h0.8v0.8h-0.8zM21.1 64.6h0.8v0.8h-0.8zM51.2 80.2h0.8v0.8h-0.8zM23.3 23.1h0.8v0.8h-0.8zM21.6 47.2h0.8v0.8h-0.8zM53.9 58h0.8v0.8h-0.8zM40.6 32.2h0.8v0.8h-0.8zM77.7 70.4h0.8v0.8h-0.8zM8 64.7h0.8v0.8h-0.8zM35.1 92.5h0.8v0.8h-0.8zM50.5 104.2h0.8v0.8h-0.8zM55.3 57.9h0.8v0.8h-0.8zM62.3 51.3h0.8v0.8h-0.8zM62.5 105.5h0.8v0.8h-0.8zM15.9 38h0.8v0.8h-0.8zM36.5 83.2h0.8v0.8h-0.8zM31.8 46.8h0.8v0.8h-0.8zM43.6 22.7h0.8v0.8h-0.8zM15.5 41.8h0.8v0.8h-0.8zM46.2 103.8h0.8v0.8h-0.8zM54.8 32.9h0.8v0.8h-0.8zM55.2 43h0.8v0.8h-0.8zM64.7 50.2h0.8v0.8h-0.8zM37.1 0.1h0.8v0.8h-0.8zM10.1 67.8h0.8v0.8h-0.8zM36.8 41.8h0.8v0.8h-0.8zM31.7 58.9h0.8v0.8h-0.8zM2.9 45.1h0.8v0.8h-0.8zM59 69.5h0.8v0.8h-0.8zM34.9 12.8h0.8v0.8h-0.8zM70 55h0.8v0.8h-0.8zM31.5 15.3h0.8v0.8h-0.8zM7.6 41.9h0.8v0.8h-0.8zM26.2 58.6h0.8v0.8h-0.8zM32.4 36.4h0.8v0.8h-0.8zM108.9 21.2h0.8v0.8h-0.8zM2.5 60.8h0.8v0.8h-0.8zM99.8 29h0.8v0.8h-0.8zM50.6 21.1h0.8v0.8h-0.8zM15.9 63.7h0.8v0.8h-0.8zM69.4 91.2h0.8v0.8h-0.8zM30.2 23.1h0.8v0.8h-0.8zM69 38h0.8v0.8h-0.8zM64.7 40.2h0.8v0.8h-0.8zM69.9 49.2h0.8v0.8h-0.8zM40.2 48.1h0.8v0.8h-0.8zM41.7 61.9h0.8v0.8h-0.8zM15.3 41h0.8v0.8h-0.8zM69.3 55h0.8v0.8h-0.8zM26.2 31.2h0.8v0.8h-0.8zM30.3 22h0.8v0.8h-0.8zM21.4 56.4h0.8v0.8h-0.8zM20.1 2.3h0.8v0.8h-0.8zM34.8 56.9h0.8v0.8h-0.8zM24.9 28.1h0.8v0.8h-0.8zM67 105.9h0.8v0.8h-0.8zM26.1 70.1h0.8v0.8h-0.8zM13.7 56.5h0.8v0.8h-0.8zM64.8 45.4h0.8v0.8h-0.8zM36.9 62.9h0.8v0.8h-0.8zM37.4 76.9h0.8v0.8h-0.8zM65.8 30h0.8v0.8h-0.8zM30.3 39h0.8v0.8h-0.8zM60.5 76.9h0.8v0.8h-0.8zM55.2 31.7h0.8v0.8h-0.8zM39 35.7h0.8v0.8h-0.8zM5.9 50.5h0.8v0.8h-0.8zM31.7 10.3h0.8v0.8h-0.8zM39 35.1h0.8v0.8h-0.8zM33 56.1h0.8v0.8h-0.8zM107 3.6h0.8v0.8h-0.8zM26 35.8h0.8v0.8h-0.8zM51.9 96.4h0.8v0.8h-0.8zM36.3 94.6h0.8v0.8h-0.8zM27.5 56.1h0.8v0.8h-0.8zM41.5 7h0.8v0.8h-0.8zM64.6 42.7h0.8v0.8h-0.8zM24.6 78.1h0.8v0.8h-0.8zM64.3 96.2h0.8v0.8h-0.8zM54.4 14.4h0.8v0.8h-0.8zM33.1 26.9h0.8v0.8h-0.8zM26.5 33.1h0.8v0.8h-0.8zM17.6 10.1h0.8v0.8h-0.8zM74.7 95.9h0.8v0.8h-0.8zM27.7 2h0.8v0.8h-0.8zM103.1 17h0.8v0.8h-0.8zM49.1 23.9h0.8v0.8h-0.8zM32.4 30.1h0.8v0.8h-0.8zM56 50.4h0.8v0.8h-0.8zM50.7 29.5h0.8v0.8h-0.8zM43.3 64.2h0.8v0.8h-0.8zM10.7 27.5h0.8v0.8h-0.8zM59.1 46h0.8v0.8h-0.8zM4.7 33.4h0.8v0.8h-0.8zM57.2 92.9h0.8v0.8h-0.8zM35.9 12.3h0.8v0.8h-0.8zM107.5 20.4h0.8v0.8h-0.8zM1.5 59.3h0.8v0.8h-0.8zM51.6 4.5h0.8v0.8h-0.8zM51.9 4.6h0.8v0.8h-0.8zM53.5 105.8h0.8v0.8h-0.8zM75.7 62.8h0.8v0.8h-0.8zM72 73.7h0.8v0.8h-0.8zM36.1 84.2h0.8v0.8h-0.8zM46.1 57.1h0.8v0.8h-0.8zM16.9 25.8h0.8v0.8h-0.8zM37.1 18.3h0.8v0.8h-0.8zM14 64.3h0.8v0.8h-0.8zM37 36.7h0.8v0.8h-0.8zM72.6 76.3h0.8v0.8h-0.8zM26 59h0.8v0.8h-0.8zM10 7.6h0.8v0.8h-0.8zM107.2 30.7h0.8v0.8h-0.8zM38.6 33.6h0.8v0.8h-0.8zM96.7 10.5h0.8v0.8h-0.8zM41.2 96.2h0.8v0.8h-0.8zM70.2 50.4h0.8v0.8h-0.8zM105.6 24.7h0.8v0.8h-0.8zM9.6 37.9h0.8v0.8h-0.8zM31.6 52.4h0.8v0.8h-0.8zM43.2 101.2h0.8v0.8h-0.8zM39.1 26.5h0.8v0.8h-0.8zM16.3 12.5h0.8v0.8h-0.8zM37.3 20.8h0.8v0.8h-0.8zM10.5 43.6h0.8v0.8h-0.8zM25.6 70.5h0.8v0.8h-0.8zM10.1 26.3h0.8v0.8h-0.8zM12.6 44.4h0.8v0.8h-0.8zM13.2 49.2h0.8v0.8h-0.8zM30.3 46.8h0.8v0.8h-0.8zM13.1 39.7h0.8v0.8h-0.8zM61.6 53.8h0.8v0.8h-0.8zM59 37.2h0.8v0.8h-0.8zM54.5 100.2h0.8v0.8h-0.8zM19.9 45.8h0.8v0.8h-0.8zM43.1 47.6h0.8v0.8h-0.8zM15.6 50.5h0.8v0.8h-0.8zM65 44.8h0.8v0.8h-0.8zM4.3 48h0.8v0.8h-0.8zM4.4 58.9h0.8v0.8h-0.8zM28.6 18.3h0.8v0.8h-0.8zM26.6 36.7h0.8v0.8h-0.8zM62.7 100.8h0.8v0.8h-0.8zM45.8 5.9h0.8v0.8h-0.8zM57.7 86.8h0.8v0.8h-0.8zM19.3 58.2h0.8v0.8h-0.8zM39.4 32.7h0.8v0.8h-0.8zM12.5 34.6h0.8v0.8h-0.8zM44.5 83.7h0.8v0.8h-0.8zM2.8 17.2h0.8v0.8h-0.8zM36.8 73.4h0.8v0.8h-0.8zM45.7 32h0.8v0.8h-0.8zM34.8 20.5h0.8v0.8h-0.8zM34.9 35.6h0.8v0.8h-0.8z" fill="#ffffff" fill-opacity="0.7"/><path d="M24 65.4L26.1 69.4M49.9 80.7L50.3 82.8M63.4 50.3L66.2 54.6M25.9 43.5L27.9 46.7M40.5 66.1L43.2 70.6M78.7 68.5L80.6 71.3M30.6 45.4L32.8 48.7M45.6 67.6L47.3 70.7M68.2 52L69.7 57.7M52.4 67L54.7 71.5M64.1 67.3L65.6 69.4" stroke="#d0d0d0" stroke-opacity="0.5" stroke-width="0.55" fill="none" stroke-linecap="round"/><path d="M29.6 71.3L30.6 76.9M104.5 15.2L108.1 10.7M36.9 58.3L38.1 60.4M32.7 52.9L35 55.7M51.1 46.2L53.8 50M45.5 100.7L46.5 102.7M54.2 66.2L57 69.7M60.3 44.3L62.3 49M72.7 64.2L73.7 67.1M21.1 62.9L23.2 67.7M100.5 34.5L103.2 30.8M17.9 50.4L19 52.6M61.9 63L63.2 65.1M54.9 89L57.6 92.8M16.1 45.5L18.2 49M43.7 86.6L46 91.1M51.6 69.8L52.7 71.8M20.3 44.7L21.4 48.5" stroke="#d0d0d0" stroke-opacity="0.7" stroke-width="0.55" fill="none" stroke-linecap="round"/><path d="M97.8 5.3L99.7 2.6M66.4 100.4L68.2 103.7M31.6 84.3L32.9 87M39.7 43.1L41.8 47.5M104.6 9.4L106.2 7.6M44.2 69.3L45.6 72.3M36.9 77.5L37.8 80.8M8.3 55.3L9.5 57M46.3 102.4L47.7 107.8M105.9 9L107.8 5.7M50 87.8L52.7 91.4" stroke="#d0d0d0" stroke-opacity="1" stroke-width="0.55" fill="none" stroke-linecap="round"/><path d="M62.8 3.9L63.1 9.7M47.1 26.6L48.8 29.5M32.5 33L34.2 30.6M35.1 29.7L37.4 26.5M8 48.4L10.6 51.1M16.3 53.8L16.8 54.3M13.1 48.5L15.7 51.7M16.2 52.5L18.9 55.8M10.4 51.1L12.1 53.2M46.7 45.8L47.7 49.7M47.8 50.8L48.8 54.5M42.5 46.3L43.6 49.5M43.7 50.1L45.3 54.9M49.3 52.1L50.3 56.9M13.2 68L16.3 70.3M17.1 70.3L17.9 70.9M25 79.4L26.1 80.6M19.4 80.1L21.3 82.6M21.8 83.4L24.4 86.9M26.1 83.8L27.8 87.1M32.5 82.9L33.3 85.7M33.3 86.3L34.9 91.9M35.1 93L35.7 94.8M37.7 71.2L39 76.4M41.1 82.9L41.7 85.3M40.3 80.6L41.2 84.4M48.9 84.9L49.6 89.1M50.1 80.6L50.9 85.6M56.6 68.8L57.6 72.7M58 73.6L59.1 78.3M59.6 78.8L60.4 82.2M64.3 63.9L65.4 67.3M67.1 74.3L68.5 78.3M70.3 87.2L71 90.1M72.7 62.7L75.4 65.5M84.5 75.3L85.2 76M78.8 68.9L80.6 71.2M39.1 103.2L39.4 104.2M46.4 100.3L47.4 104.3M56.7 104.1L56.8 104.3M28.3 61.7L29.7 65.2M31.4 69.8L31.9 71.2M35.4 59.3L36.8 65M69.8 97.3L71 99.7" stroke="#ececec" stroke-opacity="0.6" stroke-width="0.9" fill="none" stroke-linecap="round"/><path d="M63.7 10.8L63.8 13M50.2 26.6L51.1 28.4M51.8 25.1L53.3 28.5M51.7 25.1L52.5 29.7M35.6 33.7L38.8 29M9.3 47.6L12.2 50.5M6.8 47.6L9.2 50.6M45.3 40.3L46.5 45M45.6 55.4L46.1 56.9M53.1 54.7L53.4 56.9M48.5 47.4L49.3 51.1M50.8 57.9L51.1 59.2M8.3 64L12.9 67.4M22.3 74.7L23.5 76.1M17.8 71.1L21.6 75.5M22.5 76.3L24.3 78.3M25.3 87.1L28.4 91.3M23.4 78.4L25.9 83.3M28.6 87.6L29.8 90M41.2 84.8L42 88M42.2 88.6L43 92.1M47.1 75.9L47.5 78.7M48.3 79.4L49 83.6M50.6 86.9L51.4 92.2M51.8 93.3L52.7 99.1M57.9 80.6L58.6 83.9M60 89.4L60.8 93.7M65.7 68.1L67.4 73.1M67.4 74.2L68.7 79.6M68.7 80.7L70.1 86.3M68.6 59.5L72 62.8M79.5 70.4L83.7 74.6M76.5 65.5L78.6 68.2M35.3 92.5L36.7 97.1M37.4 97.4L38.9 102.6M44.7 94.9L45.8 99.1M55.7 100L56.7 103.7M61.5 94.9L62.6 98.2M30 66.2L31 68.9M22.4 90.1L24.2 94.8M24.8 95.9L26.2 99.5M67.7 92.4L69.8 96.6" stroke="#ececec" stroke-opacity="0.8" stroke-width="0.9" fill="none" stroke-linecap="round"/><path d="M62.8 -0L63 3M46.2 19L48 22.6M48 23.1L49.6 26.3M48.6 17.8L50.3 21.6M50.6 22.1L51.7 24.4M51.1 20.1L51.7 24.1M44.3 22.7L46 25.8M4.6 45.2L7.1 47.7M12.8 50.6L15.6 53.4M51.1 42.6L51.9 47.4M52.1 47.9L53 53.5M55.9 54.5L56.5 58M56.7 59.1L57.1 61.6M14.4 65L18.1 69.2M18.1 70L21.5 73.8M16.8 75.7L19.2 78.8M28.7 92.4L30.6 95M30.8 78.3L31.8 82M39.9 77.5L40.9 81.7M43.1 93L43.6 94.9M60.2 82.8L60.2 83M58.6 84.9L59.2 88.5M60.6 94.6L61.1 97.2M66.3 71.1L66.9 73.6M75.7 66.7L79 70M70.9 59.5L73.4 62.6M73.9 62.9L75.6 65.1M54.5 94.8L55.6 99.1M62.7 98.8L63.7 102M37.4 65.9L38.1 68.7" stroke="#ececec" stroke-opacity="1" stroke-width="0.9" fill="none" stroke-linecap="round"/><path d="M95.1 21.5L97.6 17.1M97.9 16.7L99.1 14.6M99.1 13.8L100.7 11M97.3 26.2L100.4 21.4M102.4 17.6L105.3 13.1M99.5 33.2L101.1 30.4M106.8 2.7L106.9 2.5M109.5 31.5L109.9 30.8M95.9 30.8L98.5 26.3M103.9 16.9L105.5 14.2" stroke="#e0e0e0" stroke-opacity="0.5" stroke-width="0.7" fill="none" stroke-linecap="round"/><path d="M104 5L104.2 4.7M105.9 12.5L107.9 9.5M101.3 29.7L102.7 27.2M109.1 16.9L109.2 16.7M103.6 36.8L105.1 34M105.5 33.4L107.3 30M93.8 14.4L97.1 9.7M96.9 9L100 4.6M98.4 14.2L100.1 11.8M107.8 35.1L109.3 32.7" stroke="#e0e0e0" stroke-opacity="0.8" stroke-width="0.7" fill="none" stroke-linecap="round"/><path d="M101.2 10.3L103.8 5.9M101 20.7L102.6 18.3M103.4 26.4L105.6 22.6M106.1 22.4L108.7 17.9M102 40.3L103.4 37.7M108 29L109.5 26.1M101.1 4L102.2 2.5M100.9 10.8L103.1 7.7M103.3 7L106.1 3M104.4 40.4L107.3 35.6M98.9 25.8L100.6 22.9M101.1 22.3L103.9 17.5" stroke="#e0e0e0" stroke-opacity="1" stroke-width="0.7" fill="none" stroke-linecap="round"/></g><rect x="331.6" y="149" width="11.9" height="11.6" fill="none" stroke="#ddd" stroke-width="1"/><rect x="387.1" y="225.7" width="18" height="1.5" fill="#fff"/><g transform="translate(413,125)"><rect width="109.7" height="110" fill="#000"/><circle cx="54.3" cy="6.5" r="2.3" fill="#20ff20"/><circle cx="55.6" cy="2.6" r="1.5" fill="#20e0ff"/><circle cx="51.1" cy="11" r="2.1" fill="#3040ff"/><circle cx="54.3" cy="11.6" r="1.8" fill="#ff20ff"/><circle cx="56.9" cy="9.7" r="1.7" fill="#a020ff"/><circle cx="44" cy="12.9" r="1.5" fill="#ffa020"/><circle cx="47.8" cy="16.8" r="1.4" fill="#ff1a1a"/><circle cx="41.4" cy="18.8" r="1.5" fill="#20e0ff"/><circle cx="38.1" cy="21.3" r="1.6" fill="#a020ff"/><circle cx="42.7" cy="22.6" r="1.7" fill="#20ff20"/><circle cx="38.8" cy="26.5" r="2.5" fill="#ff1a1a"/><circle cx="34.3" cy="27.8" r="2.1" fill="#ffff30"/><circle cx="41.4" cy="27.2" r="1.7" fill="#ffff30"/><circle cx="44" cy="26.5" r="1.4" fill="#ffff30"/><circle cx="38.8" cy="31" r="1.9" fill="#ffa020"/><circle cx="41.4" cy="33" r="1.7" fill="#3040ff"/><circle cx="40.1" cy="37.5" r="1.7" fill="#ff20ff"/><circle cx="37.5" cy="40.1" r="1.7" fill="#a020ff"/><circle cx="29.7" cy="37.5" r="1.7" fill="#20e0ff"/><circle cx="25.9" cy="38.8" r="1.7" fill="#ffff30"/><circle cx="23.3" cy="41.4" r="1.9" fill="#20ff20"/><circle cx="29.7" cy="41.4" r="1.9" fill="#ff20ff"/><circle cx="33.6" cy="41.4" r="1.9" fill="#3040ff"/><circle cx="31" cy="44" r="1.9" fill="#ffff30"/><circle cx="36.2" cy="44" r="1.7" fill="#20ff20"/><circle cx="20.7" cy="45.3" r="1.7" fill="#20e0ff"/><circle cx="24.6" cy="45.9" r="1.9" fill="#ffff30"/><circle cx="27.2" cy="46.6" r="1.9" fill="#ff20ff"/><circle cx="34.3" cy="45.9" r="1.7" fill="#3040ff"/><circle cx="19.4" cy="49.1" r="1.7" fill="#ffa020"/><circle cx="23.3" cy="49.1" r="1.7" fill="#20e0ff"/><circle cx="27.2" cy="49.1" r="1.7" fill="#ffa020"/><circle cx="31" cy="49.1" r="1.7" fill="#ff20ff"/><circle cx="22" cy="51.7" r="1.6" fill="#20e0ff"/><circle cx="16.8" cy="53" r="1.7" fill="#ff1a1a"/><circle cx="25.9" cy="53" r="1.5" fill="#a020ff"/><circle cx="18.1" cy="55.6" r="2.3" fill="#ff1a1a"/><circle cx="23.3" cy="56.3" r="1.9" fill="#ff1a1a"/><circle cx="27.2" cy="54.3" r="1.7" fill="#20ff20"/><circle cx="12.9" cy="55.6" r="1.3" fill="#3040ff"/><circle cx="5.2" cy="51.7" r="1.2" fill="#20e0ff"/><circle cx="10.3" cy="53.7" r="1.3" fill="#a020ff"/><circle cx="48.5" cy="55.6" r="1.4" fill="#ff1a1a"/><circle cx="11" cy="53.9" r="1.3" fill="#a020ff"/><circle cx="13.6" cy="55.8" r="1.2" fill="#3040ff"/><circle cx="17.5" cy="53.9" r="2.2" fill="#ff1a1a"/><circle cx="16.8" cy="56.5" r="2.2" fill="#ff1a1a"/><circle cx="22" cy="52.6" r="1.6" fill="#20e0ff"/><circle cx="23.9" cy="55.8" r="1.7" fill="#ff1a1a"/><circle cx="27.2" cy="53.9" r="1.7" fill="#20ff20"/><circle cx="31" cy="50.6" r="1.4" fill="#ff20ff"/><circle cx="29.1" cy="58.4" r="1.6" fill="#ff20ff"/><circle cx="18.1" cy="61" r="2.3" fill="#a020ff"/><circle cx="22" cy="60.3" r="1.9" fill="#20ff20"/><circle cx="21.3" cy="63.6" r="1.5" fill="#3040ff"/><circle cx="15.5" cy="64.2" r="1.6" fill="#ffff30"/><circle cx="16.8" cy="66.2" r="1.4" fill="#ffff30"/><circle cx="12.9" cy="66.2" r="1.4" fill="#ff20ff"/><circle cx="11" cy="70.7" r="1.3" fill="#ffff30"/><circle cx="9.1" cy="73.3" r="1.5" fill="#20e0ff"/><circle cx="8.4" cy="77.8" r="1.1" fill="#20e0ff"/><circle cx="9.7" cy="84.3" r="1.4" fill="#ff1a1a"/><circle cx="23.3" cy="84.9" r="1.5" fill="#20ff20"/><circle cx="29.1" cy="77.2" r="1.1" fill="#3040ff"/><circle cx="30.4" cy="92" r="1.5" fill="#3040ff"/><circle cx="34.3" cy="59.7" r="0.9" fill="#a020ff"/><circle cx="58.2" cy="63.6" r="1.5" fill="#ff20ff"/><circle cx="58.8" cy="67.5" r="1.4" fill="#20e0ff"/><circle cx="51.1" cy="75.2" r="1.8" fill="#20e0ff"/><circle cx="54.3" cy="73.9" r="1.4" fill="#20e0ff"/><circle cx="53.7" cy="77.8" r="1.9" fill="#ffa020"/><circle cx="49.8" cy="79.1" r="1.7" fill="#20e0ff"/><circle cx="46.6" cy="79.1" r="1.1" fill="#a020ff"/><circle cx="50.4" cy="83.6" r="1.5" fill="#ffa020"/><circle cx="47.8" cy="83.4" r="1.3" fill="#20e0ff"/><circle cx="44" cy="85.6" r="1.7" fill="#ffa020"/><circle cx="45.3" cy="87.5" r="1.5" fill="#20ff20"/><circle cx="42" cy="88.8" r="1.4" fill="#20e0ff"/><circle cx="48.5" cy="88.8" r="1.4" fill="#ffa020"/><circle cx="39.4" cy="95.9" r="1.2" fill="#a020ff"/><circle cx="44" cy="96.6" r="1.3" fill="#20e0ff"/><circle cx="47.2" cy="95.9" r="1.1" fill="#ff1a1a"/><circle cx="8.8" cy="105" r="1.7" fill="#3040ff"/><circle cx="36.9" cy="105" r="1.5" fill="#ff20ff"/><circle cx="66.2" cy="5.2" r="1.1" fill="#20ff20"/><circle cx="66.8" cy="10.3" r="1.4" fill="#3040ff"/><circle cx="81" cy="9.7" r="1.3" fill="#20e0ff"/><circle cx="79.1" cy="15.5" r="1.5" fill="#a020ff"/><circle cx="94.6" cy="22" r="2" fill="#a020ff"/><circle cx="92" cy="24.6" r="1.6" fill="#ff1a1a"/><circle cx="89.4" cy="27.2" r="1.1" fill="#3040ff"/><circle cx="86.2" cy="29.1" r="1.4" fill="#20ff20"/><circle cx="61.4" cy="27.8" r="1.6" fill="#ffff30"/><circle cx="84.9" cy="38.1" r="1.2" fill="#20ff20"/><circle cx="81.7" cy="40.1" r="2" fill="#ffff30"/><circle cx="75.2" cy="42" r="1.3" fill="#a020ff"/><circle cx="77.8" cy="44.6" r="1.3" fill="#20e0ff"/><circle cx="74.6" cy="45.9" r="2.1" fill="#ff1a1a"/><circle cx="80.4" cy="47.2" r="1.9" fill="#ff20ff"/><circle cx="77.2" cy="49.1" r="1.7" fill="#3040ff"/><circle cx="84.3" cy="47.8" r="1.3" fill="#20ff20"/><circle cx="87.5" cy="49.8" r="1.2" fill="#3040ff"/><circle cx="70" cy="49.1" r="1.3" fill="#3040ff"/><circle cx="73.9" cy="51.7" r="1.9" fill="#20ff20"/><circle cx="80.4" cy="51.7" r="1.2" fill="#ffff30"/><circle cx="66.2" cy="53" r="1.5" fill="#ff1a1a"/><circle cx="70.7" cy="55" r="2.1" fill="#ff20ff"/><circle cx="73.9" cy="54.3" r="1.7" fill="#20e0ff"/><circle cx="66.8" cy="56.3" r="1.5" fill="#20ff20"/><circle cx="63.6" cy="57.5" r="1.5" fill="#ffff30"/><circle cx="104.3" cy="43.3" r="1" fill="#20ff20"/><circle cx="108.8" cy="38.8" r="1.2" fill="#ff20ff"/><circle cx="106.9" cy="22.6" r="1" fill="#a020ff"/><circle cx="66.2" cy="53.2" r="1.4" fill="#ff1a1a"/><circle cx="64.9" cy="55.2" r="1.4" fill="#ffff30"/><circle cx="66.8" cy="56.5" r="1.4" fill="#20ff20"/><circle cx="62.9" cy="58.4" r="1.7" fill="#ffff30"/><circle cx="70.7" cy="55.2" r="1.7" fill="#ff20ff"/><circle cx="73.9" cy="54.5" r="1.4" fill="#20e0ff"/><circle cx="74.6" cy="51.3" r="1.7" fill="#20ff20"/><circle cx="68.8" cy="58.4" r="1.3" fill="#3040ff"/><circle cx="68.8" cy="62.9" r="2.3" fill="#ff1a1a"/><circle cx="64.9" cy="64.9" r="2.3" fill="#a020ff"/><circle cx="62.9" cy="62.3" r="1.5" fill="#ffff30"/><circle cx="59.1" cy="63.6" r="1.6" fill="#ff20ff"/><circle cx="64.2" cy="67.5" r="1.7" fill="#a020ff"/><circle cx="61" cy="70" r="1.5" fill="#ff20ff"/><circle cx="58.4" cy="67.5" r="1.5" fill="#20e0ff"/><circle cx="54.5" cy="73.9" r="1.4" fill="#20e0ff"/><circle cx="51.3" cy="75.9" r="1.7" fill="#20e0ff"/><circle cx="53.9" cy="77.8" r="1.7" fill="#ffa020"/><circle cx="55.8" cy="77.2" r="1.5" fill="#ffa020"/><circle cx="50.6" cy="83.6" r="1.6" fill="#ffa020"/><circle cx="61" cy="91.4" r="1" fill="#ffff30"/><circle cx="86.2" cy="82.3" r="1.6" fill="#ffa020"/><circle cx="94.6" cy="66.2" r="1.4" fill="#20ff20"/><circle cx="84.9" cy="104.3" r="1.5" fill="#20e0ff"/><circle cx="72.6" cy="107.5" r="1.4" fill="#ff1a1a"/><circle cx="80.4" cy="51.9" r="1" fill="#ffff30"/><rect x="1" y="2.4" width="106.6" height="106.1" fill="none" stroke="#f6f6f6" stroke-width="1.15"/></g><text x="417" y="135.2" class="ins" textLength="15.97" lengthAdjust="spacingAndGlyphs">Inset</text><rect x="495.3" y="225.3" width="19.4" height="1.5" fill="#fff"/><text x="4.2" y="248.9" class="pl">G</text><text x="87.9" y="249.4" class="tt" text-anchor="middle" textLength="52.33" lengthAdjust="spacingAndGlyphs">GLASS SURFACE</text><text x="87.3" y="258.4" class="st" text-anchor="middle" textLength="77.00" lengthAdjust="spacingAndGlyphs">N<tspan class="sub" dy="1.3">loc</tspan><tspan dy="-1.3">/cluster = 54.0 ± 0.5</tspan></text><rect x="37.7" y="282.6" width="4.8" height="49.9" fill="#008000" stroke="#141414" stroke-width="0.7"/><rect x="42.5" y="266.2" width="4.8" height="66.3" fill="#008000" stroke="#141414" stroke-width="0.7"/><rect x="47.4" y="297.2" width="4.8" height="35.3" fill="#008000" stroke="#141414" stroke-width="0.7"/><rect x="52.2" y="313.2" width="4.8" height="19.3" fill="#008000" stroke="#141414" stroke-width="0.7"/><rect x="57" y="322.2" width="4.8" height="10.3" fill="#008000" stroke="#141414" stroke-width="0.7"/><rect x="61.8" y="326.3" width="4.8" height="6.2" fill="#008000" stroke="#141414" stroke-width="0.7"/><rect x="66.7" y="329.2" width="4.8" height="3.3" fill="#008000" stroke="#141414" stroke-width="0.7"/><rect x="71.5" y="330.4" width="4.8" height="2.1" fill="#008000" stroke="#141414" stroke-width="0.7"/><rect x="76.3" y="331.5" width="4.8" height="1" fill="#008000" stroke="#141414" stroke-width="0.7"/><rect x="81.2" y="331.9" width="4.8" height="0.6" fill="#008000" stroke="#141414" stroke-width="0.7"/><rect x="86" y="332.2" width="4.8" height="0.3" fill="#008000" stroke="#141414" stroke-width="0.7"/><rect x="90.8" y="332.3" width="4.8" height="0.2" fill="#008000" stroke="#141414" stroke-width="0.7"/><path d="M34.8,254.5V332.5H131.4" fill="none" stroke="#7a7a7a" stroke-width="1.2"/><line x1="33.4" y1="332.5" x2="34.8" y2="332.5" stroke="#444" stroke-width="0.8"/><text x="32.3" y="334.1" class="tk" text-anchor="end">0</text><line x1="33.4" y1="313" x2="34.8" y2="313" stroke="#444" stroke-width="0.8"/><text x="32.3" y="314.6" class="tk" text-anchor="end">10</text><line x1="33.4" y1="293.5" x2="34.8" y2="293.5" stroke="#444" stroke-width="0.8"/><text x="32.3" y="295.1" class="tk" text-anchor="end">20</text><line x1="33.4" y1="274" x2="34.8" y2="274" stroke="#444" stroke-width="0.8"/><text x="32.3" y="275.6" class="tk" text-anchor="end">30</text><line x1="33.4" y1="254.5" x2="34.8" y2="254.5" stroke="#444" stroke-width="0.8"/><text x="32.3" y="256.1" class="tk" text-anchor="end">40</text><line x1="34.8" y1="332.5" x2="34.8" y2="333.9" stroke="#444" stroke-width="0.8"/><text x="34.8" y="340.2" class="tk" text-anchor="middle">0</text><line x1="58.9" y1="332.5" x2="58.9" y2="333.9" stroke="#444" stroke-width="0.8"/><text x="58.9" y="340.2" class="tk" text-anchor="middle">100</text><line x1="83.1" y1="332.5" x2="83.1" y2="333.9" stroke="#444" stroke-width="0.8"/><text x="83.1" y="340.2" class="tk" text-anchor="middle">200</text><line x1="107.2" y1="332.5" x2="107.2" y2="333.9" stroke="#444" stroke-width="0.8"/><text x="107.2" y="340.2" class="tk" text-anchor="middle">300</text><line x1="131.4" y1="332.5" x2="131.4" y2="333.9" stroke="#444" stroke-width="0.8"/><text x="131.4" y="340.2" class="tk" text-anchor="middle">400</text><text transform="translate(21.5,294.3) rotate(-90)" class="yt" text-anchor="middle" textLength="89.80" lengthAdjust="spacingAndGlyphs">Relative Frequency (%)</text><text x="83.5" y="348.5" class="xt" text-anchor="middle" textLength="85.53" lengthAdjust="spacingAndGlyphs">N localizations/cluster</text><text x="142.1" y="249.4" class="pl">H</text><text x="225" y="249.4" class="tt" text-anchor="middle" textLength="52.33" lengthAdjust="spacingAndGlyphs">GLASS SURFACE</text><text x="225" y="258.4" class="st" text-anchor="middle" textLength="87.25" lengthAdjust="spacingAndGlyphs">Cluster area = 445 ± 4 nm<tspan class="sup" dy="-2.6">2</tspan></text><rect x="178" y="280.3" width="6.5" height="51.7" fill="#008000" stroke="#141414" stroke-width="0.7"/><rect x="186" y="273.1" width="6.5" height="58.9" fill="#008000" stroke="#141414" stroke-width="0.7"/><rect x="194" y="307.5" width="6.5" height="24.5" fill="#008000" stroke="#141414" stroke-width="0.7"/><rect x="202" y="320.7" width="6.5" height="11.3" fill="#008000" stroke="#141414" stroke-width="0.7"/><rect x="210" y="327.3" width="6.5" height="4.7" fill="#008000" stroke="#141414" stroke-width="0.7"/><rect x="217.9" y="329.6" width="6.5" height="2.4" fill="#008000" stroke="#141414" stroke-width="0.7"/><rect x="225.9" y="330.3" width="6.5" height="1.7" fill="#008000" stroke="#141414" stroke-width="0.7"/><rect x="233.9" y="331.1" width="6.5" height="0.9" fill="#008000" stroke="#141414" stroke-width="0.7"/><rect x="241.9" y="331.8" width="6.5" height="0.2" fill="#008000" stroke="#141414" stroke-width="0.7"/><rect x="249.9" y="331.8" width="6.5" height="0.2" fill="#008000" stroke="#141414" stroke-width="0.7"/><path d="M173.3,253.5V332H269.1" fill="none" stroke="#7a7a7a" stroke-width="1.2"/><line x1="171.9" y1="332" x2="173.3" y2="332" stroke="#444" stroke-width="0.8"/><text x="169.9" y="334.1" class="tk" text-anchor="end">0</text><line x1="171.9" y1="316.3" x2="173.3" y2="316.3" stroke="#444" stroke-width="0.8"/><text x="169.9" y="318.4" class="tk" text-anchor="end">10</text><line x1="171.9" y1="300.6" x2="173.3" y2="300.6" stroke="#444" stroke-width="0.8"/><text x="169.9" y="302.7" class="tk" text-anchor="end">20</text><line x1="171.9" y1="284.9" x2="173.3" y2="284.9" stroke="#444" stroke-width="0.8"/><text x="169.9" y="287" class="tk" text-anchor="end">30</text><line x1="171.9" y1="269.2" x2="173.3" y2="269.2" stroke="#444" stroke-width="0.8"/><text x="169.9" y="271.3" class="tk" text-anchor="end">40</text><line x1="171.9" y1="253.5" x2="173.3" y2="253.5" stroke="#444" stroke-width="0.8"/><text x="169.9" y="255.6" class="tk" text-anchor="end">50</text><line x1="173.3" y1="332" x2="173.3" y2="333.4" stroke="#444" stroke-width="0.8"/><text x="173.3" y="339.7" class="tk" text-anchor="middle">0</text><line x1="205.2" y1="332" x2="205.2" y2="333.4" stroke="#444" stroke-width="0.8"/><text x="205.2" y="339.7" class="tk" text-anchor="middle">800</text><line x1="237.1" y1="332" x2="237.1" y2="333.4" stroke="#444" stroke-width="0.8"/><text x="237.1" y="339.7" class="tk" text-anchor="middle">1600</text><line x1="269.1" y1="332" x2="269.1" y2="333.4" stroke="#444" stroke-width="0.8"/><text x="269.1" y="339.7" class="tk" text-anchor="middle">2400</text><text transform="translate(162.8,292.5) rotate(-90)" class="yt" text-anchor="middle" textLength="89.80" lengthAdjust="spacingAndGlyphs">Relative Frequency (%)</text><text x="222.5" y="348.5" class="xt" text-anchor="middle" textLength="71.70" lengthAdjust="spacingAndGlyphs">Cluster area (nm<tspan class="sup" dy="-3">2</tspan><tspan dy="3">)</tspan></text><text x="281.6" y="249.4" class="pl">I</text><text x="362.2" y="249.4" class="tt" text-anchor="middle" textLength="68.27" lengthAdjust="spacingAndGlyphs">GRAPHENE SURFACE</text><text x="362.7" y="258.4" class="st" text-anchor="middle" textLength="77.00" lengthAdjust="spacingAndGlyphs">N<tspan class="sub" dy="1.3">loc</tspan><tspan dy="-1.3">/cluster = 92.5 ± 0.5</tspan></text><rect x="314" y="308" width="4.8" height="24.3" fill="#ff8800" stroke="#141414" stroke-width="0.7"/><rect x="318.9" y="292.9" width="4.8" height="39.4" fill="#ff8800" stroke="#141414" stroke-width="0.7"/><rect x="323.7" y="301.2" width="4.8" height="31.1" fill="#ff8800" stroke="#141414" stroke-width="0.7"/><rect x="328.6" y="308.8" width="4.8" height="23.5" fill="#ff8800" stroke="#141414" stroke-width="0.7"/><rect x="333.4" y="314.5" width="4.8" height="17.8" fill="#ff8800" stroke="#141414" stroke-width="0.7"/><rect x="338.3" y="319.6" width="4.8" height="12.7" fill="#ff8800" stroke="#141414" stroke-width="0.7"/><rect x="343.1" y="321.7" width="4.8" height="10.6" fill="#ff8800" stroke="#141414" stroke-width="0.7"/><rect x="348" y="324.8" width="4.8" height="7.5" fill="#ff8800" stroke="#141414" stroke-width="0.7"/><rect x="352.8" y="326.3" width="4.8" height="6" fill="#ff8800" stroke="#141414" stroke-width="0.7"/><rect x="357.7" y="327.9" width="4.8" height="4.4" fill="#ff8800" stroke="#141414" stroke-width="0.7"/><rect x="362.5" y="329" width="4.8" height="3.3" fill="#ff8800" stroke="#141414" stroke-width="0.7"/><rect x="367.4" y="330" width="4.8" height="2.3" fill="#ff8800" stroke="#141414" stroke-width="0.7"/><rect x="372.2" y="330.4" width="4.8" height="1.9" fill="#ff8800" stroke="#141414" stroke-width="0.7"/><rect x="377.1" y="330.8" width="4.8" height="1.5" fill="#ff8800" stroke="#141414" stroke-width="0.7"/><rect x="381.9" y="331.1" width="4.8" height="1.2" fill="#ff8800" stroke="#141414" stroke-width="0.7"/><rect x="386.8" y="331.5" width="4.8" height="0.8" fill="#ff8800" stroke="#141414" stroke-width="0.7"/><rect x="391.6" y="331.7" width="4.8" height="0.6" fill="#ff8800" stroke="#141414" stroke-width="0.7"/><rect x="396.5" y="331.9" width="4.8" height="0.4" fill="#ff8800" stroke="#141414" stroke-width="0.7"/><rect x="401.3" y="332" width="4.8" height="0.3" fill="#ff8800" stroke="#141414" stroke-width="0.7"/><path d="M311.6,255.1V332.3H408.6" fill="none" stroke="#7a7a7a" stroke-width="1.2"/><line x1="310.2" y1="332.3" x2="311.6" y2="332.3" stroke="#444" stroke-width="0.8"/><text x="309.4" y="333.9" class="tk" text-anchor="end">0</text><line x1="310.2" y1="313" x2="311.6" y2="313" stroke="#444" stroke-width="0.8"/><text x="309.4" y="314.6" class="tk" text-anchor="end">10</text><line x1="310.2" y1="293.7" x2="311.6" y2="293.7" stroke="#444" stroke-width="0.8"/><text x="309.4" y="295.3" class="tk" text-anchor="end">20</text><line x1="310.2" y1="274.4" x2="311.6" y2="274.4" stroke="#444" stroke-width="0.8"/><text x="309.4" y="276" class="tk" text-anchor="end">30</text><line x1="310.2" y1="255.1" x2="311.6" y2="255.1" stroke="#444" stroke-width="0.8"/><text x="309.4" y="256.7" class="tk" text-anchor="end">40</text><line x1="311.6" y1="332.3" x2="311.6" y2="333.7" stroke="#444" stroke-width="0.8"/><text x="311.6" y="340" class="tk" text-anchor="middle">0</text><line x1="335.9" y1="332.3" x2="335.9" y2="333.7" stroke="#444" stroke-width="0.8"/><text x="335.9" y="340" class="tk" text-anchor="middle">100</text><line x1="360.1" y1="332.3" x2="360.1" y2="333.7" stroke="#444" stroke-width="0.8"/><text x="360.1" y="340" class="tk" text-anchor="middle">200</text><line x1="384.4" y1="332.3" x2="384.4" y2="333.7" stroke="#444" stroke-width="0.8"/><text x="384.4" y="340" class="tk" text-anchor="middle">300</text><line x1="408.6" y1="332.3" x2="408.6" y2="333.7" stroke="#444" stroke-width="0.8"/><text x="408.6" y="340" class="tk" text-anchor="middle">400</text><text transform="translate(297.9,293) rotate(-90)" class="yt" text-anchor="middle" textLength="89.80" lengthAdjust="spacingAndGlyphs">Relative Frequency (%)</text><text x="361" y="348.5" class="xt" text-anchor="middle" textLength="85.53" lengthAdjust="spacingAndGlyphs">N localizations/cluster</text><text x="413.6" y="249.4" class="pl">J</text><text x="493" y="249.4" class="tt" text-anchor="middle" textLength="68.27" lengthAdjust="spacingAndGlyphs">GRAPHENE SURFACE</text><text x="493" y="258.4" class="st" text-anchor="middle" textLength="99.69" lengthAdjust="spacingAndGlyphs">Cluster area = 538.9 ± 2.5 nm<tspan class="sup" dy="-2.6">2</tspan></text><rect x="445.5" y="292.6" width="6.6" height="40" fill="#ff8800" stroke="#141414" stroke-width="0.7"/><rect x="453.6" y="280.3" width="6.6" height="52.3" fill="#ff8800" stroke="#141414" stroke-width="0.7"/><rect x="461.6" y="303.8" width="6.6" height="28.8" fill="#ff8800" stroke="#141414" stroke-width="0.7"/><rect x="469.7" y="317.6" width="6.6" height="15" fill="#ff8800" stroke="#141414" stroke-width="0.7"/><rect x="477.7" y="325" width="6.6" height="7.6" fill="#ff8800" stroke="#141414" stroke-width="0.7"/><rect x="485.8" y="328" width="6.6" height="4.6" fill="#ff8800" stroke="#141414" stroke-width="0.7"/><rect x="493.9" y="329.6" width="6.6" height="3" fill="#ff8800" stroke="#141414" stroke-width="0.7"/><rect x="501.9" y="330.6" width="6.6" height="2" fill="#ff8800" stroke="#141414" stroke-width="0.7"/><rect x="510" y="331.2" width="6.6" height="1.4" fill="#ff8800" stroke="#141414" stroke-width="0.7"/><rect x="518" y="331.2" width="6.6" height="1.4" fill="#ff8800" stroke="#141414" stroke-width="0.7"/><rect x="526.1" y="332" width="6.6" height="0.6" fill="#ff8800" stroke="#141414" stroke-width="0.7"/><path d="M440.4,253.9V332.6H537.1" fill="none" stroke="#7a7a7a" stroke-width="1.2"/><line x1="439" y1="332.6" x2="440.4" y2="332.6" stroke="#444" stroke-width="0.8"/><text x="437.1" y="334.7" class="tk" text-anchor="end">0</text><line x1="439" y1="316.9" x2="440.4" y2="316.9" stroke="#444" stroke-width="0.8"/><text x="437.1" y="319" class="tk" text-anchor="end">10</text><line x1="439" y1="301.1" x2="440.4" y2="301.1" stroke="#444" stroke-width="0.8"/><text x="437.1" y="303.2" class="tk" text-anchor="end">20</text><line x1="439" y1="285.4" x2="440.4" y2="285.4" stroke="#444" stroke-width="0.8"/><text x="437.1" y="287.5" class="tk" text-anchor="end">30</text><line x1="439" y1="269.6" x2="440.4" y2="269.6" stroke="#444" stroke-width="0.8"/><text x="437.1" y="271.7" class="tk" text-anchor="end">40</text><line x1="439" y1="253.9" x2="440.4" y2="253.9" stroke="#444" stroke-width="0.8"/><text x="437.1" y="256" class="tk" text-anchor="end">50</text><line x1="440.4" y1="332.6" x2="440.4" y2="334" stroke="#444" stroke-width="0.8"/><text x="440.4" y="340.3" class="tk" text-anchor="middle">0</text><line x1="472.6" y1="332.6" x2="472.6" y2="334" stroke="#444" stroke-width="0.8"/><text x="472.6" y="340.3" class="tk" text-anchor="middle">800</text><line x1="504.9" y1="332.6" x2="504.9" y2="334" stroke="#444" stroke-width="0.8"/><text x="504.9" y="340.3" class="tk" text-anchor="middle">1600</text><line x1="537.1" y1="332.6" x2="537.1" y2="334" stroke="#444" stroke-width="0.8"/><text x="537.1" y="340.3" class="tk" text-anchor="middle">2400</text><text transform="translate(428.4,294.5) rotate(-90)" class="yt" text-anchor="middle" textLength="89.80" lengthAdjust="spacingAndGlyphs">Relative Frequency (%)</text><text x="490" y="348.5" class="xt" text-anchor="middle" textLength="71.70" lengthAdjust="spacingAndGlyphs">Cluster area (nm<tspan class="sup" dy="-3">2</tspan><tspan dy="3">)</tspan></text><text x="4.8" y="364.4" class="pl">K</text><path d="M34.1,362.4V440.4H172.7" fill="none" stroke="#7a7a7a" stroke-width="1.2"/><line x1="32.7" y1="440.4" x2="34.1" y2="440.4" stroke="#444" stroke-width="0.8"/><text x="30.8" y="442" class="tk2" text-anchor="end">0</text><line x1="32.7" y1="420.9" x2="34.1" y2="420.9" stroke="#444" stroke-width="0.8"/><text x="30.8" y="422.5" class="tk2" text-anchor="end">25</text><line x1="32.7" y1="401.4" x2="34.1" y2="401.4" stroke="#444" stroke-width="0.8"/><text x="30.8" y="403" class="tk2" text-anchor="end">50</text><line x1="32.7" y1="381.9" x2="34.1" y2="381.9" stroke="#444" stroke-width="0.8"/><text x="30.8" y="383.5" class="tk2" text-anchor="end">75</text><line x1="32.7" y1="362.4" x2="34.1" y2="362.4" stroke="#444" stroke-width="0.8"/><text x="30.8" y="364" class="tk2" text-anchor="end">100</text><line x1="66" y1="440.4" x2="66" y2="441.8" stroke="#444" stroke-width="0.8"/><text x="66" y="448.1" class="tk2" text-anchor="middle">100</text><line x1="101.1" y1="440.4" x2="101.1" y2="441.8" stroke="#444" stroke-width="0.8"/><text x="101.1" y="448.1" class="tk2" text-anchor="middle">200</text><line x1="136.2" y1="440.4" x2="136.2" y2="441.8" stroke="#444" stroke-width="0.8"/><text x="136.2" y="448.1" class="tk2" text-anchor="middle">300</text><line x1="171.3" y1="440.4" x2="171.3" y2="441.8" stroke="#444" stroke-width="0.8"/><text x="171.3" y="448.1" class="tk2" text-anchor="middle">400</text><path d="M34.2,440.0L34.9,439.2L35.6,438.2L36.3,437.2L37.0,436.1L37.7,434.9L38.4,433.6L39.1,432.2L39.8,430.7L40.5,429.1L41.2,427.3L41.9,425.5L42.6,423.9L43.3,422.4L44.0,421.1L44.6,419.7L45.3,418.3L46.0,416.8L46.7,415.3L47.4,413.9L48.1,412.6L48.8,411.4L49.5,410.3L50.2,409.1L50.9,407.8L51.6,406.6L52.3,405.4L53.0,404.3L53.7,403.2L54.4,402.2L55.1,401.2L55.8,400.1L56.5,399.0L57.2,398.0L57.9,397.0L58.6,396.1L59.3,395.2L60.0,394.4L60.7,393.5L61.4,392.6L62.1,391.7L62.8,390.8L63.5,390.0L64.1,389.3L64.8,388.6L65.5,387.9L66.2,387.3L66.9,386.6L67.6,386.0L68.3,385.4L69.0,384.8L69.7,384.2L70.4,383.7L71.1,383.2L71.8,382.7L72.5,382.2L73.2,381.7L73.9,381.2L74.6,380.8L75.3,380.3L76.0,379.9L76.7,379.5L77.4,379.1L78.1,378.6L78.8,378.2L79.5,377.8L80.2,377.4L80.9,377.0L81.6,376.6L82.3,376.3L83.0,375.9L83.6,375.5L84.3,375.2L85.0,374.8L85.7,374.5L86.4,374.2L87.1,373.8L87.8,373.5L88.5,373.3L89.2,373.0L89.9,372.7L90.6,372.4L91.3,372.2L92.0,371.9L92.7,371.7L93.4,371.5L94.1,371.2L94.8,371.0L95.5,370.8L96.2,370.6L96.9,370.3L97.6,370.1L98.3,369.9L99.0,369.7L99.7,369.5L100.4,369.3L101.1,369.1L101.8,368.9L102.5,368.6L103.1,368.5L103.8,368.3L104.5,368.1L105.2,367.9L105.9,367.7L106.6,367.5L107.3,367.3L108.0,367.2L108.7,367.0L109.4,366.8L110.1,366.7L110.8,366.5L111.5,366.3L112.2,366.2L112.9,366.0L113.6,365.9L114.3,365.7L115.0,365.6L115.7,365.5L116.4,365.3L117.1,365.2L117.8,365.1L118.5,364.9L119.2,364.8L119.9,364.7L120.6,364.6L121.3,364.5L122.0,364.4L122.6,364.3L123.3,364.2L124.0,364.1L124.7,364.0L125.4,363.9L126.1,363.8L126.8,363.7L127.5,363.7L128.2,363.6L128.9,363.5L129.6,363.5L130.3,363.4L131.0,363.4L131.7,363.4L132.4,363.3L133.1,363.3L133.8,363.2L134.5,363.2L135.2,363.2L135.9,363.1L136.6,363.1L137.3,363.1L138.0,363.0L138.7,363.0L139.4,363.0L140.1,362.9L140.8,362.9L141.5,362.9L142.1,362.8L142.8,362.8L143.5,362.8L144.2,362.7L144.9,362.7L145.6,362.7L146.3,362.6L147.0,362.6L147.7,362.6L148.4,362.6L149.1,362.6L149.8,362.6L150.5,362.5L151.2,362.5L151.9,362.5L152.6,362.5L153.3,362.5L154.0,362.5L154.7,362.5L155.4,362.5L156.1,362.4L156.8,362.4L157.5,362.4L158.2,362.4L158.9,362.4L159.6,362.4L160.3,362.4L161.0,362.4L161.6,362.4L162.3,362.4L163.0,362.3L163.7,362.3L164.4,362.3L165.1,362.3L165.8,362.3L166.5,362.3L167.2,362.3L167.9,362.3L168.6,362.3L169.3,362.3L170.0,362.3L170.7,362.3L171.4,362.3" fill="none" stroke="#ff8c1a" stroke-width="1.4"/><path d="M34.2,440.0L34.9,439.3L35.6,438.0L36.3,436.4L37.0,434.3L37.7,431.3L38.4,428.1L39.1,424.5L39.8,421.0L40.5,417.6L41.2,414.3L41.9,411.4L42.6,408.7L43.3,406.3L44.0,404.0L44.7,402.1L45.4,400.3L46.1,398.3L46.8,396.4L47.5,394.5L48.2,392.8L48.9,391.2L49.6,389.7L50.3,388.2L51.0,386.8L51.7,385.3L52.4,384.0L53.1,382.7L53.8,381.6L54.5,380.5L55.2,379.5L55.9,378.5L56.6,377.5L57.3,376.6L58.0,375.8L58.7,375.0L59.4,374.2L60.1,373.5L60.8,372.9L61.5,372.2L62.2,371.6L62.9,371.0L63.5,370.4L64.2,369.8L64.9,369.3L65.6,368.9L66.3,368.4L67.0,368.1L67.7,367.7L68.4,367.4L69.1,367.1L69.8,366.8L70.5,366.5L71.2,366.3L71.9,366.0L72.6,365.8L73.3,365.5L74.0,365.3L74.7,365.1L75.4,364.9L76.1,364.7L76.8,364.6L77.5,364.5L78.2,364.3L78.9,364.2L79.6,364.1L80.3,364.0L81.0,363.9L81.7,363.8L82.4,363.7L83.1,363.6L83.8,363.5L84.5,363.4L85.2,363.3L85.9,363.3L86.6,363.2L87.3,363.1L88.0,363.1L88.7,363.0L89.4,363.0L90.1,362.9L90.8,362.9L91.5,362.8L92.2,362.8L92.9,362.7L93.6,362.7L94.3,362.7L95.0,362.6L95.7,362.6L96.4,362.6L97.1,362.5L97.8,362.5L98.5,362.5L99.2,362.5L99.9,362.5L100.6,362.5L101.3,362.4L102.0,362.4L102.7,362.4L103.4,362.4L104.1,362.4L104.8,362.4L105.5,362.4L106.2,362.4L106.9,362.4L107.6,362.3L108.3,362.3L109.0,362.3L109.7,362.3L110.4,362.3L111.1,362.3L111.8,362.3L112.5,362.3L113.2,362.3L113.9,362.3L114.6,362.3L115.3,362.3L116.0,362.3L116.7,362.3L117.4,362.3L118.1,362.3L118.8,362.3L119.5,362.3L120.2,362.3L120.8,362.3L121.5,362.3L122.2,362.3L122.9,362.3L123.6,362.3L124.3,362.3L125.0,362.3L125.7,362.3L126.4,362.3L127.1,362.3L127.8,362.3L128.5,362.3L129.2,362.3L129.9,362.3L130.6,362.3L131.3,362.3L132.0,362.3L132.7,362.3L133.4,362.3L134.1,362.3L134.8,362.3L135.5,362.3L136.2,362.3L136.9,362.3L137.6,362.3L138.3,362.3L139.0,362.3L139.7,362.3L140.4,362.3L141.1,362.3L141.8,362.3L142.5,362.3L143.2,362.3L143.9,362.3L144.6,362.3L145.3,362.3L146.0,362.3L146.7,362.3L147.4,362.3L148.1,362.3L148.8,362.3L149.5,362.3" fill="none" stroke="#2a9a2a" stroke-width="1.4"/><line x1="95.2" y1="419.9" x2="112.4" y2="419.9" stroke="#2a9a2a" stroke-width="1.6"/><line x1="95.2" y1="429" x2="112.4" y2="429" stroke="#ff8c1a" stroke-width="1.6"/><text x="113.7" y="422.5" class="lg" textLength="44.61" lengthAdjust="spacingAndGlyphs">Glass surface</text><text x="113.7" y="431.6" class="lg" textLength="58.42" lengthAdjust="spacingAndGlyphs">Graphene surface</text><text transform="translate(21.3,401.4) rotate(-90)" class="yt2" text-anchor="middle" textLength="28.80" lengthAdjust="spacingAndGlyphs">CF (%)</text><text x="102.9" y="457.4" class="xt" text-anchor="middle" textLength="85.53" lengthAdjust="spacingAndGlyphs">N localizations/cluster</text><text x="51" y="375.5" class="ast" text-anchor="middle">***</text><text x="189.6" y="365.2" class="pl">L</text><path d="M219.6,362.6V440.3H356.6" fill="none" stroke="#7a7a7a" stroke-width="1.2"/><line x1="218.2" y1="440.3" x2="219.6" y2="440.3" stroke="#444" stroke-width="0.8"/><text x="216.3" y="441.9" class="tk2" text-anchor="end">0</text><line x1="218.2" y1="420.9" x2="219.6" y2="420.9" stroke="#444" stroke-width="0.8"/><text x="216.3" y="422.5" class="tk2" text-anchor="end">25</text><line x1="218.2" y1="401.5" x2="219.6" y2="401.5" stroke="#444" stroke-width="0.8"/><text x="216.3" y="403.1" class="tk2" text-anchor="end">50</text><line x1="218.2" y1="382" x2="219.6" y2="382" stroke="#444" stroke-width="0.8"/><text x="216.3" y="383.6" class="tk2" text-anchor="end">75</text><line x1="218.2" y1="362.6" x2="219.6" y2="362.6" stroke="#444" stroke-width="0.8"/><text x="216.3" y="364.2" class="tk2" text-anchor="end">100</text><line x1="219.7" y1="440.3" x2="219.7" y2="441.7" stroke="#444" stroke-width="0.8"/><text x="219.7" y="448" class="tk2" text-anchor="middle">0</text><line x1="253.7" y1="440.3" x2="253.7" y2="441.7" stroke="#444" stroke-width="0.8"/><text x="253.7" y="448" class="tk2" text-anchor="middle">500</text><line x1="287.7" y1="440.3" x2="287.7" y2="441.7" stroke="#444" stroke-width="0.8"/><text x="287.7" y="448" class="tk2" text-anchor="middle">1000</text><line x1="321.7" y1="440.3" x2="321.7" y2="441.7" stroke="#444" stroke-width="0.8"/><text x="321.7" y="448" class="tk2" text-anchor="middle">1500</text><line x1="355.7" y1="440.3" x2="355.7" y2="441.7" stroke="#444" stroke-width="0.8"/><text x="355.7" y="448" class="tk2" text-anchor="middle">2000</text><path d="M219.0,440.2L219.7,440.2L220.4,440.2L221.1,440.2L221.8,440.1L222.5,440.1L223.2,440.1L223.9,440.0L224.6,440.0L225.3,439.8L226.0,439.7L226.7,439.5L227.4,439.3L228.1,439.0L228.8,438.4L229.5,437.6L230.2,436.8L230.9,435.9L231.6,434.9L232.3,433.7L233.0,432.2L233.7,430.6L234.4,429.0L235.1,427.4L235.8,425.8L236.5,424.0L237.2,422.3L237.9,420.5L238.6,418.7L239.2,417.0L239.9,415.3L240.6,413.6L241.3,412.1L242.0,410.6L242.7,409.0L243.4,407.4L244.1,405.8L244.8,404.2L245.5,402.9L246.2,401.6L246.9,400.4L247.6,399.2L248.3,398.1L249.0,397.1L249.7,396.0L250.4,394.9L251.1,393.8L251.8,392.6L252.5,391.4L253.2,390.2L253.9,389.2L254.6,388.1L255.3,387.1L256.0,386.1L256.7,385.2L257.4,384.3L258.1,383.4L258.8,382.6L259.5,381.9L260.2,381.2L260.9,380.5L261.6,379.9L262.3,379.3L263.0,378.7L263.7,378.2L264.4,377.6L265.1,377.1L265.8,376.5L266.5,376.0L267.2,375.5L267.9,375.0L268.6,374.6L269.3,374.1L270.0,373.7L270.7,373.3L271.4,372.9L272.1,372.6L272.8,372.3L273.5,371.9L274.2,371.6L274.9,371.3L275.6,371.0L276.3,370.7L277.0,370.4L277.7,370.1L278.4,369.8L279.1,369.5L279.7,369.2L280.4,369.0L281.1,368.8L281.8,368.5L282.5,368.3L283.2,368.1L283.9,367.9L284.6,367.7L285.3,367.5L286.0,367.3L286.7,367.2L287.4,367.0L288.1,366.9L288.8,366.7L289.5,366.6L290.2,366.5L290.9,366.3L291.6,366.2L292.3,366.1L293.0,365.9L293.7,365.8L294.4,365.7L295.1,365.6L295.8,365.5L296.5,365.4L297.2,365.3L297.9,365.2L298.6,365.1L299.3,365.1L300.0,365.0L300.7,365.0L301.4,364.9L302.1,364.8L302.8,364.8L303.5,364.7L304.2,364.7L304.9,364.6L305.6,364.5L306.3,364.5L307.0,364.4L307.7,364.3L308.4,364.3L309.1,364.2L309.8,364.1L310.5,364.0L311.2,363.9L311.9,363.8L312.6,363.7L313.3,363.6L314.0,363.6L314.7,363.5L315.4,363.4L316.1,363.4L316.8,363.3L317.5,363.3L318.2,363.2L318.9,363.1L319.6,363.1L320.2,363.0L320.9,363.0L321.6,363.0L322.3,362.9L323.0,362.9L323.7,362.8L324.4,362.8L325.1,362.7L325.8,362.7L326.5,362.7L327.2,362.6L327.9,362.6L328.6,362.6L329.3,362.6L330.0,362.5L330.7,362.5L331.4,362.5L332.1,362.5L332.8,362.4L333.5,362.4L334.2,362.4L334.9,362.4L335.6,362.4L336.3,362.4L337.0,362.3L337.7,362.3L338.4,362.3L339.1,362.3L339.8,362.3" fill="none" stroke="#ff8c1a" stroke-width="1.4"/><path d="M219.0,440.2L219.7,440.2L220.4,440.2L221.1,440.1L221.8,440.1L222.5,440.0L223.2,439.9L223.9,439.7L224.6,439.4L225.3,439.1L226.0,438.8L226.7,438.3L227.3,437.6L228.0,436.8L228.7,435.8L229.4,434.8L230.1,433.8L230.8,432.6L231.5,431.3L232.2,429.8L232.9,428.2L233.6,426.6L234.3,424.7L235.0,422.5L235.7,420.3L236.4,418.3L237.1,416.5L237.8,414.8L238.5,413.1L239.2,411.4L239.9,409.7L240.6,408.0L241.3,406.3L242.0,404.5L242.6,402.8L243.3,401.0L244.0,399.3L244.7,397.6L245.4,395.8L246.1,394.2L246.8,392.8L247.5,391.5L248.2,390.3L248.9,389.2L249.6,388.2L250.3,387.2L251.0,386.3L251.7,385.4L252.4,384.5L253.1,383.6L253.8,382.8L254.5,381.9L255.2,381.1L255.9,380.2L256.6,379.4L257.3,378.7L258.0,378.0L258.6,377.3L259.3,376.7L260.0,376.2L260.7,375.7L261.4,375.2L262.1,374.7L262.8,374.3L263.5,373.8L264.2,373.4L264.9,373.0L265.6,372.6L266.3,372.1L267.0,371.7L267.7,371.3L268.4,371.0L269.1,370.6L269.8,370.3L270.5,370.0L271.2,369.8L271.9,369.5L272.6,369.3L273.3,369.0L273.9,368.8L274.6,368.6L275.3,368.4L276.0,368.2L276.7,368.0L277.4,367.8L278.1,367.6L278.8,367.4L279.5,367.2L280.2,367.0L280.9,366.9L281.6,366.7L282.3,366.6L283.0,366.4L283.7,366.3L284.4,366.2L285.1,366.1L285.8,366.0L286.5,365.9L287.2,365.7L287.9,365.6L288.6,365.5L289.2,365.4L289.9,365.3L290.6,365.2L291.3,365.1L292.0,365.0L292.7,364.9L293.4,364.8L294.1,364.7L294.8,364.6L295.5,364.5L296.2,364.4L296.9,364.3L297.6,364.2L298.3,364.2L299.0,364.1L299.7,364.0L300.4,364.0L301.1,363.9L301.8,363.9L302.5,363.8L303.2,363.7L303.9,363.7L304.6,363.6L305.2,363.6L305.9,363.6L306.6,363.5L307.3,363.5L308.0,363.4L308.7,363.3L309.4,363.3L310.1,363.2L310.8,363.1L311.5,363.1L312.2,363.0L312.9,362.9L313.6,362.9L314.3,362.9L315.0,362.8L315.7,362.8L316.4,362.8L317.1,362.7L317.8,362.7L318.5,362.7L319.2,362.7L319.9,362.6L320.5,362.6L321.2,362.6L321.9,362.6L322.6,362.5L323.3,362.5L324.0,362.5L324.7,362.4L325.4,362.4L326.1,362.4L326.8,362.4L327.5,362.3L328.2,362.3" fill="none" stroke="#2a9a2a" stroke-width="1.4"/><line x1="280.2" y1="419.7" x2="297" y2="419.7" stroke="#2a9a2a" stroke-width="1.6"/><line x1="280.2" y1="429" x2="297" y2="429" stroke="#ff8c1a" stroke-width="1.6"/><text x="298.5" y="422.3" class="lg" textLength="44.61" lengthAdjust="spacingAndGlyphs">Glass surface</text><text x="298.5" y="431.6" class="lg" textLength="58.42" lengthAdjust="spacingAndGlyphs">Graphene surface</text><text transform="translate(206.6,401.5) rotate(-90)" class="yt2" text-anchor="middle" textLength="28.80" lengthAdjust="spacingAndGlyphs">CF (%)</text><text x="288" y="457.4" class="xt" text-anchor="middle" textLength="71.70" lengthAdjust="spacingAndGlyphs">Cluster area (nm<tspan class="sup" dy="-3">2</tspan><tspan dy="3">)</tspan></text><text x="254.3" y="375.5" class="ast" text-anchor="middle">***</text><text x="369.5" y="365.2" class="pl">M</text><path d="M404.2,362.4V440.1H540.6" fill="none" stroke="#7a7a7a" stroke-width="1.2"/><line x1="402.8" y1="440.1" x2="404.2" y2="440.1" stroke="#444" stroke-width="0.8"/><text x="400.9" y="441.7" class="tk2" text-anchor="end">0</text><line x1="402.8" y1="420.7" x2="404.2" y2="420.7" stroke="#444" stroke-width="0.8"/><text x="400.9" y="422.3" class="tk2" text-anchor="end">25</text><line x1="402.8" y1="401.2" x2="404.2" y2="401.2" stroke="#444" stroke-width="0.8"/><text x="400.9" y="402.9" class="tk2" text-anchor="end">50</text><line x1="402.8" y1="381.8" x2="404.2" y2="381.8" stroke="#444" stroke-width="0.8"/><text x="400.9" y="383.4" class="tk2" text-anchor="end">75</text><line x1="402.8" y1="362.4" x2="404.2" y2="362.4" stroke="#444" stroke-width="0.8"/><text x="400.9" y="364" class="tk2" text-anchor="end">100</text><line x1="404.4" y1="440.1" x2="404.4" y2="441.5" stroke="#444" stroke-width="0.8"/><text x="404.4" y="447.8" class="tk2" text-anchor="middle">0.0</text><line x1="438.4" y1="440.1" x2="438.4" y2="441.5" stroke="#444" stroke-width="0.8"/><text x="438.4" y="447.8" class="tk2" text-anchor="middle">0.2</text><line x1="472.4" y1="440.1" x2="472.4" y2="441.5" stroke="#444" stroke-width="0.8"/><text x="472.4" y="447.8" class="tk2" text-anchor="middle">0.4</text><line x1="506.4" y1="440.1" x2="506.4" y2="441.5" stroke="#444" stroke-width="0.8"/><text x="506.4" y="447.8" class="tk2" text-anchor="middle">0.6</text><line x1="540.4" y1="440.1" x2="540.4" y2="441.5" stroke="#444" stroke-width="0.8"/><text x="540.4" y="447.8" class="tk2" text-anchor="middle">0.8</text><path d="M404.0,440.0L404.7,439.2L405.4,438.5L406.1,437.8L406.8,437.1L407.5,436.4L408.2,435.6L408.9,434.8L409.6,434.0L410.3,433.1L411.0,432.1L411.7,431.1L412.4,430.0L413.1,428.8L413.8,427.7L414.5,426.5L415.2,425.3L415.9,424.0L416.6,422.7L417.3,421.2L418.0,419.8L418.7,418.5L419.4,417.2L420.1,416.0L420.8,414.9L421.5,413.6L422.2,412.4L422.9,411.1L423.6,409.9L424.3,408.8L425.0,407.8L425.7,406.8L426.4,405.8L427.1,404.8L427.8,403.8L428.5,402.7L429.2,401.5L429.9,400.1L430.6,398.6L431.3,397.2L432.0,396.0L432.7,394.9L433.4,393.8L434.1,392.7L434.8,391.7L435.5,390.8L436.2,389.8L436.9,388.9L437.6,388.0L438.3,387.2L438.9,386.3L439.6,385.5L440.3,384.8L441.0,384.1L441.7,383.4L442.4,382.7L443.1,382.0L443.8,381.4L444.5,380.8L445.2,380.2L445.9,379.7L446.6,379.1L447.3,378.6L448.0,378.0L448.7,377.5L449.4,377.0L450.1,376.6L450.8,376.1L451.5,375.7L452.2,375.2L452.9,374.9L453.6,374.5L454.3,374.1L455.0,373.8L455.7,373.4L456.4,373.1L457.1,372.8L457.8,372.5L458.5,372.2L459.2,371.9L459.9,371.6L460.6,371.3L461.3,371.0L462.0,370.7L462.7,370.5L463.4,370.3L464.1,370.0L464.8,369.8L465.5,369.6L466.2,369.4L466.9,369.2L467.6,369.1L468.3,368.9L469.0,368.7L469.7,368.5L470.4,368.3L471.1,368.2L471.8,368.0L472.5,367.8L473.2,367.7L473.9,367.5L474.6,367.4L475.3,367.3L476.0,367.2L476.7,367.1L477.4,367.0L478.1,366.9L478.8,366.7L479.5,366.6L480.2,366.5L480.9,366.4L481.6,366.3L482.3,366.2L483.0,366.1L483.7,366.0L484.4,365.9L485.1,365.8L485.8,365.7L486.5,365.6L487.2,365.5L487.9,365.4L488.6,365.3L489.3,365.2L490.0,365.1L490.7,365.0L491.4,364.9L492.1,364.8L492.8,364.7L493.5,364.6L494.2,364.4L494.9,364.3L495.6,364.2L496.3,364.2L497.0,364.1L497.7,364.0L498.4,363.9L499.1,363.8L499.8,363.7L500.5,363.6L501.2,363.6L501.9,363.5L502.6,363.4L503.3,363.4L504.0,363.3L504.7,363.3L505.4,363.2L506.1,363.2L506.8,363.1L507.4,363.1L508.1,363.1L508.8,363.0L509.5,363.0L510.2,362.9L510.9,362.9L511.6,362.9L512.3,362.9L513.0,362.8L513.7,362.8L514.4,362.8L515.1,362.8L515.8,362.7L516.5,362.7L517.2,362.7L517.9,362.7L518.6,362.7L519.3,362.6L520.0,362.6L520.7,362.6L521.4,362.6L522.1,362.6L522.8,362.6L523.5,362.6L524.2,362.5L524.9,362.5L525.6,362.5L526.3,362.5L527.0,362.5L527.7,362.5L528.4,362.5L529.1,362.5L529.8,362.4L530.5,362.4L531.2,362.4L531.9,362.4L532.6,362.4L533.3,362.4L534.0,362.4L534.7,362.4L535.4,362.4L536.1,362.4L536.8,362.4L537.5,362.4L538.2,362.4L538.9,362.4L539.6,362.4L540.3,362.4L541.0,362.4L541.7,362.4" fill="none" stroke="#ff8c1a" stroke-width="1.4"/><path d="M404.0,440.0L404.7,437.4L405.4,435.8L406.1,434.5L406.8,433.2L407.5,431.8L408.2,430.4L408.9,429.0L409.6,427.6L410.3,426.3L411.0,424.9L411.7,423.5L412.4,422.1L413.1,420.7L413.8,419.2L414.5,417.8L415.2,416.4L415.9,415.0L416.6,413.6L417.3,412.2L418.0,410.5L418.7,408.7L419.4,406.9L420.1,405.3L420.8,403.9L421.5,402.5L422.2,401.2L422.8,399.8L423.5,398.4L424.2,397.0L424.9,395.6L425.6,394.4L426.3,393.2L427.0,392.0L427.7,390.7L428.4,389.3L429.1,387.9L429.8,386.5L430.5,385.3L431.2,384.1L431.9,383.0L432.6,382.0L433.3,381.0L434.0,380.0L434.7,379.1L435.4,378.3L436.1,377.5L436.8,376.8L437.5,376.1L438.2,375.5L438.9,374.9L439.6,374.3L440.3,373.7L441.0,373.2L441.7,372.7L442.4,372.3L443.1,371.8L443.8,371.4L444.5,371.0L445.2,370.6L445.9,370.3L446.6,369.9L447.3,369.6L448.0,369.3L448.7,369.0L449.4,368.7L450.1,368.4L450.8,368.1L451.5,367.9L452.2,367.7L452.9,367.5L453.6,367.3L454.3,367.1L455.0,366.9L455.7,366.8L456.4,366.6L457.1,366.5L457.8,366.3L458.5,366.1L459.2,366.0L459.9,365.8L460.5,365.7L461.2,365.6L461.9,365.4L462.6,365.3L463.3,365.2L464.0,365.1L464.7,365.0L465.4,364.9L466.1,364.8L466.8,364.7L467.5,364.6L468.2,364.5L468.9,364.4L469.6,364.3L470.3,364.2L471.0,364.1L471.7,364.0L472.4,363.9L473.1,363.9L473.8,363.8L474.5,363.7L475.2,363.6L475.9,363.5L476.6,363.5L477.3,363.4L478.0,363.3L478.7,363.2L479.4,363.2L480.1,363.1L480.8,363.1L481.5,363.0L482.2,363.0L482.9,362.9L483.6,362.9L484.3,362.8L485.0,362.8L485.7,362.7L486.4,362.7L487.1,362.6L487.8,362.6L488.5,362.5L489.2,362.5L489.9,362.5L490.6,362.5L491.3,362.5L492.0,362.5L492.7,362.5L493.4,362.5L494.1,362.5L494.8,362.4L495.5,362.4L496.2,362.4L496.9,362.4L497.6,362.4L498.2,362.4L498.9,362.4L499.6,362.4L500.3,362.4L501.0,362.4L501.7,362.4L502.4,362.4L503.1,362.4L503.8,362.4L504.5,362.4L505.2,362.4L505.9,362.4L506.6,362.4L507.3,362.4L508.0,362.4L508.7,362.4L509.4,362.4L510.1,362.4L510.8,362.4L511.5,362.4L512.2,362.4L512.9,362.4L513.6,362.4L514.3,362.4L515.0,362.4L515.7,362.4L516.4,362.4" fill="none" stroke="#2a9a2a" stroke-width="1.4"/><line x1="464" y1="419.2" x2="481" y2="419.2" stroke="#2a9a2a" stroke-width="1.6"/><line x1="464" y1="428.8" x2="481" y2="428.8" stroke="#ff8c1a" stroke-width="1.6"/><text x="483" y="421.8" class="lg" textLength="44.61" lengthAdjust="spacingAndGlyphs">Glass surface</text><text x="483" y="431.4" class="lg" textLength="58.42" lengthAdjust="spacingAndGlyphs">Graphene surface</text><text transform="translate(391.2,401.2) rotate(-90)" class="yt2" text-anchor="middle" textLength="28.80" lengthAdjust="spacingAndGlyphs">CF (%)</text><text x="472" y="457.4" class="xt" text-anchor="middle" textLength="106.59" lengthAdjust="spacingAndGlyphs">Cluster Density (NLoc/nm<tspan class="sup" dy="-3">2</tspan><tspan dy="3">)</tspan></text><text x="431.8" y="375.5" class="ast" text-anchor="middle">***</text></svg></body></html>
